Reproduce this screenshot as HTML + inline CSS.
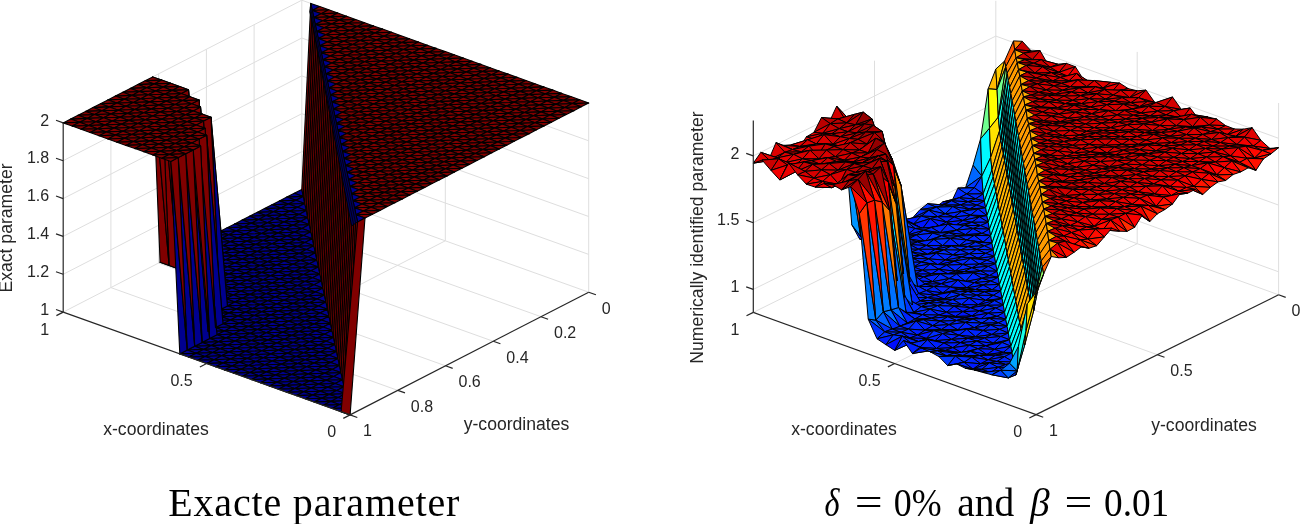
<!DOCTYPE html>
<html><head><meta charset="utf-8"><title>Exact and identified parameter</title>
<style>
html,body{margin:0;padding:0;background:#fff}
body{width:1300px;height:524px;overflow:hidden;position:relative}
svg{position:absolute;left:0;top:0;font-family:"Liberation Sans",sans-serif}
</style></head><body>
<svg width="1300" height="524" viewBox="0 0 1300 524">
<path d="M63.2 274.3L301.8 151.6" stroke="#dedede" stroke-width="1" fill="none"/>
<path d="M301.8 151.6L588.7 254.4" stroke="#dedede" stroke-width="1" fill="none"/>
<path d="M63.2 236.4L301.8 113.7" stroke="#dedede" stroke-width="1" fill="none"/>
<path d="M301.8 113.7L588.7 216.5" stroke="#dedede" stroke-width="1" fill="none"/>
<path d="M63.2 198.6L301.8 75.9" stroke="#dedede" stroke-width="1" fill="none"/>
<path d="M301.8 75.9L588.7 178.7" stroke="#dedede" stroke-width="1" fill="none"/>
<path d="M63.2 160.7L301.8 38" stroke="#dedede" stroke-width="1" fill="none"/>
<path d="M301.8 38L588.7 140.8" stroke="#dedede" stroke-width="1" fill="none"/>
<path d="M63.2 122.9L301.8 0.2" stroke="#dedede" stroke-width="1" fill="none"/>
<path d="M301.8 0.2L588.7 103" stroke="#dedede" stroke-width="1" fill="none"/>
<path d="M254.1 213.9L254.1 24.7" stroke="#dedede" stroke-width="1" fill="none"/>
<path d="M254.1 213.9L541 316.7" stroke="#dedede" stroke-width="1" fill="none"/>
<path d="M206.4 238.5L206.4 49.3" stroke="#dedede" stroke-width="1" fill="none"/>
<path d="M206.4 238.5L493.3 341.3" stroke="#dedede" stroke-width="1" fill="none"/>
<path d="M158.6 263L158.6 73.8" stroke="#dedede" stroke-width="1" fill="none"/>
<path d="M158.6 263L445.5 365.8" stroke="#dedede" stroke-width="1" fill="none"/>
<path d="M110.9 287.6L110.9 98.4" stroke="#dedede" stroke-width="1" fill="none"/>
<path d="M110.9 287.6L397.8 390.4" stroke="#dedede" stroke-width="1" fill="none"/>
<path d="M445.3 240.8L445.3 51.6" stroke="#dedede" stroke-width="1" fill="none"/>
<path d="M445.3 240.8L206.7 363.5" stroke="#dedede" stroke-width="1" fill="none"/>
<path d="M301.8 189.4L301.8 0.2" stroke="#dedede" stroke-width="1" fill="none"/>
<path d="M588.7 292.2L588.7 103" stroke="#dedede" stroke-width="1" fill="none"/>
<path d="M63.2 312.1L301.8 189.4" stroke="#dedede" stroke-width="1" fill="none"/>
<path d="M301.8 189.4L588.7 292.2" stroke="#dedede" stroke-width="1" fill="none"/>
<g stroke="#000" stroke-width="1.1" stroke-linejoin="round">
<path fill="#00008f" d="M301.8 189.4L303.3 196.4L294.3 193.2z"/>
<path fill="#00008f" d="M303.3 196.4L294.3 193.2L286.9 197.1z"/>
<path fill="#00008f" d="M303.3 196.4L295.9 200.3L286.9 197.1z"/>
<path fill="#00008f" d="M295.9 200.3L286.9 197.1L279.4 200.9z"/>
<path fill="#00008f" d="M303.3 196.4L304.8 203.5L295.9 200.3z"/>
<path fill="#00008f" d="M295.9 200.3L288.4 204.1L279.4 200.9z"/>
<path fill="#00008f" d="M304.8 203.5L295.9 200.3L288.4 204.1z"/>
<path fill="#00008f" d="M288.4 204.1L279.4 200.9L272 204.7z"/>
<path fill="#00008f" d="M304.8 203.5L297.4 207.3L288.4 204.1z"/>
<path fill="#00008f" d="M288.4 204.1L280.9 208L272 204.7z"/>
<path fill="#00008f" d="M297.4 207.3L288.4 204.1L280.9 208z"/>
<path fill="#00008f" d="M280.9 208L272 204.7L264.5 208.6z"/>
<path fill="#00008f" d="M304.8 203.5L306.3 210.5L297.4 207.3z"/>
<path fill="#00008f" d="M297.4 207.3L289.9 211.2L280.9 208z"/>
<path fill="#00008f" d="M280.9 208L273.5 211.8L264.5 208.6z"/>
<path fill="#00008f" d="M306.3 210.5L297.4 207.3L289.9 211.2z"/>
<path fill="#00008f" d="M289.9 211.2L280.9 208L273.5 211.8z"/>
<path fill="#00008f" d="M273.5 211.8L264.5 208.6L257.1 212.4z"/>
<path fill="#00008f" d="M306.3 210.5L298.9 214.4L289.9 211.2z"/>
<path fill="#00008f" d="M289.9 211.2L282.5 215L273.5 211.8z"/>
<path fill="#00008f" d="M273.5 211.8L266 215.6L257.1 212.4z"/>
<path fill="#00008f" d="M298.9 214.4L289.9 211.2L282.5 215z"/>
<path fill="#00008f" d="M282.5 215L273.5 211.8L266 215.6z"/>
<path fill="#00008f" d="M306.3 210.5L307.8 217.6L298.9 214.4z"/>
<path fill="#00008f" d="M266 215.6L257.1 212.4L249.6 216.2z"/>
<path fill="#800000" d="M310.8 3.4L312.3 10.5L303.3 196.4L301.8 189.4z"/>
<path fill="#00008f" d="M298.9 214.4L291.4 218.2L282.5 215z"/>
<path fill="#00008f" d="M282.5 215L275 218.8L266 215.6z"/>
<path fill="#00008f" d="M307.8 217.6L298.9 214.4L291.4 218.2z"/>
<path fill="#00008f" d="M266 215.6L258.6 219.5L249.6 216.2z"/>
<path fill="#00008f" d="M291.4 218.2L282.5 215L275 218.8z"/>
<path fill="#00008f" d="M275 218.8L266 215.6L258.6 219.5z"/>
<path fill="#00008f" d="M258.6 219.5L249.6 216.2L242.2 220.1z"/>
<path fill="#00008f" d="M307.8 217.6L300.4 221.4L291.4 218.2z"/>
<path fill="#00008f" d="M291.4 218.2L284 222L275 218.8z"/>
<path fill="#00008f" d="M275 218.8L267.5 222.7L258.6 219.5z"/>
<path fill="#00008f" d="M300.4 221.4L291.4 218.2L284 222z"/>
<path fill="#00008f" d="M258.6 219.5L251.1 223.3L242.2 220.1z"/>
<path fill="#00008f" d="M284 222L275 218.8L267.5 222.7z"/>
<path fill="#00008f" d="M307.8 217.6L309.3 224.6L300.4 221.4z"/>
<path fill="#00008f" d="M267.5 222.7L258.6 219.5L251.1 223.3z"/>
<path fill="#00008f" d="M251.1 223.3L242.2 220.1L234.7 223.9z"/>
<path fill="#800000" d="M312.3 10.5L313.8 17.5L304.8 203.5L303.3 196.4z"/>
<path fill="#00008f" d="M300.4 221.4L292.9 225.3L284 222z"/>
<path fill="#00008f" d="M284 222L276.5 225.9L267.5 222.7z"/>
<path fill="#00008f" d="M309.3 224.6L300.4 221.4L292.9 225.3z"/>
<path fill="#00008f" d="M267.5 222.7L260.1 226.5L251.1 223.3z"/>
<path fill="#00008f" d="M292.9 225.3L284 222L276.5 225.9z"/>
<path fill="#00008f" d="M251.1 223.3L243.7 227.1L234.7 223.9z"/>
<path fill="#00008f" d="M276.5 225.9L267.5 222.7L260.1 226.5z"/>
<path fill="#00008f" d="M260.1 226.5L251.1 223.3L243.7 227.1z"/>
<path fill="#00008f" d="M309.3 224.6L301.9 228.5L292.9 225.3z"/>
<path fill="#00008f" d="M243.7 227.1L234.7 223.9L227.2 227.7z"/>
<path fill="#00008f" d="M292.9 225.3L285.5 229.1L276.5 225.9z"/>
<path fill="#00008f" d="M276.5 225.9L269 229.7L260.1 226.5z"/>
<path fill="#00008f" d="M301.9 228.5L292.9 225.3L285.5 229.1z"/>
<path fill="#00008f" d="M260.1 226.5L252.6 230.3L243.7 227.1z"/>
<path fill="#00008f" d="M285.5 229.1L276.5 225.9L269 229.7z"/>
<path fill="#00008f" d="M309.3 224.6L310.9 231.7L301.9 228.5z"/>
<path fill="#00008f" d="M243.7 227.1L236.2 231L227.2 227.7z"/>
<path fill="#00008f" d="M269 229.7L260.1 226.5L252.6 230.3z"/>
<path fill="#00008f" d="M252.6 230.3L243.7 227.1L236.2 231z"/>
<path fill="#800000" d="M313.8 17.5L315.3 24.6L306.3 210.5L304.8 203.5z"/>
<path fill="#00008f" d="M301.9 228.5L294.4 232.3L285.5 229.1z"/>
<path fill="#00008f" d="M236.2 231L227.2 227.7L219.8 231.6z"/>
<path fill="#00008f" d="M285.5 229.1L278 232.9L269 229.7z"/>
<path fill="#00008f" d="M310.9 231.7L301.9 228.5L294.4 232.3z"/>
<path fill="#00008f" d="M269 229.7L261.6 233.5L252.6 230.3z"/>
<path fill="#00008f" d="M294.4 232.3L285.5 229.1L278 232.9z"/>
<path fill="#00008f" d="M252.6 230.3L245.2 234.2L236.2 231z"/>
<path fill="#00008f" d="M278 232.9L269 229.7L261.6 233.5z"/>
<path fill="#00008f" d="M236.2 231L228.7 234.8L219.8 231.6z"/>
<path fill="#00008f" d="M261.6 233.5L252.6 230.3L245.2 234.2z"/>
<path fill="#00008f" d="M310.9 231.7L303.4 235.5L294.4 232.3z"/>
<path fill="#00008f" d="M245.2 234.2L236.2 231L228.7 234.8z"/>
<path fill="#00008f" d="M294.4 232.3L287 236.1L278 232.9z"/>
<path fill="#00008f" d="M228.7 234.8L219.8 231.6L212.3 235.4z"/>
<path fill="#00008f" d="M278 232.9L270.6 236.8L261.6 233.5z"/>
<path fill="#00008f" d="M303.4 235.5L294.4 232.3L287 236.1z"/>
<path fill="#00008f" d="M261.6 233.5L254.1 237.4L245.2 234.2z"/>
<path fill="#00008f" d="M287 236.1L278 232.9L270.6 236.8z"/>
<path fill="#00008f" d="M310.9 231.7L312.4 238.7L303.4 235.5z"/>
<path fill="#00008f" d="M245.2 234.2L237.7 238L228.7 234.8z"/>
<path fill="#00008f" d="M270.6 236.8L261.6 233.5L254.1 237.4z"/>
<path fill="#00008f" d="M228.7 234.8L221.3 238.6L212.3 235.4z"/>
<path fill="#00008f" d="M254.1 237.4L245.2 234.2L237.7 238z"/>
<path fill="#800000" d="M315.3 24.6L316.8 31.6L307.8 217.6L306.3 210.5z"/>
<path fill="#00008f" d="M303.4 235.5L295.9 239.4L287 236.1z"/>
<path fill="#00008f" d="M237.7 238L228.7 234.8L221.3 238.6z"/>
<path fill="#00008f" d="M287 236.1L279.5 240L270.6 236.8z"/>
<path fill="#00008f" d="M221.3 238.6L212.3 235.4L204.9 239.2z"/>
<path fill="#00008f" d="M312.4 238.7L303.4 235.5L295.9 239.4z"/>
<path fill="#00008f" d="M270.6 236.8L263.1 240.6L254.1 237.4z"/>
<path fill="#00008f" d="M319.7 6.6L310.8 3.4L312.3 10.5z"/>
<path fill="#00008f" d="M295.9 239.4L287 236.1L279.5 240z"/>
<path fill="#00008f" d="M254.1 237.4L246.7 241.2L237.7 238z"/>
<path fill="#00008f" d="M279.5 240L270.6 236.8L263.1 240.6z"/>
<path fill="#00008f" d="M237.7 238L230.3 241.8L221.3 238.6z"/>
<path fill="#00008f" d="M263.1 240.6L254.1 237.4L246.7 241.2z"/>
<path fill="#00008f" d="M221.3 238.6L213.8 242.5L204.9 239.2z"/>
<path fill="#00008f" d="M312.4 238.7L304.9 242.6L295.9 239.4z"/>
<path fill="#00008f" d="M246.7 241.2L237.7 238L230.3 241.8z"/>
<path fill="#800000" d="M328.7 9.8L319.7 6.6L312.3 10.5z"/>
<path fill="#00008f" d="M295.9 239.4L288.5 243.2L279.5 240z"/>
<path fill="#00008f" d="M230.3 241.8L221.3 238.6L213.8 242.5z"/>
<path fill="#00008f" d="M279.5 240L272.1 243.8L263.1 240.6z"/>
<path fill="#00008f" d="M213.8 242.5L204.9 239.2L197.4 243.1z"/>
<path fill="#00008f" d="M304.9 242.6L295.9 239.4L288.5 243.2z"/>
<path fill="#00008f" d="M263.1 240.6L255.6 244.4L246.7 241.2z"/>
<path fill="#00008f" d="M288.5 243.2L279.5 240L272.1 243.8z"/>
<path fill="#00008f" d="M312.4 238.7L313.9 245.8L304.9 242.6z"/>
<path fill="#00008f" d="M246.7 241.2L239.2 245.1L230.3 241.8z"/>
<path fill="#800000" d="M328.7 9.8L321.2 13.7L312.3 10.5z"/>
<path fill="#00008f" d="M272.1 243.8L263.1 240.6L255.6 244.4z"/>
<path fill="#00008f" d="M230.3 241.8L222.8 245.7L213.8 242.5z"/>
<path fill="#00008f" d="M255.6 244.4L246.7 241.2L239.2 245.1z"/>
<path fill="#800000" d="M337.7 13.1L328.7 9.8L321.2 13.7z"/>
<path fill="#800000" d="M316.8 31.6L318.3 38.6L309.3 224.6L307.8 217.6z"/>
<path fill="#00008f" d="M213.8 242.5L206.4 246.3L197.4 243.1z"/>
<path fill="#00008f" d="M304.9 242.6L297.5 246.4L288.5 243.2z"/>
<path fill="#00008f" d="M239.2 245.1L230.3 241.8L222.8 245.7z"/>
<path fill="#00008f" d="M288.5 243.2L281 247L272.1 243.8z"/>
<path fill="#00008f" d="M222.8 245.7L213.8 242.5L206.4 246.3z"/>
<path fill="#00008f" d="M313.9 245.8L304.9 242.6L297.5 246.4z"/>
<path fill="#00008f" d="M272.1 243.8L264.6 247.6L255.6 244.4z"/>
<path fill="#00008f" d="M321.2 13.7L312.3 10.5L313.8 17.5z"/>
<path fill="#00008f" d="M206.4 246.3L197.4 243.1L190 246.9z"/>
<path fill="#00008f" d="M297.5 246.4L288.5 243.2L281 247z"/>
<path fill="#00008f" d="M255.6 244.4L248.2 248.3L239.2 245.1z"/>
<path fill="#800000" d="M337.7 13.1L330.2 16.9L321.2 13.7z"/>
<path fill="#00008f" d="M281 247L272.1 243.8L264.6 247.6z"/>
<path fill="#00008f" d="M239.2 245.1L231.8 248.9L222.8 245.7z"/>
<path fill="#00008f" d="M264.6 247.6L255.6 244.4L248.2 248.3z"/>
<path fill="#800000" d="M346.6 16.3L337.7 13.1L330.2 16.9z"/>
<path fill="#00008f" d="M222.8 245.7L215.3 249.5L206.4 246.3z"/>
<path fill="#00008f" d="M313.9 245.8L306.4 249.6L297.5 246.4z"/>
<path fill="#00008f" d="M248.2 248.3L239.2 245.1L231.8 248.9z"/>
<path fill="#800000" d="M330.2 16.9L321.2 13.7L313.8 17.5z"/>
<path fill="#00008f" d="M206.4 246.3L198.9 250.1L190 246.9z"/>
<path fill="#00008f" d="M297.5 246.4L290 250.2L281 247z"/>
<path fill="#00008f" d="M231.8 248.9L222.8 245.7L215.3 249.5z"/>
<path fill="#00008f" d="M281 247L273.6 250.9L264.6 247.6z"/>
<path fill="#00008f" d="M215.3 249.5L206.4 246.3L198.9 250.1z"/>
<path fill="#00008f" d="M306.4 249.6L297.5 246.4L290 250.2z"/>
<path fill="#00008f" d="M264.6 247.6L257.2 251.5L248.2 248.3z"/>
<path fill="#800000" d="M346.6 16.3L339.2 20.1L330.2 16.9z"/>
<path fill="#00008f" d="M198.9 250.1L190 246.9L182.5 250.7z"/>
<path fill="#00008f" d="M290 250.2L281 247L273.6 250.9z"/>
<path fill="#00008f" d="M313.9 245.8L315.4 252.8L306.4 249.6z"/>
<path fill="#00008f" d="M248.2 248.3L240.7 252.1L231.8 248.9z"/>
<path fill="#800000" d="M330.2 16.9L322.8 20.7L313.8 17.5z"/>
<path fill="#00008f" d="M273.6 250.9L264.6 247.6L257.2 251.5z"/>
<path fill="#800000" d="M355.6 19.5L346.6 16.3L339.2 20.1z"/>
<path fill="#00008f" d="M231.8 248.9L224.3 252.7L215.3 249.5z"/>
<path fill="#00008f" d="M257.2 251.5L248.2 248.3L240.7 252.1z"/>
<path fill="#800000" d="M339.2 20.1L330.2 16.9L322.8 20.7z"/>
<path fill="#800000" d="M318.3 38.6L319.8 45.7L310.9 231.7L309.3 224.6z"/>
<path fill="#00008f" d="M215.3 249.5L207.9 253.3L198.9 250.1z"/>
<path fill="#00008f" d="M306.4 249.6L299 253.4L290 250.2z"/>
<path fill="#00008f" d="M240.7 252.1L231.8 248.9L224.3 252.7z"/>
<path fill="#00008f" d="M198.9 250.1L191.5 254L182.5 250.7z"/>
<path fill="#00008f" d="M290 250.2L282.5 254.1L273.6 250.9z"/>
<path fill="#00008f" d="M224.3 252.7L215.3 249.5L207.9 253.3z"/>
<path fill="#00008f" d="M315.4 252.8L306.4 249.6L299 253.4z"/>
<path fill="#00008f" d="M273.6 250.9L266.1 254.7L257.2 251.5z"/>
<path fill="#00008f" d="M322.8 20.7L313.8 17.5L315.3 24.6z"/>
<path fill="#800000" d="M355.6 19.5L348.1 23.3L339.2 20.1z"/>
<path fill="#00008f" d="M207.9 253.3L198.9 250.1L191.5 254z"/>
<path fill="#00008f" d="M299 253.4L290 250.2L282.5 254.1z"/>
<path fill="#00008f" d="M257.2 251.5L249.7 255.3L240.7 252.1z"/>
<path fill="#800000" d="M339.2 20.1L331.7 23.9L322.8 20.7z"/>
<path fill="#00008f" d="M191.5 254L182.5 250.7L175 254.6z"/>
<path fill="#00008f" d="M282.5 254.1L273.6 250.9L266.1 254.7z"/>
<path fill="#800000" d="M364.6 22.7L355.6 19.5L348.1 23.3z"/>
<path fill="#00008f" d="M240.7 252.1L233.3 255.9L224.3 252.7z"/>
<path fill="#00008f" d="M266.1 254.7L257.2 251.5L249.7 255.3z"/>
<path fill="#800000" d="M348.1 23.3L339.2 20.1L331.7 23.9z"/>
<path fill="#00008f" d="M224.3 252.7L216.9 256.6L207.9 253.3z"/>
<path fill="#00008f" d="M315.4 252.8L307.9 256.7L299 253.4z"/>
<path fill="#00008f" d="M249.7 255.3L240.7 252.1L233.3 255.9z"/>
<path fill="#800000" d="M331.7 23.9L322.8 20.7L315.3 24.6z"/>
<path fill="#00008f" d="M207.9 253.3L200.4 257.2L191.5 254z"/>
<path fill="#00008f" d="M299 253.4L291.5 257.3L282.5 254.1z"/>
<path fill="#00008f" d="M233.3 255.9L224.3 252.7L216.9 256.6z"/>
<path fill="#00008f" d="M191.5 254L184 257.8L175 254.6z"/>
<path fill="#00008f" d="M282.5 254.1L275.1 257.9L266.1 254.7z"/>
<path fill="#800000" d="M364.6 22.7L357.1 26.5L348.1 23.3z"/>
<path fill="#00008f" d="M216.9 256.6L207.9 253.3L200.4 257.2z"/>
<path fill="#00008f" d="M307.9 256.7L299 253.4L291.5 257.3z"/>
<path fill="#00008f" d="M266.1 254.7L258.7 258.5L249.7 255.3z"/>
<path fill="#800000" d="M348.1 23.3L340.7 27.1L331.7 23.9z"/>
<path fill="#00008f" d="M200.4 257.2L191.5 254L184 257.8z"/>
<path fill="#00008f" d="M291.5 257.3L282.5 254.1L275.1 257.9z"/>
<path fill="#00008f" d="M315.4 252.8L316.9 259.9L307.9 256.7z"/>
<path fill="#800000" d="M373.5 25.9L364.6 22.7L357.1 26.5z"/>
<path fill="#00008f" d="M249.7 255.3L242.2 259.1L233.3 255.9z"/>
<path fill="#800000" d="M331.7 23.9L324.3 27.8L315.3 24.6z"/>
<path fill="#00008f" d="M184 257.8L175 254.6L167.6 258.4z"/>
<path fill="#00008f" d="M275.1 257.9L266.1 254.7L258.7 258.5z"/>
<path fill="#800000" d="M357.1 26.5L348.1 23.3L340.7 27.1z"/>
<path fill="#00008f" d="M233.3 255.9L225.8 259.8L216.9 256.6z"/>
<path fill="#00008f" d="M258.7 258.5L249.7 255.3L242.2 259.1z"/>
<path fill="#800000" d="M340.7 27.1L331.7 23.9L324.3 27.8z"/>
<path fill="#800000" d="M319.8 45.7L321.3 52.7L312.4 238.7L310.9 231.7z"/>
<path fill="#00008f" d="M216.9 256.6L209.4 260.4L200.4 257.2z"/>
<path fill="#00008f" d="M307.9 256.7L300.5 260.5L291.5 257.3z"/>
<path fill="#00008f" d="M242.2 259.1L233.3 255.9L225.8 259.8z"/>
<path fill="#00008f" d="M200.4 257.2L193 261L184 257.8z"/>
<path fill="#00008f" d="M291.5 257.3L284.1 261.1L275.1 257.9z"/>
<path fill="#800000" d="M373.5 25.9L366.1 29.7L357.1 26.5z"/>
<path fill="#00008f" d="M225.8 259.8L216.9 256.6L209.4 260.4z"/>
<path fill="#00008f" d="M316.9 259.9L307.9 256.7L300.5 260.5z"/>
<path fill="#00008f" d="M184 257.8L176.6 261.6L167.6 258.4z"/>
<path fill="#00008f" d="M275.1 257.9L267.6 261.7L258.7 258.5z"/>
<path fill="#00008f" d="M324.3 27.8L315.3 24.6L316.8 31.6z"/>
<path fill="#800000" d="M357.1 26.5L349.6 30.4L340.7 27.1z"/>
<path fill="#00008f" d="M209.4 260.4L200.4 257.2L193 261z"/>
<path fill="#00008f" d="M300.5 260.5L291.5 257.3L284.1 261.1z"/>
<path fill="#800000" d="M382.5 29.1L373.5 25.9L366.1 29.7z"/>
<path fill="#00008f" d="M258.7 258.5L251.2 262.4L242.2 259.1z"/>
<path fill="#800000" d="M340.7 27.1L333.2 31L324.3 27.8z"/>
<path fill="#00008f" d="M193 261L184 257.8L176.6 261.6z"/>
<path fill="#00008f" d="M284.1 261.1L275.1 257.9L267.6 261.7z"/>
<path fill="#800000" d="M366.1 29.7L357.1 26.5L349.6 30.4z"/>
<path fill="#00008f" d="M242.2 259.1L234.8 263L225.8 259.8z"/>
<path fill="#00008f" d="M176.6 261.6L167.6 258.4L160.1 262.3z"/>
<path fill="#00008f" d="M267.6 261.7L258.7 258.5L251.2 262.4z"/>
<path fill="#800000" d="M349.6 30.4L340.7 27.1L333.2 31z"/>
<path fill="#00008f" d="M225.8 259.8L218.4 263.6L209.4 260.4z"/>
<path fill="#00008f" d="M316.9 259.9L309.4 263.7L300.5 260.5z"/>
<path fill="#00008f" d="M251.2 262.4L242.2 259.1L234.8 263z"/>
<path fill="#800000" d="M333.2 31L324.3 27.8L316.8 31.6z"/>
<path fill="#00008f" d="M209.4 260.4L201.9 264.2L193 261z"/>
<path fill="#00008f" d="M300.5 260.5L293 264.3L284.1 261.1z"/>
<path fill="#800000" d="M382.5 29.1L375 32.9L366.1 29.7z"/>
<path fill="#00008f" d="M234.8 263L225.8 259.8L218.4 263.6z"/>
<path fill="#00008f" d="M193 261L185.5 264.8L176.6 261.6z"/>
<path fill="#00008f" d="M284.1 261.1L276.6 264.9L267.6 261.7z"/>
<path fill="#800000" d="M366.1 29.7L358.6 33.6L349.6 30.4z"/>
<path fill="#00008f" d="M218.4 263.6L209.4 260.4L201.9 264.2z"/>
<path fill="#00008f" d="M309.4 263.7L300.5 260.5L293 264.3z"/>
<path fill="#800000" d="M391.5 32.3L382.5 29.1L375 32.9z"/>
<path fill="#00008f" d="M176.6 261.6L169.1 265.5L160.1 262.3z"/>
<path fill="#00008f" d="M267.6 261.7L260.2 265.6L251.2 262.4z"/>
<path fill="#800000" d="M349.6 30.4L342.2 34.2L333.2 31z"/>
<path fill="#00008f" d="M201.9 264.2L193 261L185.5 264.8z"/>
<path fill="#00008f" d="M293 264.3L284.1 261.1L276.6 264.9z"/>
<path fill="#00008f" d="M316.9 259.9L318.4 266.9L309.4 263.7z"/>
<path fill="#800000" d="M375 32.9L366.1 29.7L358.6 33.6z"/>
<path fill="#00008f" d="M251.2 262.4L243.8 266.2L234.8 263z"/>
<path fill="#800000" d="M333.2 31L325.8 34.8L316.8 31.6z"/>
<path fill="#00008f" d="M185.5 264.8L176.6 261.6L169.1 265.5z"/>
<path fill="#00008f" d="M276.6 264.9L267.6 261.7L260.2 265.6z"/>
<path fill="#800000" d="M358.6 33.6L349.6 30.4L342.2 34.2z"/>
<path fill="#00008f" d="M234.8 263L227.3 266.8L218.4 263.6z"/>
<path fill="#00008f" d="M260.2 265.6L251.2 262.4L243.8 266.2z"/>
<path fill="#800000" d="M342.2 34.2L333.2 31L325.8 34.8z"/>
<path fill="#800000" d="M321.3 52.7L322.8 59.8L313.9 245.8L312.4 238.7z"/>
<path fill="#00008f" d="M218.4 263.6L210.9 267.4L201.9 264.2z"/>
<path fill="#00008f" d="M309.4 263.7L302 267.5L293 264.3z"/>
<path fill="#800000" d="M391.5 32.3L384 36.2L375 32.9z"/>
<path fill="#00008f" d="M243.8 266.2L234.8 263L227.3 266.8z"/>
<path fill="#00008f" d="M201.9 264.2L194.5 268.1L185.5 264.8z"/>
<path fill="#00008f" d="M293 264.3L285.6 268.2L276.6 264.9z"/>
<path fill="#800000" d="M375 32.9L367.6 36.8L358.6 33.6z"/>
<path fill="#00008f" d="M227.3 266.8L218.4 263.6L210.9 267.4z"/>
<path fill="#00008f" d="M318.4 266.9L309.4 263.7L302 267.5z"/>
<path fill="#800000" d="M400.4 35.5L391.5 32.3L384 36.2z"/>
<path fill="#00008f" d="M185.5 264.8L178.1 268.7L169.1 265.5z"/>
<path fill="#00008f" d="M276.6 264.9L269.1 268.8L260.2 265.6z"/>
<path fill="#00008f" d="M325.8 34.8L316.8 31.6L318.3 38.6z"/>
<path fill="#800000" d="M358.6 33.6L351.2 37.4L342.2 34.2z"/>
<path fill="#00008f" d="M210.9 267.4L201.9 264.2L194.5 268.1z"/>
<path fill="#00008f" d="M302 267.5L293 264.3L285.6 268.2z"/>
<path fill="#800000" d="M384 36.2L375 32.9L367.6 36.8z"/>
<path fill="#00008f" d="M260.2 265.6L252.7 269.4L243.8 266.2z"/>
<path fill="#800000" d="M342.2 34.2L334.7 38L325.8 34.8z"/>
<path fill="#00008f" d="M194.5 268.1L185.5 264.8L178.1 268.7z"/>
<path fill="#00008f" d="M285.6 268.2L276.6 264.9L269.1 268.8z"/>
<path fill="#800000" d="M367.6 36.8L358.6 33.6L351.2 37.4z"/>
<path fill="#00008f" d="M243.8 266.2L236.3 270L227.3 266.8z"/>
<path fill="#00008f" d="M269.1 268.8L260.2 265.6L252.7 269.4z"/>
<path fill="#800000" d="M351.2 37.4L342.2 34.2L334.7 38z"/>
<path fill="#00008f" d="M227.3 266.8L219.9 270.6L210.9 267.4z"/>
<path fill="#00008f" d="M318.4 266.9L310.9 270.8L302 267.5z"/>
<path fill="#800000" d="M400.4 35.5L393 39.4L384 36.2z"/>
<path fill="#00008f" d="M252.7 269.4L243.8 266.2L236.3 270z"/>
<path fill="#800000" d="M334.7 38L325.8 34.8L318.3 38.6z"/>
<path fill="#00008f" d="M210.9 267.4L203.5 271.3L194.5 268.1z"/>
<path fill="#00008f" d="M302 267.5L294.5 271.4L285.6 268.2z"/>
<path fill="#800000" d="M384 36.2L376.5 40L367.6 36.8z"/>
<path fill="#00008f" d="M236.3 270L227.3 266.8L219.9 270.6z"/>
<path fill="#800000" d="M409.4 38.8L400.4 35.5L393 39.4z"/>
<path fill="#00008f" d="M194.5 268.1L187 271.9L178.1 268.7z"/>
<path fill="#00008f" d="M285.6 268.2L278.1 272L269.1 268.8z"/>
<path fill="#800000" d="M367.6 36.8L360.1 40.6L351.2 37.4z"/>
<path fill="#00008f" d="M219.9 270.6L210.9 267.4L203.5 271.3z"/>
<path fill="#00008f" d="M310.9 270.8L302 267.5L294.5 271.4z"/>
<path fill="#800000" d="M393 39.4L384 36.2L376.5 40z"/>
<path fill="#00008f" d="M269.1 268.8L261.7 272.6L252.7 269.4z"/>
<path fill="#800000" d="M351.2 37.4L343.7 41.2L334.7 38z"/>
<path fill="#00008f" d="M203.5 271.3L194.5 268.1L187 271.9z"/>
<path fill="#00008f" d="M294.5 271.4L285.6 268.2L278.1 272z"/>
<path fill="#00008f" d="M318.4 266.9L319.9 274L310.9 270.8z"/>
<path fill="#800000" d="M376.5 40L367.6 36.8L360.1 40.6z"/>
<path fill="#00008f" d="M252.7 269.4L245.3 273.2L236.3 270z"/>
<path fill="#800000" d="M334.7 38L327.3 41.9L318.3 38.6z"/>
<path fill="#00008f" d="M278.1 272L269.1 268.8L261.7 272.6z"/>
<path fill="#800000" d="M360.1 40.6L351.2 37.4L343.7 41.2z"/>
<path fill="#00008f" d="M236.3 270L228.8 273.9L219.9 270.6z"/>
<path fill="#800000" d="M409.4 38.8L401.9 42.6L393 39.4z"/>
<path fill="#00008f" d="M261.7 272.6L252.7 269.4L245.3 273.2z"/>
<path fill="#800000" d="M343.7 41.2L334.7 38L327.3 41.9z"/>
<path fill="#800000" d="M322.8 59.8L324.4 66.8L315.4 252.8L313.9 245.8z"/>
<path fill="#00008f" d="M219.9 270.6L212.4 274.5L203.5 271.3z"/>
<path fill="#00008f" d="M310.9 270.8L303.5 274.6L294.5 271.4z"/>
<path fill="#800000" d="M393 39.4L385.5 43.2L376.5 40z"/>
<path fill="#00008f" d="M245.3 273.2L236.3 270L228.8 273.9z"/>
<path fill="#800000" d="M418.4 42L409.4 38.8L401.9 42.6z"/>
<path fill="#00008f" d="M203.5 271.3L196 275.1L187 271.9z"/>
<path fill="#00008f" d="M294.5 271.4L287.1 275.2L278.1 272z"/>
<path fill="#800000" d="M376.5 40L369.1 43.8L360.1 40.6z"/>
<path fill="#00008f" d="M228.8 273.9L219.9 270.6L212.4 274.5z"/>
<path fill="#00008f" d="M319.9 274L310.9 270.8L303.5 274.6z"/>
<path fill="#800000" d="M401.9 42.6L393 39.4L385.5 43.2z"/>
<path fill="#00008f" d="M278.1 272L270.6 275.8L261.7 272.6z"/>
<path fill="#00008f" d="M327.3 41.9L318.3 38.6L319.8 45.7z"/>
<path fill="#800000" d="M360.1 40.6L352.7 44.5L343.7 41.2z"/>
<path fill="#00008f" d="M212.4 274.5L203.5 271.3L196 275.1z"/>
<path fill="#00008f" d="M303.5 274.6L294.5 271.4L287.1 275.2z"/>
<path fill="#800000" d="M385.5 43.2L376.5 40L369.1 43.8z"/>
<path fill="#00008f" d="M261.7 272.6L254.2 276.4L245.3 273.2z"/>
<path fill="#800000" d="M343.7 41.2L336.2 45.1L327.3 41.9z"/>
<path fill="#00008f" d="M287.1 275.2L278.1 272L270.6 275.8z"/>
<path fill="#800000" d="M369.1 43.8L360.1 40.6L352.7 44.5z"/>
<path fill="#00008f" d="M245.3 273.2L237.8 277.1L228.8 273.9z"/>
<path fill="#800000" d="M418.4 42L410.9 45.8L401.9 42.6z"/>
<path fill="#00008f" d="M270.6 275.8L261.7 272.6L254.2 276.4z"/>
<path fill="#800000" d="M352.7 44.5L343.7 41.2L336.2 45.1z"/>
<path fill="#00008f" d="M228.8 273.9L221.4 277.7L212.4 274.5z"/>
<path fill="#00008f" d="M319.9 274L312.5 277.8L303.5 274.6z"/>
<path fill="#800000" d="M401.9 42.6L394.5 46.4L385.5 43.2z"/>
<path fill="#00008f" d="M254.2 276.4L245.3 273.2L237.8 277.1z"/>
<path fill="#800000" d="M336.2 45.1L327.3 41.9L319.8 45.7z"/>
<path fill="#800000" d="M427.3 45.2L418.4 42L410.9 45.8z"/>
<path fill="#00008f" d="M212.4 274.5L205 278.3L196 275.1z"/>
<path fill="#00008f" d="M303.5 274.6L296 278.4L287.1 275.2z"/>
<path fill="#800000" d="M385.5 43.2L378.1 47L369.1 43.8z"/>
<path fill="#00008f" d="M237.8 277.1L228.8 273.9L221.4 277.7z"/>
<path fill="#800000" d="M410.9 45.8L401.9 42.6L394.5 46.4z"/>
<path fill="#00008f" d="M287.1 275.2L279.6 279L270.6 275.8z"/>
<path fill="#800000" d="M369.1 43.8L361.6 47.7L352.7 44.5z"/>
<path fill="#00008f" d="M221.4 277.7L212.4 274.5L205 278.3z"/>
<path fill="#00008f" d="M312.5 277.8L303.5 274.6L296 278.4z"/>
<path fill="#800000" d="M394.5 46.4L385.5 43.2L378.1 47z"/>
<path fill="#00008f" d="M270.6 275.8L263.2 279.7L254.2 276.4z"/>
<path fill="#800000" d="M352.7 44.5L345.2 48.3L336.2 45.1z"/>
<path fill="#00008f" d="M296 278.4L287.1 275.2L279.6 279z"/>
<path fill="#00008f" d="M319.9 274L321.4 281L312.5 277.8z"/>
<path fill="#800000" d="M378.1 47L369.1 43.8L361.6 47.7z"/>
<path fill="#00008f" d="M254.2 276.4L246.8 280.3L237.8 277.1z"/>
<path fill="#800000" d="M336.2 45.1L328.8 48.9L319.8 45.7z"/>
<path fill="#800000" d="M427.3 45.2L419.9 49L410.9 45.8z"/>
<path fill="#00008f" d="M279.6 279L270.6 275.8L263.2 279.7z"/>
<path fill="#800000" d="M361.6 47.7L352.7 44.5L345.2 48.3z"/>
<path fill="#00008f" d="M237.8 277.1L230.3 280.9L221.4 277.7z"/>
<path fill="#800000" d="M169.1 265.5L160.1 262.3L152.7 76.9z"/>
<path fill="#800000" d="M410.9 45.8L403.4 49.6L394.5 46.4z"/>
<path fill="#00008f" d="M263.2 279.7L254.2 276.4L246.8 280.3z"/>
<path fill="#800000" d="M345.2 48.3L336.2 45.1L328.8 48.9z"/>
<path fill="#800000" d="M436.3 48.4L427.3 45.2L419.9 49z"/>
<path fill="#800000" d="M324.4 66.8L325.9 73.9L316.9 259.9L315.4 252.8z"/>
<path fill="#00008f" d="M221.4 277.7L213.9 281.5L205 278.3z"/>
<path fill="#00008f" d="M312.5 277.8L305 281.6L296 278.4z"/>
<path fill="#800000" d="M394.5 46.4L387 50.3L378.1 47z"/>
<path fill="#00008f" d="M246.8 280.3L237.8 277.1L230.3 280.9z"/>
<path fill="#800000" d="M419.9 49L410.9 45.8L403.4 49.6z"/>
<path fill="#00008f" d="M296 278.4L288.6 282.3L279.6 279z"/>
<path fill="#800000" d="M378.1 47L370.6 50.9L361.6 47.7z"/>
<path fill="#00008f" d="M230.3 280.9L221.4 277.7L213.9 281.5z"/>
<path fill="#00008f" d="M321.4 281L312.5 277.8L305 281.6z"/>
<path fill="#800000" d="M403.4 49.6L394.5 46.4L387 50.3z"/>
<path fill="#00008f" d="M279.6 279L272.2 282.9L263.2 279.7z"/>
<path fill="#00008f" d="M328.8 48.9L319.8 45.7L321.3 52.7z"/>
<path fill="#800000" d="M361.6 47.7L354.2 51.5L345.2 48.3z"/>
<path fill="#00008f" d="M213.9 281.5L205 278.3L197.5 282.1z"/>
<path fill="#00008f" d="M305 281.6L296 278.4L288.6 282.3z"/>
<path fill="#800000" d="M387 50.3L378.1 47L370.6 50.9z"/>
<path fill="#00008f" d="M263.2 279.7L255.7 283.5L246.8 280.3z"/>
<path fill="#800000" d="M345.2 48.3L337.8 52.1L328.8 48.9z"/>
<path fill="#800000" d="M436.3 48.4L428.8 52.2L419.9 49z"/>
<path fill="#00008f" d="M288.6 282.3L279.6 279L272.2 282.9z"/>
<path fill="#800000" d="M370.6 50.9L361.6 47.7L354.2 51.5z"/>
<path fill="#00008f" d="M246.8 280.3L239.3 284.1L230.3 280.9z"/>
<path fill="#800000" d="M178.1 268.7L169.1 265.5L161.6 80.1z"/>
<path fill="#800000" d="M419.9 49L412.4 52.8L403.4 49.6z"/>
<path fill="#00008f" d="M272.2 282.9L263.2 279.7L255.7 283.5z"/>
<path fill="#800000" d="M354.2 51.5L345.2 48.3L337.8 52.1z"/>
<path fill="#800000" d="M445.3 51.6L436.3 48.4L428.8 52.2z"/>
<path fill="#00008f" d="M230.3 280.9L222.9 284.7L213.9 281.5z"/>
<path fill="#00008f" d="M321.4 281L314 284.8L305 281.6z"/>
<path fill="#800000" d="M403.4 49.6L396 53.5L387 50.3z"/>
<path fill="#00008f" d="M255.7 283.5L246.8 280.3L239.3 284.1z"/>
<path fill="#800000" d="M337.8 52.1L328.8 48.9L321.3 52.7z"/>
<path fill="#800000" d="M428.8 52.2L419.9 49L412.4 52.8z"/>
<path fill="#00008f" d="M213.9 281.5L206.5 285.4L197.5 282.1z"/>
<path fill="#00008f" d="M305 281.6L297.5 285.5L288.6 282.3z"/>
<path fill="#800000" d="M387 50.3L379.6 54.1L370.6 50.9z"/>
<path fill="#00008f" d="M239.3 284.1L230.3 280.9L222.9 284.7z"/>
<path fill="#800000" d="M412.4 52.8L403.4 49.6L396 53.5z"/>
<path fill="#00008f" d="M288.6 282.3L281.1 286.1L272.2 282.9z"/>
<path fill="#800000" d="M370.6 50.9L363.1 54.7L354.2 51.5z"/>
<path fill="#00008f" d="M222.9 284.7L213.9 281.5L206.5 285.4z"/>
<path fill="#00008f" d="M314 284.8L305 281.6L297.5 285.5z"/>
<path fill="#800000" d="M396 53.5L387 50.3L379.6 54.1z"/>
<path fill="#00008f" d="M272.2 282.9L264.7 286.7L255.7 283.5z"/>
<path fill="#800000" d="M354.2 51.5L346.7 55.3L337.8 52.1z"/>
<path fill="#800000" d="M445.3 51.6L437.8 55.4L428.8 52.2z"/>
<path fill="#00008f" d="M297.5 285.5L288.6 282.3L281.1 286.1z"/>
<path fill="#00008f" d="M321.4 281L322.9 288.1L314 284.8z"/>
<path fill="#800000" d="M379.6 54.1L370.6 50.9L363.1 54.7z"/>
<path fill="#00008f" d="M255.7 283.5L248.3 287.3L239.3 284.1z"/>
<path fill="#800000" d="M337.8 52.1L330.3 56L321.3 52.7z"/>
<path fill="#800000" d="M187 271.9L178.1 268.7L170.6 83.3z"/>
<path fill="#800000" d="M428.8 52.2L421.4 56.1L412.4 52.8z"/>
<path fill="#00008f" d="M281.1 286.1L272.2 282.9L264.7 286.7z"/>
<path fill="#800000" d="M363.1 54.7L354.2 51.5L346.7 55.3z"/>
<path fill="#800000" d="M454.2 54.8L445.3 51.6L437.8 55.4z"/>
<path fill="#00008f" d="M239.3 284.1L231.9 288L222.9 284.7z"/>
<path fill="#800000" d="M412.4 52.8L405 56.7L396 53.5z"/>
<path fill="#00008f" d="M264.7 286.7L255.7 283.5L248.3 287.3z"/>
<path fill="#800000" d="M346.7 55.3L337.8 52.1L330.3 56z"/>
<path fill="#800000" d="M437.8 55.4L428.8 52.2L421.4 56.1z"/>
<path fill="#800000" d="M325.9 73.9L327.4 80.9L318.4 266.9L316.9 259.9z"/>
<path fill="#00008f" d="M222.9 284.7L215.4 288.6L206.5 285.4z"/>
<path fill="#00008f" d="M314 284.8L306.5 288.7L297.5 285.5z"/>
<path fill="#800000" d="M396 53.5L388.5 57.3L379.6 54.1z"/>
<path fill="#00008f" d="M248.3 287.3L239.3 284.1L231.9 288z"/>
<path fill="#800000" d="M421.4 56.1L412.4 52.8L405 56.7z"/>
<path fill="#00008f" d="M297.5 285.5L290.1 289.3L281.1 286.1z"/>
<path fill="#800000" d="M379.6 54.1L372.1 57.9L363.1 54.7z"/>
<path fill="#00008f" d="M231.9 288L222.9 284.7L215.4 288.6z"/>
<path fill="#00008f" d="M322.9 288.1L314 284.8L306.5 288.7z"/>
<path fill="#800000" d="M405 56.7L396 53.5L388.5 57.3z"/>
<path fill="#00008f" d="M281.1 286.1L273.7 289.9L264.7 286.7z"/>
<path fill="#00008f" d="M330.3 56L321.3 52.7L322.8 59.8z"/>
<path fill="#800000" d="M363.1 54.7L355.7 58.5L346.7 55.3z"/>
<path fill="#800000" d="M454.2 54.8L446.8 58.6L437.8 55.4z"/>
<path fill="#00008f" d="M306.5 288.7L297.5 285.5L290.1 289.3z"/>
<path fill="#800000" d="M388.5 57.3L379.6 54.1L372.1 57.9z"/>
<path fill="#00008f" d="M264.7 286.7L257.2 290.5L248.3 287.3z"/>
<path fill="#800000" d="M346.7 55.3L339.3 59.2L330.3 56z"/>
<path fill="#800000" d="M196 275.1L187 271.9L179.6 86.5z"/>
<path fill="#800000" d="M437.8 55.4L430.3 59.3L421.4 56.1z"/>
<path fill="#00008f" d="M290.1 289.3L281.1 286.1L273.7 289.9z"/>
<path fill="#800000" d="M372.1 57.9L363.1 54.7L355.7 58.5z"/>
<path fill="#800000" d="M463.2 58L454.2 54.8L446.8 58.6z"/>
<path fill="#00008f" d="M248.3 287.3L240.8 291.2L231.9 288z"/>
<path fill="#800000" d="M421.4 56.1L413.9 59.9L405 56.7z"/>
<path fill="#00008f" d="M273.7 289.9L264.7 286.7L257.2 290.5z"/>
<path fill="#800000" d="M355.7 58.5L346.7 55.3L339.3 59.2z"/>
<path fill="#800000" d="M446.8 58.6L437.8 55.4L430.3 59.3z"/>
<path fill="#00008f" d="M231.9 288L224.4 291.8L215.4 288.6z"/>
<path fill="#00008f" d="M322.9 288.1L315.5 291.9L306.5 288.7z"/>
<path fill="#800000" d="M405 56.7L397.5 60.5L388.5 57.3z"/>
<path fill="#00008f" d="M257.2 290.5L248.3 287.3L240.8 291.2z"/>
<path fill="#800000" d="M339.3 59.2L330.3 56L322.8 59.8z"/>
<path fill="#800000" d="M430.3 59.3L421.4 56.1L413.9 59.9z"/>
<path fill="#00008f" d="M306.5 288.7L299.1 292.5L290.1 289.3z"/>
<path fill="#800000" d="M388.5 57.3L381.1 61.1L372.1 57.9z"/>
<path fill="#00008f" d="M240.8 291.2L231.9 288L224.4 291.8z"/>
<path fill="#800000" d="M413.9 59.9L405 56.7L397.5 60.5z"/>
<path fill="#00008f" d="M290.1 289.3L282.6 293.1L273.7 289.9z"/>
<path fill="#800000" d="M372.1 57.9L364.7 61.8L355.7 58.5z"/>
<path fill="#00008f" d="M224.4 291.8L215.4 288.6L208 292.4z"/>
<path fill="#800000" d="M463.2 58L455.7 61.9L446.8 58.6z"/>
<path fill="#00008f" d="M315.5 291.9L306.5 288.7L299.1 292.5z"/>
<path fill="#800000" d="M397.5 60.5L388.5 57.3L381.1 61.1z"/>
<path fill="#00008f" d="M273.7 289.9L266.2 293.8L257.2 290.5z"/>
<path fill="#800000" d="M355.7 58.5L348.2 62.4L339.3 59.2z"/>
<path fill="#800000" d="M205 278.3L196 275.1L188.5 89.7z"/>
<path fill="#800000" d="M446.8 58.6L439.3 62.5L430.3 59.3z"/>
<path fill="#00008f" d="M299.1 292.5L290.1 289.3L282.6 293.1z"/>
<path fill="#00008f" d="M322.9 288.1L324.4 295.1L315.5 291.9z"/>
<path fill="#800000" d="M381.1 61.1L372.1 57.9L364.7 61.8z"/>
<path fill="#800000" d="M472.1 61.2L463.2 58L455.7 61.9z"/>
<path fill="#00008f" d="M257.2 290.5L249.8 294.4L240.8 291.2z"/>
<path fill="#800000" d="M339.3 59.2L331.8 63L322.8 59.8z"/>
<path fill="#800000" d="M430.3 59.3L422.9 63.1L413.9 59.9z"/>
<path fill="#00008f" d="M282.6 293.1L273.7 289.9L266.2 293.8z"/>
<path fill="#800000" d="M364.7 61.8L355.7 58.5L348.2 62.4z"/>
<path fill="#800000" d="M455.7 61.9L446.8 58.6L439.3 62.5z"/>
<path fill="#00008f" d="M240.8 291.2L233.4 295L224.4 291.8z"/>
<path fill="#800000" d="M413.9 59.9L406.5 63.7L397.5 60.5z"/>
<path fill="#00008f" d="M266.2 293.8L257.2 290.5L249.8 294.4z"/>
<path fill="#800000" d="M348.2 62.4L339.3 59.2L331.8 63z"/>
<path fill="#800000" d="M439.3 62.5L430.3 59.3L422.9 63.1z"/>
<path fill="#800000" d="M327.4 80.9L328.9 88L319.9 274L318.4 266.9z"/>
<path fill="#00008f" d="M224.4 291.8L216.9 295.6L208 292.4z"/>
<path fill="#00008f" d="M315.5 291.9L308 295.7L299.1 292.5z"/>
<path fill="#800000" d="M397.5 60.5L390 64.3L381.1 61.1z"/>
<path fill="#00008f" d="M249.8 294.4L240.8 291.2L233.4 295z"/>
<path fill="#800000" d="M422.9 63.1L413.9 59.9L406.5 63.7z"/>
<path fill="#00008f" d="M205 278.3L197.5 282.1L188.5 89.7z"/>
<path fill="#00008f" d="M299.1 292.5L291.6 296.3L282.6 293.1z"/>
<path fill="#800000" d="M381.1 61.1L373.6 65L364.7 61.8z"/>
<path fill="#00008f" d="M233.4 295L224.4 291.8L216.9 295.6z"/>
<path fill="#800000" d="M472.1 61.2L464.7 65.1L455.7 61.9z"/>
<path fill="#00008f" d="M324.4 295.1L315.5 291.9L308 295.7z"/>
<path fill="#800000" d="M406.5 63.7L397.5 60.5L390 64.3z"/>
<path fill="#00008f" d="M282.6 293.1L275.2 297L266.2 293.8z"/>
<path fill="#00008f" d="M331.8 63L322.8 59.8L324.4 66.8z"/>
<path fill="#800000" d="M364.7 61.8L357.2 65.6L348.2 62.4z"/>
<path fill="#800000" d="M455.7 61.9L448.3 65.7L439.3 62.5z"/>
<path fill="#00008f" d="M308 295.7L299.1 292.5L291.6 296.3z"/>
<path fill="#800000" d="M390 64.3L381.1 61.1L373.6 65z"/>
<path fill="#800000" d="M481.1 64.4L472.1 61.2L464.7 65.1z"/>
<path fill="#800000" d="M169.1 265.5L161.6 80.1L152.7 76.9z"/>
<path fill="#00008f" d="M266.2 293.8L258.8 297.6L249.8 294.4z"/>
<path fill="#800000" d="M348.2 62.4L340.8 66.2L331.8 63z"/>
<path fill="#800000" d="M439.3 62.5L431.8 66.3L422.9 63.1z"/>
<path fill="#00008f" d="M291.6 296.3L282.6 293.1L275.2 297z"/>
<path fill="#800000" d="M373.6 65L364.7 61.8L357.2 65.6z"/>
<path fill="#800000" d="M464.7 65.1L455.7 61.9L448.3 65.7z"/>
<path fill="#00008f" d="M249.8 294.4L242.3 298.2L233.4 295z"/>
<path fill="#800000" d="M422.9 63.1L415.4 66.9L406.5 63.7z"/>
<path fill="#00008f" d="M275.2 297L266.2 293.8L258.8 297.6z"/>
<path fill="#800000" d="M357.2 65.6L348.2 62.4L340.8 66.2z"/>
<path fill="#800000" d="M448.3 65.7L439.3 62.5L431.8 66.3z"/>
<path fill="#00008f" d="M233.4 295L225.9 298.8L216.9 295.6z"/>
<path fill="#00008f" d="M324.4 295.1L317 298.9L308 295.7z"/>
<path fill="#800000" d="M406.5 63.7L399 67.6L390 64.3z"/>
<path fill="#00008f" d="M258.8 297.6L249.8 294.4L242.3 298.2z"/>
<path fill="#800000" d="M340.8 66.2L331.8 63L324.4 66.8z"/>
<path fill="#800000" d="M431.8 66.3L422.9 63.1L415.4 66.9z"/>
<path fill="#00008f" d="M308 295.7L300.6 299.6L291.6 296.3z"/>
<path fill="#800000" d="M390 64.3L382.6 68.2L373.6 65z"/>
<path fill="#00008f" d="M242.3 298.2L233.4 295L225.9 298.8z"/>
<path fill="#800000" d="M481.1 64.4L473.7 68.3L464.7 65.1z"/>
<path fill="#800000" d="M415.4 66.9L406.5 63.7L399 67.6z"/>
<path fill="#00008f" d="M291.6 296.3L284.1 300.2L275.2 297z"/>
<path fill="#800000" d="M373.6 65L366.2 68.8L357.2 65.6z"/>
<path fill="#00008f" d="M225.9 298.8L216.9 295.6L209.5 299.5z"/>
<path fill="#800000" d="M464.7 65.1L457.2 68.9L448.3 65.7z"/>
<path fill="#00008f" d="M317 298.9L308 295.7L300.6 299.6z"/>
<path fill="#800000" d="M399 67.6L390 64.3L382.6 68.2z"/>
<path fill="#800000" d="M490.1 67.7L481.1 64.4L473.7 68.3z"/>
<path fill="#800000" d="M178.1 268.7L170.6 83.3L161.6 80.1z"/>
<path fill="#00008f" d="M275.2 297L267.7 300.8L258.8 297.6z"/>
<path fill="#800000" d="M357.2 65.6L349.7 69.4L340.8 66.2z"/>
<path fill="#800000" d="M206.5 285.4L197.5 282.1L190 96.8z"/>
<path fill="#800000" d="M448.3 65.7L440.8 69.5L431.8 66.3z"/>
<path fill="#00008f" d="M300.6 299.6L291.6 296.3L284.1 300.2z"/>
<path fill="#00008f" d="M324.4 295.1L326 302.1L317 298.9z"/>
<path fill="#800000" d="M382.6 68.2L373.6 65L366.2 68.8z"/>
<path fill="#800000" d="M473.7 68.3L464.7 65.1L457.2 68.9z"/>
<path fill="#00008f" d="M258.8 297.6L251.3 301.4L242.3 298.2z"/>
<path fill="#800000" d="M340.8 66.2L333.3 70L324.4 66.8z"/>
<path fill="#800000" d="M431.8 66.3L424.4 70.1L415.4 66.9z"/>
<path fill="#00008f" d="M284.1 300.2L275.2 297L267.7 300.8z"/>
<path fill="#800000" d="M366.2 68.8L357.2 65.6L349.7 69.4z"/>
<path fill="#800000" d="M457.2 68.9L448.3 65.7L440.8 69.5z"/>
<path fill="#00008f" d="M242.3 298.2L234.9 302L225.9 298.8z"/>
<path fill="#800000" d="M415.4 66.9L408 70.8L399 67.6z"/>
<path fill="#00008f" d="M267.7 300.8L258.8 297.6L251.3 301.4z"/>
<path fill="#800000" d="M349.7 69.4L340.8 66.2L333.3 70z"/>
<path fill="#800000" d="M440.8 69.5L431.8 66.3L424.4 70.1z"/>
<path fill="#800000" d="M328.9 88L330.4 95L321.4 281L319.9 274z"/>
<path fill="#00008f" d="M225.9 298.8L218.5 302.7L209.5 299.5z"/>
<path fill="#00008f" d="M317 298.9L309.5 302.8L300.6 299.6z"/>
<path fill="#800000" d="M399 67.6L391.5 71.4L382.6 68.2z"/>
<path fill="#00008f" d="M251.3 301.4L242.3 298.2L234.9 302z"/>
<path fill="#800000" d="M490.1 67.7L482.6 71.5L473.7 68.3z"/>
<path fill="#800000" d="M424.4 70.1L415.4 66.9L408 70.8z"/>
<path fill="#00008f" d="M300.6 299.6L293.1 303.4L284.1 300.2z"/>
<path fill="#800000" d="M382.6 68.2L375.1 72L366.2 68.8z"/>
<path fill="#00008f" d="M234.9 302L225.9 298.8L218.5 302.7z"/>
<path fill="#800000" d="M473.7 68.3L466.2 72.1L457.2 68.9z"/>
<path fill="#00008f" d="M326 302.1L317 298.9L309.5 302.8z"/>
<path fill="#800000" d="M408 70.8L399 67.6L391.5 71.4z"/>
<path fill="#800000" d="M499 70.9L490.1 67.7L482.6 71.5z"/>
<path fill="#800000" d="M187 271.9L179.6 86.5L170.6 83.3z"/>
<path fill="#00008f" d="M284.1 300.2L276.7 304L267.7 300.8z"/>
<path fill="#00008f" d="M333.3 70L324.4 66.8L325.9 73.9z"/>
<path fill="#800000" d="M366.2 68.8L358.7 72.6L349.7 69.4z"/>
<path fill="#800000" d="M215.4 288.6L206.5 285.4L199 100z"/>
<path fill="#800000" d="M457.2 68.9L449.8 72.7L440.8 69.5z"/>
<path fill="#00008f" d="M309.5 302.8L300.6 299.6L293.1 303.4z"/>
<path fill="#800000" d="M391.5 71.4L382.6 68.2L375.1 72z"/>
<path fill="#800000" d="M482.6 71.5L473.7 68.3L466.2 72.1z"/>
<path fill="#00008f" d="M267.7 300.8L260.3 304.6L251.3 301.4z"/>
<path fill="#800000" d="M349.7 69.4L342.3 73.3L333.3 70z"/>
<path fill="#800000" d="M440.8 69.5L433.4 73.4L424.4 70.1z"/>
<path fill="#00008f" d="M293.1 303.4L284.1 300.2L276.7 304z"/>
<path fill="#800000" d="M375.1 72L366.2 68.8L358.7 72.6z"/>
<path fill="#800000" d="M466.2 72.1L457.2 68.9L449.8 72.7z"/>
<path fill="#00008f" d="M251.3 301.4L243.8 305.3L234.9 302z"/>
<path fill="#800000" d="M424.4 70.1L416.9 74L408 70.8z"/>
<path fill="#00008f" d="M276.7 304L267.7 300.8L260.3 304.6z"/>
<path fill="#800000" d="M358.7 72.6L349.7 69.4L342.3 73.3z"/>
<path fill="#800000" d="M449.8 72.7L440.8 69.5L433.4 73.4z"/>
<path fill="#00008f" d="M234.9 302L227.4 305.9L218.5 302.7z"/>
<path fill="#00008f" d="M326 302.1L318.5 306L309.5 302.8z"/>
<path fill="#800000" d="M408 70.8L400.5 74.6L391.5 71.4z"/>
<path fill="#00008f" d="M260.3 304.6L251.3 301.4L243.8 305.3z"/>
<path fill="#800000" d="M499 70.9L491.6 74.7L482.6 71.5z"/>
<path fill="#800000" d="M342.3 73.3L333.3 70L325.9 73.9z"/>
<path fill="#800000" d="M433.4 73.4L424.4 70.1L416.9 74z"/>
<path fill="#00008f" d="M215.4 288.6L208 292.4L199 100z"/>
<path fill="#00008f" d="M309.5 302.8L302.1 306.6L293.1 303.4z"/>
<path fill="#800000" d="M391.5 71.4L384.1 75.2L375.1 72z"/>
<path fill="#00008f" d="M243.8 305.3L234.9 302L227.4 305.9z"/>
<path fill="#800000" d="M482.6 71.5L475.2 75.3L466.2 72.1z"/>
<path fill="#800000" d="M416.9 74L408 70.8L400.5 74.6z"/>
<path fill="#800000" d="M508 74.1L499 70.9L491.6 74.7z"/>
<path fill="#800000" d="M196 275.1L188.5 89.7L179.6 86.5z"/>
<path fill="#00008f" d="M293.1 303.4L285.7 307.2L276.7 304z"/>
<path fill="#800000" d="M375.1 72L367.7 75.9L358.7 72.6z"/>
<path fill="#800000" d="M466.2 72.1L458.7 76L449.8 72.7z"/>
<path fill="#00008f" d="M318.5 306L309.5 302.8L302.1 306.6z"/>
<path fill="#800000" d="M400.5 74.6L391.5 71.4L384.1 75.2z"/>
<path fill="#800000" d="M491.6 74.7L482.6 71.5L475.2 75.3z"/>
<path fill="#00008f" d="M276.7 304L269.2 307.9L260.3 304.6z"/>
<path fill="#800000" d="M358.7 72.6L351.2 76.5L342.3 73.3z"/>
<path fill="#800000" d="M449.8 72.7L442.3 76.6L433.4 73.4z"/>
<path fill="#00008f" d="M302.1 306.6L293.1 303.4L285.7 307.2z"/>
<path fill="#00008f" d="M326 302.1L327.5 309.2L318.5 306z"/>
<path fill="#800000" d="M384.1 75.2L375.1 72L367.7 75.9z"/>
<path fill="#800000" d="M475.2 75.3L466.2 72.1L458.7 76z"/>
<path fill="#00008f" d="M260.3 304.6L252.8 308.5L243.8 305.3z"/>
<path fill="#800000" d="M342.3 73.3L334.8 77.1L325.9 73.9z"/>
<path fill="#800000" d="M433.4 73.4L425.9 77.2L416.9 74z"/>
<path fill="#00008f" d="M285.7 307.2L276.7 304L269.2 307.9z"/>
<path fill="#800000" d="M367.7 75.9L358.7 72.6L351.2 76.5z"/>
<path fill="#800000" d="M458.7 76L449.8 72.7L442.3 76.6z"/>
<path fill="#00008f" d="M243.8 305.3L236.4 309.1L227.4 305.9z"/>
<path fill="#800000" d="M416.9 74L409.5 77.8L400.5 74.6z"/>
<path fill="#00008f" d="M269.2 307.9L260.3 304.6L252.8 308.5z"/>
<path fill="#800000" d="M508 74.1L500.6 77.9L491.6 74.7z"/>
<path fill="#800000" d="M351.2 76.5L342.3 73.3L334.8 77.1z"/>
<path fill="#800000" d="M442.3 76.6L433.4 73.4L425.9 77.2z"/>
<path fill="#800000" d="M330.4 95L331.9 102.1L322.9 288.1L321.4 281z"/>
<path fill="#00008f" d="M318.5 306L311 309.8L302.1 306.6z"/>
<path fill="#800000" d="M400.5 74.6L393.1 78.4L384.1 75.2z"/>
<path fill="#00008f" d="M252.8 308.5L243.8 305.3L236.4 309.1z"/>
<path fill="#800000" d="M491.6 74.7L484.1 78.5L475.2 75.3z"/>
<path fill="#800000" d="M425.9 77.2L416.9 74L409.5 77.8z"/>
<path fill="#800000" d="M517 77.3L508 74.1L500.6 77.9z"/>
<path fill="#00008f" d="M302.1 306.6L294.6 310.4L285.7 307.2z"/>
<path fill="#800000" d="M384.1 75.2L376.6 79.1L367.7 75.9z"/>
<path fill="#00008f" d="M236.4 309.1L227.4 305.9L220 309.7z"/>
<path fill="#800000" d="M475.2 75.3L467.7 79.2L458.7 76z"/>
<path fill="#00008f" d="M327.5 309.2L318.5 306L311 309.8z"/>
<path fill="#800000" d="M409.5 77.8L400.5 74.6L393.1 78.4z"/>
<path fill="#800000" d="M500.6 77.9L491.6 74.7L484.1 78.5z"/>
<path fill="#00008f" d="M285.7 307.2L278.2 311.1L269.2 307.9z"/>
<path fill="#00008f" d="M334.8 77.1L325.9 73.9L327.4 80.9z"/>
<path fill="#800000" d="M367.7 75.9L360.2 79.7L351.2 76.5z"/>
<path fill="#800000" d="M216.9 295.6L208 292.4L200.5 107z"/>
<path fill="#800000" d="M458.7 76L451.3 79.8L442.3 76.6z"/>
<path fill="#00008f" d="M311 309.8L302.1 306.6L294.6 310.4z"/>
<path fill="#800000" d="M393.1 78.4L384.1 75.2L376.6 79.1z"/>
<path fill="#800000" d="M484.1 78.5L475.2 75.3L467.7 79.2z"/>
<path fill="#00008f" d="M269.2 307.9L261.8 311.7L252.8 308.5z"/>
<path fill="#800000" d="M351.2 76.5L343.8 80.3L334.8 77.1z"/>
<path fill="#800000" d="M197.5 282.1L188.5 89.7L181.1 93.6z"/>
<path fill="#800000" d="M442.3 76.6L434.9 80.4L425.9 77.2z"/>
<path fill="#00008f" d="M294.6 310.4L285.7 307.2L278.2 311.1z"/>
<path fill="#800000" d="M376.6 79.1L367.7 75.9L360.2 79.7z"/>
<path fill="#800000" d="M467.7 79.2L458.7 76L451.3 79.8z"/>
<path fill="#00008f" d="M252.8 308.5L245.4 312.3L236.4 309.1z"/>
<path fill="#800000" d="M425.9 77.2L418.4 81L409.5 77.8z"/>
<path fill="#00008f" d="M278.2 311.1L269.2 307.9L261.8 311.7z"/>
<path fill="#800000" d="M517 77.3L509.5 81.1L500.6 77.9z"/>
<path fill="#800000" d="M360.2 79.7L351.2 76.5L343.8 80.3z"/>
<path fill="#800000" d="M451.3 79.8L442.3 76.6L434.9 80.4z"/>
<path fill="#00008f" d="M236.4 309.1L228.9 312.9L220 309.7z"/>
<path fill="#800000" d="M161.6 80.1L152.7 76.9L145.2 80.7z"/>
<path fill="#00008f" d="M327.5 309.2L320 313L311 309.8z"/>
<path fill="#800000" d="M409.5 77.8L402 81.7L393.1 78.4z"/>
<path fill="#00008f" d="M261.8 311.7L252.8 308.5L245.4 312.3z"/>
<path fill="#800000" d="M500.6 77.9L493.1 81.8L484.1 78.5z"/>
<path fill="#800000" d="M343.8 80.3L334.8 77.1L327.4 80.9z"/>
<path fill="#800000" d="M434.9 80.4L425.9 77.2L418.4 81z"/>
<path fill="#800000" d="M525.9 80.5L517 77.3L509.5 81.1z"/>
<path fill="#00008f" d="M216.9 295.6L209.5 299.5L200.5 107z"/>
<path fill="#00008f" d="M311 309.8L303.6 313.7L294.6 310.4z"/>
<path fill="#800000" d="M393.1 78.4L385.6 82.3L376.6 79.1z"/>
<path fill="#00008f" d="M245.4 312.3L236.4 309.1L228.9 312.9z"/>
<path fill="#800000" d="M484.1 78.5L476.7 82.4L467.7 79.2z"/>
<path fill="#800000" d="M418.4 81L409.5 77.8L402 81.7z"/>
<path fill="#800000" d="M509.5 81.1L500.6 77.9L493.1 81.8z"/>
<path fill="#800000" d="M197.5 282.1L190 96.8L181.1 93.6z"/>
<path fill="#00008f" d="M294.6 310.4L287.2 314.3L278.2 311.1z"/>
<path fill="#800000" d="M376.6 79.1L369.2 82.9L360.2 79.7z"/>
<path fill="#00008f" d="M228.9 312.9L220 309.7L212.5 313.5z"/>
<path fill="#800000" d="M467.7 79.2L460.3 83L451.3 79.8z"/>
<path fill="#00008f" d="M320 313L311 309.8L303.6 313.7z"/>
<path fill="#800000" d="M402 81.7L393.1 78.4L385.6 82.3z"/>
<path fill="#800000" d="M493.1 81.8L484.1 78.5L476.7 82.4z"/>
<path fill="#00008f" d="M278.2 311.1L270.7 314.9L261.8 311.7z"/>
<path fill="#800000" d="M360.2 79.7L352.8 83.5L343.8 80.3z"/>
<path fill="#800000" d="M451.3 79.8L443.8 83.6L434.9 80.4z"/>
<path fill="#00008f" d="M303.6 313.7L294.6 310.4L287.2 314.3z"/>
<path fill="#00008f" d="M327.5 309.2L329 316.2L320 313z"/>
<path fill="#800000" d="M385.6 82.3L376.6 79.1L369.2 82.9z"/>
<path fill="#800000" d="M476.7 82.4L467.7 79.2L460.3 83z"/>
<path fill="#800000" d="M161.6 80.1L154.2 83.9L145.2 80.7z"/>
<path fill="#00008f" d="M261.8 311.7L254.3 315.5L245.4 312.3z"/>
<path fill="#800000" d="M343.8 80.3L336.3 84.1L327.4 80.9z"/>
<path fill="#800000" d="M434.9 80.4L427.4 84.2L418.4 81z"/>
<path fill="#00008f" d="M287.2 314.3L278.2 311.1L270.7 314.9z"/>
<path fill="#800000" d="M525.9 80.5L518.5 84.3L509.5 81.1z"/>
<path fill="#800000" d="M369.2 82.9L360.2 79.7L352.8 83.5z"/>
<path fill="#800000" d="M460.3 83L451.3 79.8L443.8 83.6z"/>
<path fill="#00008f" d="M245.4 312.3L237.9 316.1L228.9 312.9z"/>
<path fill="#800000" d="M170.6 83.3L161.6 80.1L154.2 83.9z"/>
<path fill="#800000" d="M418.4 81L411 84.9L402 81.7z"/>
<path fill="#00008f" d="M270.7 314.9L261.8 311.7L254.3 315.5z"/>
<path fill="#800000" d="M509.5 81.1L502.1 85L493.1 81.8z"/>
<path fill="#800000" d="M352.8 83.5L343.8 80.3L336.3 84.1z"/>
<path fill="#800000" d="M443.8 83.6L434.9 80.4L427.4 84.2z"/>
<path fill="#800000" d="M331.9 102.1L333.4 109.1L324.4 295.1L322.9 288.1z"/>
<path fill="#800000" d="M534.9 83.7L525.9 80.5L518.5 84.3z"/>
<path fill="#00008f" d="M228.9 312.9L221.5 316.8L212.5 313.5z"/>
<path fill="#800000" d="M154.2 83.9L145.2 80.7L137.8 84.6z"/>
<path fill="#00008f" d="M320 313L312.5 316.9L303.6 313.7z"/>
<path fill="#800000" d="M402 81.7L394.6 85.5L385.6 82.3z"/>
<path fill="#00008f" d="M254.3 315.5L245.4 312.3L237.9 316.1z"/>
<path fill="#800000" d="M493.1 81.8L485.6 85.6L476.7 82.4z"/>
<path fill="#800000" d="M427.4 84.2L418.4 81L411 84.9z"/>
<path fill="#800000" d="M518.5 84.3L509.5 81.1L502.1 85z"/>
<path fill="#800000" d="M206.5 285.4L199 100L190 96.8z"/>
<path fill="#00008f" d="M303.6 313.7L296.1 317.5L287.2 314.3z"/>
<path fill="#800000" d="M385.6 82.3L378.1 86.1L369.2 82.9z"/>
<path fill="#00008f" d="M237.9 316.1L228.9 312.9L221.5 316.8z"/>
<path fill="#800000" d="M476.7 82.4L469.2 86.2L460.3 83z"/>
<path fill="#00008f" d="M329 316.2L320 313L312.5 316.9z"/>
<path fill="#800000" d="M411 84.9L402 81.7L394.6 85.5z"/>
<path fill="#800000" d="M502.1 85L493.1 81.8L485.6 85.6z"/>
<path fill="#00008f" d="M287.2 314.3L279.7 318.1L270.7 314.9z"/>
<path fill="#00008f" d="M336.3 84.1L327.4 80.9L328.9 88z"/>
<path fill="#800000" d="M369.2 82.9L361.7 86.7L352.8 83.5z"/>
<path fill="#800000" d="M218.5 302.7L209.5 299.5L202 114.1z"/>
<path fill="#800000" d="M460.3 83L452.8 86.8L443.8 83.6z"/>
<path fill="#00008f" d="M312.5 316.9L303.6 313.7L296.1 317.5z"/>
<path fill="#800000" d="M394.6 85.5L385.6 82.3L378.1 86.1z"/>
<path fill="#800000" d="M485.6 85.6L476.7 82.4L469.2 86.2z"/>
<path fill="#800000" d="M170.6 83.3L163.2 87.1L154.2 83.9z"/>
<path fill="#00008f" d="M270.7 314.9L263.3 318.7L254.3 315.5z"/>
<path fill="#800000" d="M352.8 83.5L345.3 87.4L336.3 84.1z"/>
<path fill="#800000" d="M443.8 83.6L436.4 87.5L427.4 84.2z"/>
<path fill="#00008f" d="M296.1 317.5L287.2 314.3L279.7 318.1z"/>
<path fill="#800000" d="M534.9 83.7L527.5 87.6L518.5 84.3z"/>
<path fill="#800000" d="M378.1 86.1L369.2 82.9L361.7 86.7z"/>
<path fill="#800000" d="M469.2 86.2L460.3 83L452.8 86.8z"/>
<path fill="#800000" d="M154.2 83.9L146.7 87.8L137.8 84.6z"/>
<path fill="#00008f" d="M254.3 315.5L246.9 319.4L237.9 316.1z"/>
<path fill="#800000" d="M179.6 86.5L170.6 83.3L163.2 87.1z"/>
<path fill="#800000" d="M427.4 84.2L420 88.1L411 84.9z"/>
<path fill="#00008f" d="M279.7 318.1L270.7 314.9L263.3 318.7z"/>
<path fill="#800000" d="M518.5 84.3L511 88.2L502.1 85z"/>
<path fill="#800000" d="M361.7 86.7L352.8 83.5L345.3 87.4z"/>
<path fill="#800000" d="M452.8 86.8L443.8 83.6L436.4 87.5z"/>
<path fill="#800000" d="M543.9 86.9L534.9 83.7L527.5 87.6z"/>
<path fill="#00008f" d="M237.9 316.1L230.4 320L221.5 316.8z"/>
<path fill="#800000" d="M163.2 87.1L154.2 83.9L146.7 87.8z"/>
<path fill="#00008f" d="M329 316.2L321.5 320.1L312.5 316.9z"/>
<path fill="#800000" d="M411 84.9L403.5 88.7L394.6 85.5z"/>
<path fill="#00008f" d="M263.3 318.7L254.3 315.5L246.9 319.4z"/>
<path fill="#800000" d="M502.1 85L494.6 88.8L485.6 85.6z"/>
<path fill="#800000" d="M345.3 87.4L336.3 84.1L328.9 88z"/>
<path fill="#800000" d="M436.4 87.5L427.4 84.2L420 88.1z"/>
<path fill="#800000" d="M527.5 87.6L518.5 84.3L511 88.2z"/>
<path fill="#800000" d="M146.7 87.8L137.8 84.6L130.3 88.4z"/>
<path fill="#00008f" d="M312.5 316.9L305.1 320.7L296.1 317.5z"/>
<path fill="#800000" d="M394.6 85.5L387.1 89.3L378.1 86.1z"/>
<path fill="#00008f" d="M246.9 319.4L237.9 316.1L230.4 320z"/>
<path fill="#800000" d="M485.6 85.6L478.2 89.4L469.2 86.2z"/>
<path fill="#800000" d="M420 88.1L411 84.9L403.5 88.7z"/>
<path fill="#800000" d="M511 88.2L502.1 85L494.6 88.8z"/>
<path fill="#00008f" d="M296.1 317.5L288.7 321.3L279.7 318.1z"/>
<path fill="#800000" d="M378.1 86.1L370.7 89.9L361.7 86.7z"/>
<path fill="#800000" d="M227.4 305.9L218.5 302.7L211 117.3z"/>
<path fill="#00008f" d="M230.4 320L221.5 316.8L214 320.6z"/>
<path fill="#800000" d="M469.2 86.2L461.8 90L452.8 86.8z"/>
<path fill="#00008f" d="M321.5 320.1L312.5 316.9L305.1 320.7z"/>
<path fill="#800000" d="M403.5 88.7L394.6 85.5L387.1 89.3z"/>
<path fill="#800000" d="M494.6 88.8L485.6 85.6L478.2 89.4z"/>
<path fill="#800000" d="M179.6 86.5L172.1 90.4L163.2 87.1z"/>
<path fill="#00008f" d="M279.7 318.1L272.2 321.9L263.3 318.7z"/>
<path fill="#800000" d="M361.7 86.7L354.3 90.6L345.3 87.4z"/>
<path fill="#800000" d="M208 292.4L199 100L191.6 103.8z"/>
<path fill="#800000" d="M452.8 86.8L445.3 90.7L436.4 87.5z"/>
<path fill="#00008f" d="M305.1 320.7L296.1 317.5L288.7 321.3z"/>
<path fill="#00008f" d="M329 316.2L330.5 323.3L321.5 320.1z"/>
<path fill="#800000" d="M543.9 86.9L536.4 90.8L527.5 87.6z"/>
<path fill="#800000" d="M387.1 89.3L378.1 86.1L370.7 89.9z"/>
<path fill="#800000" d="M478.2 89.4L469.2 86.2L461.8 90z"/>
<path fill="#800000" d="M163.2 87.1L155.7 91L146.7 87.8z"/>
<path fill="#00008f" d="M263.3 318.7L255.8 322.6L246.9 319.4z"/>
<path fill="#800000" d="M345.3 87.4L337.8 91.2L328.9 88z"/>
<path fill="#800000" d="M188.5 89.7L179.6 86.5L172.1 90.4z"/>
<path fill="#800000" d="M436.4 87.5L428.9 91.3L420 88.1z"/>
<path fill="#00008f" d="M288.7 321.3L279.7 318.1L272.2 321.9z"/>
<path fill="#800000" d="M527.5 87.6L520 91.4L511 88.2z"/>
<path fill="#800000" d="M370.7 89.9L361.7 86.7L354.3 90.6z"/>
<path fill="#800000" d="M461.8 90L452.8 86.8L445.3 90.7z"/>
<path fill="#800000" d="M146.7 87.8L139.3 91.6L130.3 88.4z"/>
<path fill="#800000" d="M552.8 90.1L543.9 86.9L536.4 90.8z"/>
<path fill="#00008f" d="M246.9 319.4L239.4 323.2L230.4 320z"/>
<path fill="#800000" d="M172.1 90.4L163.2 87.1L155.7 91z"/>
<path fill="#800000" d="M420 88.1L412.5 91.9L403.5 88.7z"/>
<path fill="#00008f" d="M272.2 321.9L263.3 318.7L255.8 322.6z"/>
<path fill="#800000" d="M511 88.2L503.6 92L494.6 88.8z"/>
<path fill="#800000" d="M354.3 90.6L345.3 87.4L337.8 91.2z"/>
<path fill="#800000" d="M445.3 90.7L436.4 87.5L428.9 91.3z"/>
<path fill="#800000" d="M333.4 109.1L334.9 116.2L326 302.1L324.4 295.1z"/>
<path fill="#800000" d="M536.4 90.8L527.5 87.6L520 91.4z"/>
<path fill="#00008f" d="M227.4 305.9L220 309.7L211 117.3z"/>
<path fill="#00008f" d="M230.4 320L223 323.8L214 320.6z"/>
<path fill="#800000" d="M155.7 91L146.7 87.8L139.3 91.6z"/>
<path fill="#00008f" d="M321.5 320.1L314.1 323.9L305.1 320.7z"/>
<path fill="#800000" d="M403.5 88.7L396.1 92.5L387.1 89.3z"/>
<path fill="#00008f" d="M255.8 322.6L246.9 319.4L239.4 323.2z"/>
<path fill="#800000" d="M494.6 88.8L487.2 92.6L478.2 89.4z"/>
<path fill="#800000" d="M428.9 91.3L420 88.1L412.5 91.9z"/>
<path fill="#800000" d="M520 91.4L511 88.2L503.6 92z"/>
<path fill="#800000" d="M208 292.4L200.5 107L191.6 103.8z"/>
<path fill="#800000" d="M139.3 91.6L130.3 88.4L122.9 92.2z"/>
<path fill="#00008f" d="M305.1 320.7L297.6 324.5L288.7 321.3z"/>
<path fill="#800000" d="M387.1 89.3L379.7 93.2L370.7 89.9z"/>
<path fill="#00008f" d="M239.4 323.2L230.4 320L223 323.8z"/>
<path fill="#800000" d="M478.2 89.4L470.7 93.3L461.8 90z"/>
<path fill="#00008f" d="M330.5 323.3L321.5 320.1L314.1 323.9z"/>
<path fill="#800000" d="M412.5 91.9L403.5 88.7L396.1 92.5z"/>
<path fill="#800000" d="M503.6 92L494.6 88.8L487.2 92.6z"/>
<path fill="#800000" d="M188.5 89.7L181.1 93.6L172.1 90.4z"/>
<path fill="#00008f" d="M288.7 321.3L281.2 325.2L272.2 321.9z"/>
<path fill="#00008f" d="M337.8 91.2L328.9 88L330.4 95z"/>
<path fill="#800000" d="M370.7 89.9L363.2 93.8L354.3 90.6z"/>
<path fill="#800000" d="M461.8 90L454.3 93.9L445.3 90.7z"/>
<path fill="#00008f" d="M314.1 323.9L305.1 320.7L297.6 324.5z"/>
<path fill="#800000" d="M552.8 90.1L545.4 94L536.4 90.8z"/>
<path fill="#800000" d="M396.1 92.5L387.1 89.3L379.7 93.2z"/>
<path fill="#800000" d="M487.2 92.6L478.2 89.4L470.7 93.3z"/>
<path fill="#800000" d="M172.1 90.4L164.7 94.2L155.7 91z"/>
<path fill="#00008f" d="M272.2 321.9L264.8 325.8L255.8 322.6z"/>
<path fill="#800000" d="M354.3 90.6L346.8 94.4L337.8 91.2z"/>
<path fill="#800000" d="M445.3 90.7L437.9 94.5L428.9 91.3z"/>
<path fill="#00008f" d="M297.6 324.5L288.7 321.3L281.2 325.2z"/>
<path fill="#800000" d="M536.4 90.8L529 94.6L520 91.4z"/>
<path fill="#800000" d="M379.7 93.2L370.7 89.9L363.2 93.8z"/>
<path fill="#800000" d="M470.7 93.3L461.8 90L454.3 93.9z"/>
<path fill="#800000" d="M155.7 91L148.2 94.8L139.3 91.6z"/>
<path fill="#800000" d="M561.8 93.4L552.8 90.1L545.4 94z"/>
<path fill="#00008f" d="M255.8 322.6L248.4 326.4L239.4 323.2z"/>
<path fill="#800000" d="M181.1 93.6L172.1 90.4L164.7 94.2z"/>
<path fill="#800000" d="M428.9 91.3L421.5 95.1L412.5 91.9z"/>
<path fill="#00008f" d="M281.2 325.2L272.2 321.9L264.8 325.8z"/>
<path fill="#800000" d="M520 91.4L512.5 95.2L503.6 92z"/>
<path fill="#800000" d="M363.2 93.8L354.3 90.6L346.8 94.4z"/>
<path fill="#800000" d="M454.3 93.9L445.3 90.7L437.9 94.5z"/>
<path fill="#800000" d="M139.3 91.6L131.8 95.4L122.9 92.2z"/>
<path fill="#800000" d="M545.4 94L536.4 90.8L529 94.6z"/>
<path fill="#00008f" d="M239.4 323.2L231.9 327L223 323.8z"/>
<path fill="#800000" d="M164.7 94.2L155.7 91L148.2 94.8z"/>
<path fill="#00008f" d="M330.5 323.3L323 327.1L314.1 323.9z"/>
<path fill="#800000" d="M412.5 91.9L405 95.7L396.1 92.5z"/>
<path fill="#00008f" d="M264.8 325.8L255.8 322.6L248.4 326.4z"/>
<path fill="#800000" d="M503.6 92L496.1 95.8L487.2 92.6z"/>
<path fill="#800000" d="M346.8 94.4L337.8 91.2L330.4 95z"/>
<path fill="#800000" d="M437.9 94.5L428.9 91.3L421.5 95.1z"/>
<path fill="#800000" d="M529 94.6L520 91.4L512.5 95.2z"/>
<path fill="#00008f" d="M220 309.7L212.5 313.5L203.5 121.1z"/>
<path fill="#800000" d="M148.2 94.8L139.3 91.6L131.8 95.4z"/>
<path fill="#00008f" d="M314.1 323.9L306.6 327.7L297.6 324.5z"/>
<path fill="#800000" d="M396.1 92.5L388.6 96.4L379.7 93.2z"/>
<path fill="#00008f" d="M248.4 326.4L239.4 323.2L231.9 327z"/>
<path fill="#800000" d="M487.2 92.6L479.7 96.5L470.7 93.3z"/>
<path fill="#800000" d="M421.5 95.1L412.5 91.9L405 95.7z"/>
<path fill="#800000" d="M512.5 95.2L503.6 92L496.1 95.8z"/>
<path fill="#800000" d="M131.8 95.4L122.9 92.2L115.4 96.1z"/>
<path fill="#00008f" d="M297.6 324.5L290.2 328.4L281.2 325.2z"/>
<path fill="#800000" d="M379.7 93.2L372.2 97L363.2 93.8z"/>
<path fill="#00008f" d="M231.9 327L223 323.8L215.5 327.6z"/>
<path fill="#800000" d="M470.7 93.3L463.3 97.1L454.3 93.9z"/>
<path fill="#00008f" d="M323 327.1L314.1 323.9L306.6 327.7z"/>
<path fill="#800000" d="M561.8 93.4L554.3 97.2L545.4 94z"/>
<path fill="#800000" d="M405 95.7L396.1 92.5L388.6 96.4z"/>
<path fill="#800000" d="M496.1 95.8L487.2 92.6L479.7 96.5z"/>
<path fill="#800000" d="M181.1 93.6L173.6 97.4L164.7 94.2z"/>
<path fill="#00008f" d="M281.2 325.2L273.8 329L264.8 325.8z"/>
<path fill="#800000" d="M363.2 93.8L355.8 97.6L346.8 94.4z"/>
<path fill="#800000" d="M209.5 299.5L200.5 107L193.1 110.9z"/>
<path fill="#800000" d="M454.3 93.9L446.9 97.7L437.9 94.5z"/>
<path fill="#00008f" d="M306.6 327.7L297.6 324.5L290.2 328.4z"/>
<path fill="#00008f" d="M330.5 323.3L332 330.3L323 327.1z"/>
<path fill="#800000" d="M545.4 94L537.9 97.8L529 94.6z"/>
<path fill="#800000" d="M388.6 96.4L379.7 93.2L372.2 97z"/>
<path fill="#800000" d="M479.7 96.5L470.7 93.3L463.3 97.1z"/>
<path fill="#800000" d="M164.7 94.2L157.2 98L148.2 94.8z"/>
<path fill="#800000" d="M570.8 96.6L561.8 93.4L554.3 97.2z"/>
<path fill="#00008f" d="M264.8 325.8L257.3 329.6L248.4 326.4z"/>
<path fill="#800000" d="M346.8 94.4L339.4 98.2L330.4 95z"/>
<path fill="#800000" d="M190 96.8L181.1 93.6L173.6 97.4z"/>
<path fill="#800000" d="M437.9 94.5L430.4 98.3L421.5 95.1z"/>
<path fill="#00008f" d="M290.2 328.4L281.2 325.2L273.8 329z"/>
<path fill="#800000" d="M529 94.6L521.5 98.4L512.5 95.2z"/>
<path fill="#800000" d="M372.2 97L363.2 93.8L355.8 97.6z"/>
<path fill="#800000" d="M463.3 97.1L454.3 93.9L446.9 97.7z"/>
<path fill="#800000" d="M148.2 94.8L140.8 98.7L131.8 95.4z"/>
<path fill="#800000" d="M554.3 97.2L545.4 94L537.9 97.8z"/>
<path fill="#00008f" d="M248.4 326.4L240.9 330.2L231.9 327z"/>
<path fill="#800000" d="M173.6 97.4L164.7 94.2L157.2 98z"/>
<path fill="#800000" d="M421.5 95.1L414 99L405 95.7z"/>
<path fill="#00008f" d="M273.8 329L264.8 325.8L257.3 329.6z"/>
<path fill="#800000" d="M512.5 95.2L505.1 99.1L496.1 95.8z"/>
<path fill="#800000" d="M355.8 97.6L346.8 94.4L339.4 98.2z"/>
<path fill="#800000" d="M446.9 97.7L437.9 94.5L430.4 98.3z"/>
<path fill="#800000" d="M131.8 95.4L124.4 99.3L115.4 96.1z"/>
<path fill="#800000" d="M334.9 116.2L336.4 123.2L327.5 309.2L326 302.1z"/>
<path fill="#800000" d="M537.9 97.8L529 94.6L521.5 98.4z"/>
<path fill="#00008f" d="M231.9 327L224.5 330.9L215.5 327.6z"/>
<path fill="#800000" d="M157.2 98L148.2 94.8L140.8 98.7z"/>
<path fill="#00008f" d="M323 327.1L315.6 331L306.6 327.7z"/>
<path fill="#800000" d="M405 95.7L397.6 99.6L388.6 96.4z"/>
<path fill="#00008f" d="M257.3 329.6L248.4 326.4L240.9 330.2z"/>
<path fill="#800000" d="M496.1 95.8L488.7 99.7L479.7 96.5z"/>
<path fill="#800000" d="M430.4 98.3L421.5 95.1L414 99z"/>
<path fill="#800000" d="M521.5 98.4L512.5 95.2L505.1 99.1z"/>
<path fill="#800000" d="M209.5 299.5L202 114.1L193.1 110.9z"/>
<path fill="#800000" d="M140.8 98.7L131.8 95.4L124.4 99.3z"/>
<path fill="#00008f" d="M306.6 327.7L299.1 331.6L290.2 328.4z"/>
<path fill="#800000" d="M388.6 96.4L381.2 100.2L372.2 97z"/>
<path fill="#00008f" d="M240.9 330.2L231.9 327L224.5 330.9z"/>
<path fill="#800000" d="M479.7 96.5L472.2 100.3L463.3 97.1z"/>
<path fill="#00008f" d="M332 330.3L323 327.1L315.6 331z"/>
<path fill="#800000" d="M570.8 96.6L563.3 100.4L554.3 97.2z"/>
<path fill="#800000" d="M414 99L405 95.7L397.6 99.6z"/>
<path fill="#800000" d="M505.1 99.1L496.1 95.8L488.7 99.7z"/>
<path fill="#800000" d="M190 96.8L182.6 100.6L173.6 97.4z"/>
<path fill="#800000" d="M124.4 99.3L115.4 96.1L107.9 99.9z"/>
<path fill="#00008f" d="M290.2 328.4L282.7 332.2L273.8 329z"/>
<path fill="#00008f" d="M339.4 98.2L330.4 95L331.9 102.1z"/>
<path fill="#800000" d="M372.2 97L364.7 100.8L355.8 97.6z"/>
<path fill="#800000" d="M221.5 316.8L212.5 313.5L205.1 128.2z"/>
<path fill="#00008f" d="M224.5 330.9L215.5 327.6L208.1 331.5z"/>
<path fill="#800000" d="M463.3 97.1L455.8 100.9L446.9 97.7z"/>
<path fill="#00008f" d="M315.6 331L306.6 327.7L299.1 331.6z"/>
<path fill="#800000" d="M554.3 97.2L546.9 101L537.9 97.8z"/>
<path fill="#800000" d="M397.6 99.6L388.6 96.4L381.2 100.2z"/>
<path fill="#800000" d="M488.7 99.7L479.7 96.5L472.2 100.3z"/>
<path fill="#800000" d="M173.6 97.4L166.2 101.2L157.2 98z"/>
<path fill="#800000" d="M579.7 99.8L570.8 96.6L563.3 100.4z"/>
<path fill="#00008f" d="M273.8 329L266.3 332.8L257.3 329.6z"/>
<path fill="#800000" d="M355.8 97.6L348.3 101.4L339.4 98.2z"/>
<path fill="#800000" d="M199 100L190 96.8L182.6 100.6z"/>
<path fill="#800000" d="M446.9 97.7L439.4 101.6L430.4 98.3z"/>
<path fill="#00008f" d="M299.1 331.6L290.2 328.4L282.7 332.2z"/>
<path fill="#800000" d="M537.9 97.8L530.5 101.7L521.5 98.4z"/>
<path fill="#800000" d="M381.2 100.2L372.2 97L364.7 100.8z"/>
<path fill="#800000" d="M472.2 100.3L463.3 97.1L455.8 100.9z"/>
<path fill="#800000" d="M157.2 98L149.7 101.9L140.8 98.7z"/>
<path fill="#800000" d="M563.3 100.4L554.3 97.2L546.9 101z"/>
<path fill="#00008f" d="M257.3 329.6L249.9 333.4L240.9 330.2z"/>
<path fill="#800000" d="M182.6 100.6L173.6 97.4L166.2 101.2z"/>
<path fill="#800000" d="M430.4 98.3L423 102.2L414 99z"/>
<path fill="#00008f" d="M282.7 332.2L273.8 329L266.3 332.8z"/>
<path fill="#800000" d="M521.5 98.4L514 102.3L505.1 99.1z"/>
<path fill="#800000" d="M364.7 100.8L355.8 97.6L348.3 101.4z"/>
<path fill="#800000" d="M455.8 100.9L446.9 97.7L439.4 101.6z"/>
<path fill="#800000" d="M140.8 98.7L133.3 102.5L124.4 99.3z"/>
<path fill="#800000" d="M546.9 101L537.9 97.8L530.5 101.7z"/>
<path fill="#00008f" d="M240.9 330.2L233.5 334.1L224.5 330.9z"/>
<path fill="#800000" d="M166.2 101.2L157.2 98L149.7 101.9z"/>
<path fill="#00008f" d="M332 330.3L324.5 334.2L315.6 331z"/>
<path fill="#800000" d="M414 99L406.6 102.8L397.6 99.6z"/>
<path fill="#00008f" d="M266.3 332.8L257.3 329.6L249.9 333.4z"/>
<path fill="#800000" d="M505.1 99.1L497.6 102.9L488.7 99.7z"/>
<path fill="#800000" d="M348.3 101.4L339.4 98.2L331.9 102.1z"/>
<path fill="#800000" d="M439.4 101.6L430.4 98.3L423 102.2z"/>
<path fill="#800000" d="M124.4 99.3L116.9 103.1L107.9 99.9z"/>
<path fill="#800000" d="M530.5 101.7L521.5 98.4L514 102.3z"/>
<path fill="#800000" d="M218.5 302.7L211 117.3L202 114.1z"/>
<path fill="#00008f" d="M221.5 316.8L214 320.6L205.1 128.2z"/>
<path fill="#00008f" d="M224.5 330.9L217 334.7L208.1 331.5z"/>
<path fill="#800000" d="M149.7 101.9L140.8 98.7L133.3 102.5z"/>
<path fill="#00008f" d="M315.6 331L308.1 334.8L299.1 331.6z"/>
<path fill="#800000" d="M397.6 99.6L390.1 103.4L381.2 100.2z"/>
<path fill="#00008f" d="M249.9 333.4L240.9 330.2L233.5 334.1z"/>
<path fill="#800000" d="M488.7 99.7L481.2 103.5L472.2 100.3z"/>
<path fill="#800000" d="M579.7 99.8L572.3 103.6L563.3 100.4z"/>
<path fill="#800000" d="M423 102.2L414 99L406.6 102.8z"/>
<path fill="#800000" d="M514 102.3L505.1 99.1L497.6 102.9z"/>
<path fill="#800000" d="M199 100L191.6 103.8L182.6 100.6z"/>
<path fill="#800000" d="M133.3 102.5L124.4 99.3L116.9 103.1z"/>
<path fill="#00008f" d="M299.1 331.6L291.7 335.4L282.7 332.2z"/>
<path fill="#800000" d="M381.2 100.2L373.7 104L364.7 100.8z"/>
<path fill="#00008f" d="M233.5 334.1L224.5 330.9L217 334.7z"/>
<path fill="#800000" d="M472.2 100.3L464.8 104.1L455.8 100.9z"/>
<path fill="#00008f" d="M324.5 334.2L315.6 331L308.1 334.8z"/>
<path fill="#800000" d="M563.3 100.4L555.9 104.2L546.9 101z"/>
<path fill="#800000" d="M406.6 102.8L397.6 99.6L390.1 103.4z"/>
<path fill="#800000" d="M497.6 102.9L488.7 99.7L481.2 103.5z"/>
<path fill="#800000" d="M182.6 100.6L175.1 104.5L166.2 101.2z"/>
<path fill="#800000" d="M588.7 103L579.7 99.8L572.3 103.6z"/>
<path fill="#800000" d="M116.9 103.1L107.9 99.9L100.5 103.7z"/>
<path fill="#00008f" d="M282.7 332.2L275.3 336L266.3 332.8z"/>
<path fill="#800000" d="M364.7 100.8L357.3 104.7L348.3 101.4z"/>
<path fill="#800000" d="M455.8 100.9L448.4 104.8L439.4 101.6z"/>
<path fill="#00008f" d="M308.1 334.8L299.1 331.6L291.7 335.4z"/>
<path fill="#00008f" d="M332 330.3L333.5 337.4L324.5 334.2z"/>
<path fill="#800000" d="M546.9 101L539.4 104.9L530.5 101.7z"/>
<path fill="#800000" d="M390.1 103.4L381.2 100.2L373.7 104z"/>
<path fill="#800000" d="M481.2 103.5L472.2 100.3L464.8 104.1z"/>
<path fill="#800000" d="M166.2 101.2L158.7 105.1L149.7 101.9z"/>
<path fill="#800000" d="M572.3 103.6L563.3 100.4L555.9 104.2z"/>
<path fill="#00008f" d="M266.3 332.8L258.8 336.7L249.9 333.4z"/>
<path fill="#800000" d="M348.3 101.4L340.9 105.3L331.9 102.1z"/>
<path fill="#800000" d="M191.6 103.8L182.6 100.6L175.1 104.5z"/>
<path fill="#800000" d="M439.4 101.6L431.9 105.4L423 102.2z"/>
<path fill="#00008f" d="M291.7 335.4L282.7 332.2L275.3 336z"/>
<path fill="#800000" d="M530.5 101.7L523 105.5L514 102.3z"/>
<path fill="#800000" d="M373.7 104L364.7 100.8L357.3 104.7z"/>
<path fill="#800000" d="M464.8 104.1L455.8 100.9L448.4 104.8z"/>
<path fill="#800000" d="M149.7 101.9L142.3 105.7L133.3 102.5z"/>
<path fill="#800000" d="M555.9 104.2L546.9 101L539.4 104.9z"/>
<path fill="#00008f" d="M249.9 333.4L242.4 337.3L233.5 334.1z"/>
<path fill="#800000" d="M175.1 104.5L166.2 101.2L158.7 105.1z"/>
<path fill="#800000" d="M423 102.2L415.5 106L406.6 102.8z"/>
<path fill="#00008f" d="M275.3 336L266.3 332.8L258.8 336.7z"/>
<path fill="#800000" d="M514 102.3L506.6 106.1L497.6 102.9z"/>
<path fill="#800000" d="M357.3 104.7L348.3 101.4L340.9 105.3z"/>
<path fill="#800000" d="M448.4 104.8L439.4 101.6L431.9 105.4z"/>
<path fill="#800000" d="M133.3 102.5L125.9 106.3L116.9 103.1z"/>
<path fill="#800000" d="M336.4 123.2L337.9 130.3L329 316.2L327.5 309.2z"/>
<path fill="#800000" d="M539.4 104.9L530.5 101.7L523 105.5z"/>
<path fill="#00008f" d="M233.5 334.1L226 337.9L217 334.7z"/>
<path fill="#800000" d="M158.7 105.1L149.7 101.9L142.3 105.7z"/>
<path fill="#00008f" d="M324.5 334.2L317.1 338L308.1 334.8z"/>
<path fill="#800000" d="M406.6 102.8L399.1 106.6L390.1 103.4z"/>
<path fill="#00008f" d="M258.8 336.7L249.9 333.4L242.4 337.3z"/>
<path fill="#800000" d="M497.6 102.9L490.2 106.7L481.2 103.5z"/>
<path fill="#800000" d="M588.7 103L581.2 106.8L572.3 103.6z"/>
<path fill="#800000" d="M431.9 105.4L423 102.2L415.5 106z"/>
<path fill="#800000" d="M116.9 103.1L109.4 106.9L100.5 103.7z"/>
<path fill="#800000" d="M523 105.5L514 102.3L506.6 106.1z"/>
<path fill="#800000" d="M142.3 105.7L133.3 102.5L125.9 106.3z"/>
<path fill="#00008f" d="M308.1 334.8L300.7 338.6L291.7 335.4z"/>
<path fill="#800000" d="M390.1 103.4L382.7 107.2L373.7 104z"/>
<path fill="#00008f" d="M242.4 337.3L233.5 334.1L226 337.9z"/>
<path fill="#800000" d="M481.2 103.5L473.7 107.4L464.8 104.1z"/>
<path fill="#00008f" d="M333.5 337.4L324.5 334.2L317.1 338z"/>
<path fill="#800000" d="M572.3 103.6L564.8 107.5L555.9 104.2z"/>
<path fill="#800000" d="M415.5 106L406.6 102.8L399.1 106.6z"/>
<path fill="#800000" d="M506.6 106.1L497.6 102.9L490.2 106.7z"/>
<path fill="#800000" d="M191.6 103.8L184.1 107.7L175.1 104.5z"/>
<path fill="#800000" d="M125.9 106.3L116.9 103.1L109.4 106.9z"/>
<path fill="#00008f" d="M291.7 335.4L284.2 339.2L275.3 336z"/>
<path fill="#00008f" d="M340.9 105.3L331.9 102.1L333.4 109.1z"/>
<path fill="#800000" d="M373.7 104L366.3 107.9L357.3 104.7z"/>
<path fill="#800000" d="M220 309.7L211 117.3L203.5 121.1z"/>
<path fill="#800000" d="M223 323.8L214 320.6L206.6 135.2z"/>
<path fill="#00008f" d="M226 337.9L217 334.7L209.6 338.5z"/>
<path fill="#800000" d="M464.8 104.1L457.3 108L448.4 104.8z"/>
<path fill="#00008f" d="M317.1 338L308.1 334.8L300.7 338.6z"/>
<path fill="#800000" d="M555.9 104.2L548.4 108.1L539.4 104.9z"/>
<path fill="#800000" d="M399.1 106.6L390.1 103.4L382.7 107.2z"/>
<path fill="#800000" d="M490.2 106.7L481.2 103.5L473.7 107.4z"/>
<path fill="#800000" d="M175.1 104.5L167.7 108.3L158.7 105.1z"/>
<path fill="#800000" d="M581.2 106.8L572.3 103.6L564.8 107.5z"/>
<path fill="#800000" d="M109.4 106.9L100.5 103.7L93 107.6z"/>
<path fill="#00008f" d="M275.3 336L267.8 339.9L258.8 336.7z"/>
<path fill="#800000" d="M357.3 104.7L349.8 108.5L340.9 105.3z"/>
<path fill="#800000" d="M200.5 107L191.6 103.8L184.1 107.7z"/>
<path fill="#800000" d="M448.4 104.8L440.9 108.6L431.9 105.4z"/>
<path fill="#00008f" d="M300.7 338.6L291.7 335.4L284.2 339.2z"/>
<path fill="#800000" d="M539.4 104.9L532 108.7L523 105.5z"/>
<path fill="#800000" d="M382.7 107.2L373.7 104L366.3 107.9z"/>
<path fill="#800000" d="M473.7 107.4L464.8 104.1L457.3 108z"/>
<path fill="#800000" d="M158.7 105.1L151.3 108.9L142.3 105.7z"/>
<path fill="#800000" d="M564.8 107.5L555.9 104.2L548.4 108.1z"/>
<path fill="#00008f" d="M258.8 336.7L251.4 340.5L242.4 337.3z"/>
<path fill="#800000" d="M184.1 107.7L175.1 104.5L167.7 108.3z"/>
<path fill="#800000" d="M431.9 105.4L424.5 109.2L415.5 106z"/>
<path fill="#00008f" d="M284.2 339.2L275.3 336L267.8 339.9z"/>
<path fill="#800000" d="M523 105.5L515.6 109.3L506.6 106.1z"/>
<path fill="#800000" d="M366.3 107.9L357.3 104.7L349.8 108.5z"/>
<path fill="#800000" d="M457.3 108L448.4 104.8L440.9 108.6z"/>
<path fill="#800000" d="M142.3 105.7L134.8 109.5L125.9 106.3z"/>
<path fill="#800000" d="M548.4 108.1L539.4 104.9L532 108.7z"/>
<path fill="#00008f" d="M242.4 337.3L235 341.1L226 337.9z"/>
<path fill="#800000" d="M167.7 108.3L158.7 105.1L151.3 108.9z"/>
<path fill="#00008f" d="M333.5 337.4L326 341.2L317.1 338z"/>
<path fill="#800000" d="M415.5 106L408.1 109.8L399.1 106.6z"/>
<path fill="#00008f" d="M267.8 339.9L258.8 336.7L251.4 340.5z"/>
<path fill="#800000" d="M506.6 106.1L499.1 109.9L490.2 106.7z"/>
<path fill="#800000" d="M349.8 108.5L340.9 105.3L333.4 109.1z"/>
<path fill="#800000" d="M440.9 108.6L431.9 105.4L424.5 109.2z"/>
<path fill="#800000" d="M125.9 106.3L118.4 110.2L109.4 106.9z"/>
<path fill="#800000" d="M532 108.7L523 105.5L515.6 109.3z"/>
<path fill="#00008f" d="M223 323.8L215.5 327.6L206.6 135.2z"/>
<path fill="#00008f" d="M226 337.9L218.5 341.7L209.6 338.5z"/>
<path fill="#800000" d="M151.3 108.9L142.3 105.7L134.8 109.5z"/>
<path fill="#00008f" d="M317.1 338L309.6 341.8L300.7 338.6z"/>
<path fill="#800000" d="M399.1 106.6L391.6 110.5L382.7 107.2z"/>
<path fill="#00008f" d="M251.4 340.5L242.4 337.3L235 341.1z"/>
<path fill="#800000" d="M490.2 106.7L482.7 110.6L473.7 107.4z"/>
<path fill="#800000" d="M581.2 106.8L573.8 110.7L564.8 107.5z"/>
<path fill="#800000" d="M424.5 109.2L415.5 106L408.1 109.8z"/>
<path fill="#800000" d="M109.4 106.9L102 110.8L93 107.6z"/>
<path fill="#800000" d="M515.6 109.3L506.6 106.1L499.1 109.9z"/>
<path fill="#800000" d="M200.5 107L193.1 110.9L184.1 107.7z"/>
<path fill="#800000" d="M134.8 109.5L125.9 106.3L118.4 110.2z"/>
<path fill="#00008f" d="M300.7 338.6L293.2 342.5L284.2 339.2z"/>
<path fill="#800000" d="M382.7 107.2L375.2 111.1L366.3 107.9z"/>
<path fill="#00008f" d="M235 341.1L226 337.9L218.5 341.7z"/>
<path fill="#800000" d="M473.7 107.4L466.3 111.2L457.3 108z"/>
<path fill="#00008f" d="M326 341.2L317.1 338L309.6 341.8z"/>
<path fill="#800000" d="M564.8 107.5L557.4 111.3L548.4 108.1z"/>
<path fill="#800000" d="M408.1 109.8L399.1 106.6L391.6 110.5z"/>
<path fill="#800000" d="M499.1 109.9L490.2 106.7L482.7 110.6z"/>
<path fill="#800000" d="M184.1 107.7L176.6 111.5L167.7 108.3z"/>
<path fill="#800000" d="M118.4 110.2L109.4 106.9L102 110.8z"/>
<path fill="#00008f" d="M284.2 339.2L276.8 343.1L267.8 339.9z"/>
<path fill="#800000" d="M366.3 107.9L358.8 111.7L349.8 108.5z"/>
<path fill="#800000" d="M212.5 313.5L203.5 121.1L196.1 125z"/>
<path fill="#00008f" d="M218.5 341.7L209.6 338.5L202.1 342.4z"/>
<path fill="#800000" d="M457.3 108L449.9 111.8L440.9 108.6z"/>
<path fill="#00008f" d="M309.6 341.8L300.7 338.6L293.2 342.5z"/>
<path fill="#00008f" d="M333.5 337.4L335 344.4L326 341.2z"/>
<path fill="#800000" d="M548.4 108.1L540.9 111.9L532 108.7z"/>
<path fill="#800000" d="M391.6 110.5L382.7 107.2L375.2 111.1z"/>
<path fill="#800000" d="M482.7 110.6L473.7 107.4L466.3 111.2z"/>
<path fill="#800000" d="M167.7 108.3L160.2 112.1L151.3 108.9z"/>
<path fill="#800000" d="M573.8 110.7L564.8 107.5L557.4 111.3z"/>
<path fill="#800000" d="M102 110.8L93 107.6L85.6 111.4z"/>
<path fill="#00008f" d="M267.8 339.9L260.4 343.7L251.4 340.5z"/>
<path fill="#800000" d="M349.8 108.5L342.4 112.3L333.4 109.1z"/>
<path fill="#800000" d="M193.1 110.9L184.1 107.7L176.6 111.5z"/>
<path fill="#800000" d="M440.9 108.6L433.4 112.4L424.5 109.2z"/>
<path fill="#00008f" d="M293.2 342.5L284.2 339.2L276.8 343.1z"/>
<path fill="#800000" d="M532 108.7L524.5 112.5L515.6 109.3z"/>
<path fill="#800000" d="M375.2 111.1L366.3 107.9L358.8 111.7z"/>
<path fill="#800000" d="M466.3 111.2L457.3 108L449.9 111.8z"/>
<path fill="#800000" d="M151.3 108.9L143.8 112.7L134.8 109.5z"/>
<path fill="#800000" d="M557.4 111.3L548.4 108.1L540.9 111.9z"/>
<path fill="#00008f" d="M251.4 340.5L243.9 344.3L235 341.1z"/>
<path fill="#800000" d="M176.6 111.5L167.7 108.3L160.2 112.1z"/>
<path fill="#800000" d="M424.5 109.2L417 113.1L408.1 109.8z"/>
<path fill="#00008f" d="M276.8 343.1L267.8 339.9L260.4 343.7z"/>
<path fill="#800000" d="M515.6 109.3L508.1 113.2L499.1 109.9z"/>
<path fill="#800000" d="M358.8 111.7L349.8 108.5L342.4 112.3z"/>
<path fill="#800000" d="M449.9 111.8L440.9 108.6L433.4 112.4z"/>
<path fill="#800000" d="M134.8 109.5L127.4 113.4L118.4 110.2z"/>
<path fill="#800000" d="M337.9 130.3L339.4 137.3L330.5 323.3L329 316.2z"/>
<path fill="#800000" d="M540.9 111.9L532 108.7L524.5 112.5z"/>
<path fill="#00008f" d="M235 341.1L227.5 344.9L218.5 341.7z"/>
<path fill="#800000" d="M160.2 112.1L151.3 108.9L143.8 112.7z"/>
<path fill="#00008f" d="M326 341.2L318.6 345.1L309.6 341.8z"/>
<path fill="#800000" d="M408.1 109.8L400.6 113.7L391.6 110.5z"/>
<path fill="#00008f" d="M260.4 343.7L251.4 340.5L243.9 344.3z"/>
<path fill="#800000" d="M499.1 109.9L491.7 113.8L482.7 110.6z"/>
<path fill="#800000" d="M433.4 112.4L424.5 109.2L417 113.1z"/>
<path fill="#800000" d="M118.4 110.2L111 114L102 110.8z"/>
<path fill="#800000" d="M524.5 112.5L515.6 109.3L508.1 113.2z"/>
<path fill="#800000" d="M212.5 313.5L205.1 128.2L196.1 125z"/>
<path fill="#00008f" d="M215.5 327.6L208.1 331.5L199.1 139.1z"/>
<path fill="#00008f" d="M218.5 341.7L211.1 345.6L202.1 342.4z"/>
<path fill="#800000" d="M143.8 112.7L134.8 109.5L127.4 113.4z"/>
<path fill="#00008f" d="M309.6 341.8L302.2 345.7L293.2 342.5z"/>
<path fill="#800000" d="M391.6 110.5L384.2 114.3L375.2 111.1z"/>
<path fill="#00008f" d="M243.9 344.3L235 341.1L227.5 344.9z"/>
<path fill="#800000" d="M482.7 110.6L475.3 114.4L466.3 111.2z"/>
<path fill="#00008f" d="M335 344.4L326 341.2L318.6 345.1z"/>
<path fill="#800000" d="M573.8 110.7L566.3 114.5L557.4 111.3z"/>
<path fill="#800000" d="M417 113.1L408.1 109.8L400.6 113.7z"/>
<path fill="#800000" d="M102 110.8L94.5 114.6L85.6 111.4z"/>
<path fill="#800000" d="M508.1 113.2L499.1 109.9L491.7 113.8z"/>
<path fill="#800000" d="M193.1 110.9L185.6 114.7L176.6 111.5z"/>
<path fill="#800000" d="M127.4 113.4L118.4 110.2L111 114z"/>
<path fill="#00008f" d="M293.2 342.5L285.7 346.3L276.8 343.1z"/>
<path fill="#00008f" d="M342.4 112.3L333.4 109.1L334.9 116.2z"/>
<path fill="#800000" d="M375.2 111.1L367.8 114.9L358.8 111.7z"/>
<path fill="#00008f" d="M227.5 344.9L218.5 341.7L211.1 345.6z"/>
<path fill="#800000" d="M466.3 111.2L458.8 115L449.9 111.8z"/>
<path fill="#00008f" d="M318.6 345.1L309.6 341.8L302.2 345.7z"/>
<path fill="#800000" d="M557.4 111.3L549.9 115.1L540.9 111.9z"/>
<path fill="#800000" d="M400.6 113.7L391.6 110.5L384.2 114.3z"/>
<path fill="#800000" d="M491.7 113.8L482.7 110.6L475.3 114.4z"/>
<path fill="#800000" d="M176.6 111.5L169.2 115.3L160.2 112.1z"/>
<path fill="#800000" d="M111 114L102 110.8L94.5 114.6z"/>
<path fill="#00008f" d="M276.8 343.1L269.3 346.9L260.4 343.7z"/>
<path fill="#800000" d="M358.8 111.7L351.3 115.5L342.4 112.3z"/>
<path fill="#800000" d="M202 114.1L193.1 110.9L185.6 114.7z"/>
<path fill="#00008f" d="M211.1 345.6L202.1 342.4L194.7 346.2z"/>
<path fill="#800000" d="M449.9 111.8L442.4 115.6L433.4 112.4z"/>
<path fill="#00008f" d="M302.2 345.7L293.2 342.5L285.7 346.3z"/>
<path fill="#800000" d="M540.9 111.9L533.5 115.7L524.5 112.5z"/>
<path fill="#800000" d="M384.2 114.3L375.2 111.1L367.8 114.9z"/>
<path fill="#800000" d="M475.3 114.4L466.3 111.2L458.8 115z"/>
<path fill="#800000" d="M160.2 112.1L152.8 116L143.8 112.7z"/>
<path fill="#800000" d="M566.3 114.5L557.4 111.3L549.9 115.1z"/>
<path fill="#800000" d="M94.5 114.6L85.6 111.4L78.1 115.2z"/>
<path fill="#00008f" d="M260.4 343.7L252.9 347.5L243.9 344.3z"/>
<path fill="#800000" d="M185.6 114.7L176.6 111.5L169.2 115.3z"/>
<path fill="#800000" d="M433.4 112.4L426 116.3L417 113.1z"/>
<path fill="#00008f" d="M285.7 346.3L276.8 343.1L269.3 346.9z"/>
<path fill="#800000" d="M524.5 112.5L517.1 116.4L508.1 113.2z"/>
<path fill="#800000" d="M367.8 114.9L358.8 111.7L351.3 115.5z"/>
<path fill="#800000" d="M458.8 115L449.9 111.8L442.4 115.6z"/>
<path fill="#800000" d="M143.8 112.7L136.3 116.6L127.4 113.4z"/>
<path fill="#800000" d="M549.9 115.1L540.9 111.9L533.5 115.7z"/>
<path fill="#00008f" d="M243.9 344.3L236.5 348.2L227.5 344.9z"/>
<path fill="#800000" d="M169.2 115.3L160.2 112.1L152.8 116z"/>
<path fill="#00008f" d="M335 344.4L327.6 348.3L318.6 345.1z"/>
<path fill="#800000" d="M417 113.1L409.6 116.9L400.6 113.7z"/>
<path fill="#00008f" d="M269.3 346.9L260.4 343.7L252.9 347.5z"/>
<path fill="#800000" d="M508.1 113.2L500.6 117L491.7 113.8z"/>
<path fill="#800000" d="M351.3 115.5L342.4 112.3L334.9 116.2z"/>
<path fill="#800000" d="M442.4 115.6L433.4 112.4L426 116.3z"/>
<path fill="#800000" d="M127.4 113.4L119.9 117.2L111 114z"/>
<path fill="#800000" d="M533.5 115.7L524.5 112.5L517.1 116.4z"/>
<path fill="#00008f" d="M227.5 344.9L220.1 348.8L211.1 345.6z"/>
<path fill="#800000" d="M152.8 116L143.8 112.7L136.3 116.6z"/>
<path fill="#00008f" d="M318.6 345.1L311.1 348.9L302.2 345.7z"/>
<path fill="#800000" d="M400.6 113.7L393.1 117.5L384.2 114.3z"/>
<path fill="#00008f" d="M252.9 347.5L243.9 344.3L236.5 348.2z"/>
<path fill="#800000" d="M491.7 113.8L484.2 117.6L475.3 114.4z"/>
<path fill="#800000" d="M426 116.3L417 113.1L409.6 116.9z"/>
<path fill="#800000" d="M111 114L103.5 117.8L94.5 114.6z"/>
<path fill="#800000" d="M517.1 116.4L508.1 113.2L500.6 117z"/>
<path fill="#800000" d="M202 114.1L194.6 117.9L185.6 114.7z"/>
<path fill="#00008f" d="M211.1 345.6L203.6 349.4L194.7 346.2z"/>
<path fill="#800000" d="M136.3 116.6L127.4 113.4L119.9 117.2z"/>
<path fill="#00008f" d="M302.2 345.7L294.7 349.5L285.7 346.3z"/>
<path fill="#800000" d="M384.2 114.3L376.7 118.1L367.8 114.9z"/>
<path fill="#00008f" d="M236.5 348.2L227.5 344.9L220.1 348.8z"/>
<path fill="#800000" d="M475.3 114.4L467.8 118.2L458.8 115z"/>
<path fill="#00008f" d="M327.6 348.3L318.6 345.1L311.1 348.9z"/>
<path fill="#800000" d="M566.3 114.5L558.9 118.3L549.9 115.1z"/>
<path fill="#800000" d="M409.6 116.9L400.6 113.7L393.1 117.5z"/>
<path fill="#800000" d="M94.5 114.6L87.1 118.4L78.1 115.2z"/>
<path fill="#800000" d="M500.6 117L491.7 113.8L484.2 117.6z"/>
<path fill="#800000" d="M185.6 114.7L178.2 118.5L169.2 115.3z"/>
<path fill="#800000" d="M119.9 117.2L111 114L103.5 117.8z"/>
<path fill="#00008f" d="M285.7 346.3L278.3 350.1L269.3 346.9z"/>
<path fill="#800000" d="M367.8 114.9L360.3 118.8L351.3 115.5z"/>
<path fill="#800000" d="M211 117.3L202 114.1L194.6 117.9z"/>
<path fill="#800000" d="M214 320.6L205.1 128.2L197.6 132z"/>
<path fill="#800000" d="M217 334.7L208.1 331.5L200.6 146.1z"/>
<path fill="#00008f" d="M220.1 348.8L211.1 345.6L203.6 349.4z"/>
<path fill="#800000" d="M458.8 115L451.4 118.9L442.4 115.6z"/>
<path fill="#00008f" d="M311.1 348.9L302.2 345.7L294.7 349.5z"/>
<path fill="#00008f" d="M335 344.4L336.5 351.5L327.6 348.3z"/>
<path fill="#800000" d="M549.9 115.1L542.5 119L533.5 115.7z"/>
<path fill="#800000" d="M393.1 117.5L384.2 114.3L376.7 118.1z"/>
<path fill="#800000" d="M484.2 117.6L475.3 114.4L467.8 118.2z"/>
<path fill="#800000" d="M169.2 115.3L161.7 119.2L152.8 116z"/>
<path fill="#800000" d="M103.5 117.8L94.5 114.6L87.1 118.4z"/>
<path fill="#00008f" d="M269.3 346.9L261.9 350.8L252.9 347.5z"/>
<path fill="#800000" d="M351.3 115.5L343.9 119.4L334.9 116.2z"/>
<path fill="#800000" d="M194.6 117.9L185.6 114.7L178.2 118.5z"/>
<path fill="#00008f" d="M203.6 349.4L194.7 346.2L187.2 350z"/>
<path fill="#800000" d="M442.4 115.6L435 119.5L426 116.3z"/>
<path fill="#00008f" d="M294.7 349.5L285.7 346.3L278.3 350.1z"/>
<path fill="#800000" d="M533.5 115.7L526 119.6L517.1 116.4z"/>
<path fill="#800000" d="M376.7 118.1L367.8 114.9L360.3 118.8z"/>
<path fill="#800000" d="M467.8 118.2L458.8 115L451.4 118.9z"/>
<path fill="#800000" d="M152.8 116L145.3 119.8L136.3 116.6z"/>
<path fill="#800000" d="M558.9 118.3L549.9 115.1L542.5 119z"/>
<path fill="#800000" d="M87.1 118.4L78.1 115.2L70.7 119.1z"/>
<path fill="#00008f" d="M252.9 347.5L245.4 351.4L236.5 348.2z"/>
<path fill="#800000" d="M178.2 118.5L169.2 115.3L161.7 119.2z"/>
<path fill="#800000" d="M426 116.3L418.5 120.1L409.6 116.9z"/>
<path fill="#00008f" d="M278.3 350.1L269.3 346.9L261.9 350.8z"/>
<path fill="#800000" d="M517.1 116.4L509.6 120.2L500.6 117z"/>
<path fill="#800000" d="M360.3 118.8L351.3 115.5L343.9 119.4z"/>
<path fill="#800000" d="M451.4 118.9L442.4 115.6L435 119.5z"/>
<path fill="#800000" d="M136.3 116.6L128.9 120.4L119.9 117.2z"/>
<path fill="#800000" d="M339.4 137.3L341 144.4L332 330.3L330.5 323.3z"/>
<path fill="#800000" d="M542.5 119L533.5 115.7L526 119.6z"/>
<path fill="#00008f" d="M236.5 348.2L229 352L220.1 348.8z"/>
<path fill="#800000" d="M161.7 119.2L152.8 116L145.3 119.8z"/>
<path fill="#00008f" d="M327.6 348.3L320.1 352.1L311.1 348.9z"/>
<path fill="#800000" d="M409.6 116.9L402.1 120.7L393.1 117.5z"/>
<path fill="#00008f" d="M261.9 350.8L252.9 347.5L245.4 351.4z"/>
<path fill="#800000" d="M500.6 117L493.2 120.8L484.2 117.6z"/>
<path fill="#800000" d="M435 119.5L426 116.3L418.5 120.1z"/>
<path fill="#800000" d="M119.9 117.2L112.5 121L103.5 117.8z"/>
<path fill="#800000" d="M526 119.6L517.1 116.4L509.6 120.2z"/>
<path fill="#800000" d="M211 117.3L203.5 121.1L194.6 117.9z"/>
<path fill="#800000" d="M214 320.6L206.6 135.2L197.6 132z"/>
<path fill="#00008f" d="M217 334.7L209.6 338.5L200.6 146.1z"/>
<path fill="#00008f" d="M220.1 348.8L212.6 352.6L203.6 349.4z"/>
<path fill="#800000" d="M145.3 119.8L136.3 116.6L128.9 120.4z"/>
<path fill="#00008f" d="M311.1 348.9L303.7 352.7L294.7 349.5z"/>
<path fill="#800000" d="M393.1 117.5L385.7 121.3L376.7 118.1z"/>
<path fill="#00008f" d="M245.4 351.4L236.5 348.2L229 352z"/>
<path fill="#800000" d="M484.2 117.6L476.8 121.4L467.8 118.2z"/>
<path fill="#00008f" d="M336.5 351.5L327.6 348.3L320.1 352.1z"/>
<path fill="#800000" d="M418.5 120.1L409.6 116.9L402.1 120.7z"/>
<path fill="#800000" d="M103.5 117.8L96 121.7L87.1 118.4z"/>
<path fill="#800000" d="M509.6 120.2L500.6 117L493.2 120.8z"/>
<path fill="#800000" d="M194.6 117.9L187.1 121.8L178.2 118.5z"/>
<path fill="#00008f" d="M203.6 349.4L196.2 353.2L187.2 350z"/>
<path fill="#800000" d="M128.9 120.4L119.9 117.2L112.5 121z"/>
<path fill="#00008f" d="M294.7 349.5L287.3 353.3L278.3 350.1z"/>
<path fill="#00008f" d="M343.9 119.4L334.9 116.2L336.4 123.2z"/>
<path fill="#800000" d="M376.7 118.1L369.3 122L360.3 118.8z"/>
<path fill="#00008f" d="M229 352L220.1 348.8L212.6 352.6z"/>
<path fill="#800000" d="M467.8 118.2L460.3 122.1L451.4 118.9z"/>
<path fill="#00008f" d="M320.1 352.1L311.1 348.9L303.7 352.7z"/>
<path fill="#800000" d="M558.9 118.3L551.4 122.2L542.5 119z"/>
<path fill="#800000" d="M402.1 120.7L393.1 117.5L385.7 121.3z"/>
<path fill="#800000" d="M87.1 118.4L79.6 122.3L70.7 119.1z"/>
<path fill="#800000" d="M493.2 120.8L484.2 117.6L476.8 121.4z"/>
<path fill="#800000" d="M178.2 118.5L170.7 122.4L161.7 119.2z"/>
<path fill="#800000" d="M112.5 121L103.5 117.8L96 121.7z"/>
<path fill="#00008f" d="M278.3 350.1L270.8 354L261.9 350.8z"/>
<path fill="#800000" d="M360.3 118.8L352.8 122.6L343.9 119.4z"/>
<path fill="#800000" d="M203.5 121.1L194.6 117.9L187.1 121.8z"/>
<path fill="#00008f" d="M212.6 352.6L203.6 349.4L196.2 353.2z"/>
<path fill="#800000" d="M451.4 118.9L443.9 122.7L435 119.5z"/>
<path fill="#00008f" d="M303.7 352.7L294.7 349.5L287.3 353.3z"/>
<path fill="#800000" d="M542.5 119L535 122.8L526 119.6z"/>
<path fill="#800000" d="M385.7 121.3L376.7 118.1L369.3 122z"/>
<path fill="#800000" d="M476.8 121.4L467.8 118.2L460.3 122.1z"/>
<path fill="#800000" d="M161.7 119.2L154.3 123L145.3 119.8z"/>
<path fill="#800000" d="M96 121.7L87.1 118.4L79.6 122.3z"/>
<path fill="#00008f" d="M261.9 350.8L254.4 354.6L245.4 351.4z"/>
<path fill="#800000" d="M187.1 121.8L178.2 118.5L170.7 122.4z"/>
<path fill="#00008f" d="M196.2 353.2L187.2 350L179.8 353.9z"/>
<path fill="#800000" d="M435 119.5L427.5 123.3L418.5 120.1z"/>
<path fill="#00008f" d="M287.3 353.3L278.3 350.1L270.8 354z"/>
<path fill="#800000" d="M526 119.6L518.6 123.4L509.6 120.2z"/>
<path fill="#800000" d="M369.3 122L360.3 118.8L352.8 122.6z"/>
<path fill="#800000" d="M460.3 122.1L451.4 118.9L443.9 122.7z"/>
<path fill="#800000" d="M145.3 119.8L137.9 123.6L128.9 120.4z"/>
<path fill="#800000" d="M551.4 122.2L542.5 119L535 122.8z"/>
<path fill="#800000" d="M79.6 122.3L70.7 119.1L63.2 122.9z"/>
<path fill="#00008f" d="M245.4 351.4L238 355.2L229 352z"/>
<path fill="#800000" d="M170.7 122.4L161.7 119.2L154.3 123z"/>
<path fill="#00008f" d="M336.5 351.5L329.1 355.3L320.1 352.1z"/>
<path fill="#800000" d="M418.5 120.1L411.1 123.9L402.1 120.7z"/>
<path fill="#00008f" d="M270.8 354L261.9 350.8L254.4 354.6z"/>
<path fill="#800000" d="M509.6 120.2L502.2 124L493.2 120.8z"/>
<path fill="#800000" d="M352.8 122.6L343.9 119.4L336.4 123.2z"/>
<path fill="#800000" d="M443.9 122.7L435 119.5L427.5 123.3z"/>
<path fill="#800000" d="M128.9 120.4L121.4 124.2L112.5 121z"/>
<path fill="#800000" d="M535 122.8L526 119.6L518.6 123.4z"/>
<path fill="#00008f" d="M229 352L221.6 355.8L212.6 352.6z"/>
<path fill="#800000" d="M154.3 123L145.3 119.8L137.9 123.6z"/>
<path fill="#00008f" d="M320.1 352.1L312.6 355.9L303.7 352.7z"/>
<path fill="#800000" d="M402.1 120.7L394.7 124.6L385.7 121.3z"/>
<path fill="#00008f" d="M254.4 354.6L245.4 351.4L238 355.2z"/>
<path fill="#800000" d="M493.2 120.8L485.7 124.7L476.8 121.4z"/>
<path fill="#800000" d="M427.5 123.3L418.5 120.1L411.1 123.9z"/>
<path fill="#800000" d="M112.5 121L105 124.9L96 121.7z"/>
<path fill="#800000" d="M518.6 123.4L509.6 120.2L502.2 124z"/>
<path fill="#800000" d="M203.5 121.1L196.1 125L187.1 121.8z"/>
<path fill="#00008f" d="M209.6 338.5L202.1 342.4L193.2 149.9z"/>
<path fill="#00008f" d="M212.6 352.6L205.1 356.5L196.2 353.2z"/>
<path fill="#800000" d="M137.9 123.6L128.9 120.4L121.4 124.2z"/>
<path fill="#00008f" d="M303.7 352.7L296.2 356.6L287.3 353.3z"/>
<path fill="#800000" d="M385.7 121.3L378.2 125.2L369.3 122z"/>
<path fill="#00008f" d="M238 355.2L229 352L221.6 355.8z"/>
<path fill="#800000" d="M476.8 121.4L469.3 125.3L460.3 122.1z"/>
<path fill="#00008f" d="M329.1 355.3L320.1 352.1L312.6 355.9z"/>
<path fill="#800000" d="M411.1 123.9L402.1 120.7L394.7 124.6z"/>
<path fill="#800000" d="M96 121.7L88.6 125.5L79.6 122.3z"/>
<path fill="#800000" d="M502.2 124L493.2 120.8L485.7 124.7z"/>
<path fill="#800000" d="M187.1 121.8L179.7 125.6L170.7 122.4z"/>
<path fill="#00008f" d="M196.2 353.2L188.7 357.1L179.8 353.9z"/>
<path fill="#800000" d="M121.4 124.2L112.5 121L105 124.9z"/>
<path fill="#00008f" d="M287.3 353.3L279.8 357.2L270.8 354z"/>
<path fill="#800000" d="M369.3 122L361.8 125.8L352.8 122.6z"/>
<path fill="#800000" d="M215.5 327.6L206.6 135.2L199.1 139.1z"/>
<path fill="#00008f" d="M221.6 355.8L212.6 352.6L205.1 356.5z"/>
<path fill="#800000" d="M460.3 122.1L452.9 125.9L443.9 122.7z"/>
<path fill="#00008f" d="M312.6 355.9L303.7 352.7L296.2 356.6z"/>
<path fill="#00008f" d="M336.5 351.5L338 358.5L329.1 355.3z"/>
<path fill="#800000" d="M551.4 122.2L544 126L535 122.8z"/>
<path fill="#800000" d="M394.7 124.6L385.7 121.3L378.2 125.2z"/>
<path fill="#800000" d="M79.6 122.3L72.2 126.1L63.2 122.9z"/>
<path fill="#800000" d="M485.7 124.7L476.8 121.4L469.3 125.3z"/>
<path fill="#800000" d="M170.7 122.4L163.2 126.2L154.3 123z"/>
<path fill="#800000" d="M105 124.9L96 121.7L88.6 125.5z"/>
<path fill="#00008f" d="M270.8 354L263.4 357.8L254.4 354.6z"/>
<path fill="#800000" d="M352.8 122.6L345.4 126.4L336.4 123.2z"/>
<path fill="#800000" d="M196.1 125L187.1 121.8L179.7 125.6z"/>
<path fill="#00008f" d="M205.1 356.5L196.2 353.2L188.7 357.1z"/>
<path fill="#800000" d="M443.9 122.7L436.5 126.5L427.5 123.3z"/>
<path fill="#00008f" d="M296.2 356.6L287.3 353.3L279.8 357.2z"/>
<path fill="#800000" d="M535 122.8L527.5 126.6L518.6 123.4z"/>
<path fill="#800000" d="M378.2 125.2L369.3 122L361.8 125.8z"/>
<path fill="#800000" d="M469.3 125.3L460.3 122.1L452.9 125.9z"/>
<path fill="#800000" d="M154.3 123L146.8 126.8L137.9 123.6z"/>
<path fill="#800000" d="M88.6 125.5L79.6 122.3L72.2 126.1z"/>
<path fill="#00008f" d="M254.4 354.6L247 358.4L238 355.2z"/>
<path fill="#800000" d="M179.7 125.6L170.7 122.4L163.2 126.2z"/>
<path fill="#800000" d="M427.5 123.3L420 127.1L411.1 123.9z"/>
<path fill="#00008f" d="M279.8 357.2L270.8 354L263.4 357.8z"/>
<path fill="#800000" d="M518.6 123.4L511.1 127.2L502.2 124z"/>
<path fill="#800000" d="M361.8 125.8L352.8 122.6L345.4 126.4z"/>
<path fill="#800000" d="M452.9 125.9L443.9 122.7L436.5 126.5z"/>
<path fill="#800000" d="M137.9 123.6L130.4 127.5L121.4 124.2z"/>
<path fill="#800000" d="M341 144.4L342.5 151.4L333.5 337.4L332 330.3z"/>
<path fill="#800000" d="M544 126L535 122.8L527.5 126.6z"/>
<path fill="#00008f" d="M238 355.2L230.5 359L221.6 355.8z"/>
<path fill="#800000" d="M163.2 126.2L154.3 123L146.8 126.8z"/>
<path fill="#00008f" d="M329.1 355.3L321.6 359.1L312.6 355.9z"/>
<path fill="#800000" d="M411.1 123.9L403.6 127.8L394.7 124.6z"/>
<path fill="#00008f" d="M263.4 357.8L254.4 354.6L247 358.4z"/>
<path fill="#800000" d="M502.2 124L494.7 127.9L485.7 124.7z"/>
<path fill="#800000" d="M436.5 126.5L427.5 123.3L420 127.1z"/>
<path fill="#800000" d="M121.4 124.2L114 128.1L105 124.9z"/>
<path fill="#800000" d="M527.5 126.6L518.6 123.4L511.1 127.2z"/>
<path fill="#00008f" d="M221.6 355.8L214.1 359.7L205.1 356.5z"/>
<path fill="#800000" d="M146.8 126.8L137.9 123.6L130.4 127.5z"/>
<path fill="#00008f" d="M312.6 355.9L305.2 359.8L296.2 356.6z"/>
<path fill="#800000" d="M394.7 124.6L387.2 128.4L378.2 125.2z"/>
<path fill="#00008f" d="M247 358.4L238 355.2L230.5 359z"/>
<path fill="#800000" d="M485.7 124.7L478.3 128.5L469.3 125.3z"/>
<path fill="#00008f" d="M338 358.5L329.1 355.3L321.6 359.1z"/>
<path fill="#800000" d="M420 127.1L411.1 123.9L403.6 127.8z"/>
<path fill="#800000" d="M105 124.9L97.6 128.7L88.6 125.5z"/>
<path fill="#800000" d="M511.1 127.2L502.2 124L494.7 127.9z"/>
<path fill="#800000" d="M196.1 125L188.6 128.8L179.7 125.6z"/>
<path fill="#00008f" d="M202.1 342.4L194.7 346.2L185.7 153.8z"/>
<path fill="#00008f" d="M205.1 356.5L197.7 360.3L188.7 357.1z"/>
<path fill="#800000" d="M130.4 127.5L121.4 124.2L114 128.1z"/>
<path fill="#00008f" d="M296.2 356.6L288.8 360.4L279.8 357.2z"/>
<path fill="#00008f" d="M345.4 126.4L336.4 123.2L337.9 130.3z"/>
<path fill="#800000" d="M378.2 125.2L370.8 129L361.8 125.8z"/>
<path fill="#00008f" d="M230.5 359L221.6 355.8L214.1 359.7z"/>
<path fill="#800000" d="M469.3 125.3L461.9 129.1L452.9 125.9z"/>
<path fill="#00008f" d="M321.6 359.1L312.6 355.9L305.2 359.8z"/>
<path fill="#800000" d="M403.6 127.8L394.7 124.6L387.2 128.4z"/>
<path fill="#800000" d="M88.6 125.5L81.1 129.3L72.2 126.1z"/>
<path fill="#800000" d="M494.7 127.9L485.7 124.7L478.3 128.5z"/>
<path fill="#800000" d="M179.7 125.6L172.2 129.4L163.2 126.2z"/>
<path fill="#800000" d="M114 128.1L105 124.9L97.6 128.7z"/>
<path fill="#00008f" d="M279.8 357.2L272.3 361L263.4 357.8z"/>
<path fill="#800000" d="M361.8 125.8L354.4 129.6L345.4 126.4z"/>
<path fill="#800000" d="M205.1 128.2L196.1 125L188.6 128.8z"/>
<path fill="#800000" d="M208.1 331.5L199.1 139.1L191.6 142.9z"/>
<path fill="#00008f" d="M214.1 359.7L205.1 356.5L197.7 360.3z"/>
<path fill="#800000" d="M452.9 125.9L445.4 129.7L436.5 126.5z"/>
<path fill="#00008f" d="M305.2 359.8L296.2 356.6L288.8 360.4z"/>
<path fill="#800000" d="M544 126L536.5 129.8L527.5 126.6z"/>
<path fill="#800000" d="M387.2 128.4L378.2 125.2L370.8 129z"/>
<path fill="#800000" d="M478.3 128.5L469.3 125.3L461.9 129.1z"/>
<path fill="#800000" d="M163.2 126.2L155.8 130.1L146.8 126.8z"/>
<path fill="#800000" d="M97.6 128.7L88.6 125.5L81.1 129.3z"/>
<path fill="#00008f" d="M263.4 357.8L255.9 361.6L247 358.4z"/>
<path fill="#800000" d="M188.6 128.8L179.7 125.6L172.2 129.4z"/>
<path fill="#800000" d="M436.5 126.5L429 130.4L420 127.1z"/>
<path fill="#00008f" d="M288.8 360.4L279.8 357.2L272.3 361z"/>
<path fill="#800000" d="M527.5 126.6L520.1 130.5L511.1 127.2z"/>
<path fill="#800000" d="M370.8 129L361.8 125.8L354.4 129.6z"/>
<path fill="#800000" d="M461.9 129.1L452.9 125.9L445.4 129.7z"/>
<path fill="#800000" d="M146.8 126.8L139.4 130.7L130.4 127.5z"/>
<path fill="#00008f" d="M247 358.4L239.5 362.3L230.5 359z"/>
<path fill="#800000" d="M172.2 129.4L163.2 126.2L155.8 130.1z"/>
<path fill="#00008f" d="M338 358.5L330.6 362.4L321.6 359.1z"/>
<path fill="#800000" d="M420 127.1L412.6 131L403.6 127.8z"/>
<path fill="#00008f" d="M272.3 361L263.4 357.8L255.9 361.6z"/>
<path fill="#800000" d="M511.1 127.2L503.7 131.1L494.7 127.9z"/>
<path fill="#800000" d="M354.4 129.6L345.4 126.4L337.9 130.3z"/>
<path fill="#800000" d="M445.4 129.7L436.5 126.5L429 130.4z"/>
<path fill="#800000" d="M130.4 127.5L122.9 131.3L114 128.1z"/>
<path fill="#800000" d="M536.5 129.8L527.5 126.6L520.1 130.5z"/>
<path fill="#00008f" d="M230.5 359L223.1 362.9L214.1 359.7z"/>
<path fill="#800000" d="M155.8 130.1L146.8 126.8L139.4 130.7z"/>
<path fill="#00008f" d="M321.6 359.1L314.1 363L305.2 359.8z"/>
<path fill="#800000" d="M403.6 127.8L396.2 131.6L387.2 128.4z"/>
<path fill="#00008f" d="M255.9 361.6L247 358.4L239.5 362.3z"/>
<path fill="#800000" d="M494.7 127.9L487.2 131.7L478.3 128.5z"/>
<path fill="#800000" d="M429 130.4L420 127.1L412.6 131z"/>
<path fill="#800000" d="M114 128.1L106.5 131.9L97.6 128.7z"/>
<path fill="#800000" d="M520.1 130.5L511.1 127.2L503.7 131.1z"/>
<path fill="#800000" d="M205.1 128.2L197.6 132L188.6 128.8z"/>
<path fill="#800000" d="M208.1 331.5L200.6 146.1L191.6 142.9z"/>
<path fill="#00008f" d="M214.1 359.7L206.7 363.5L197.7 360.3z"/>
<path fill="#800000" d="M139.4 130.7L130.4 127.5L122.9 131.3z"/>
<path fill="#00008f" d="M305.2 359.8L297.7 363.6L288.8 360.4z"/>
<path fill="#800000" d="M387.2 128.4L379.7 132.2L370.8 129z"/>
<path fill="#00008f" d="M239.5 362.3L230.5 359L223.1 362.9z"/>
<path fill="#800000" d="M478.3 128.5L470.8 132.3L461.9 129.1z"/>
<path fill="#00008f" d="M330.6 362.4L321.6 359.1L314.1 363z"/>
<path fill="#800000" d="M412.6 131L403.6 127.8L396.2 131.6z"/>
<path fill="#800000" d="M97.6 128.7L90.1 132.5L81.1 129.3z"/>
<path fill="#800000" d="M503.7 131.1L494.7 127.9L487.2 131.7z"/>
<path fill="#800000" d="M188.6 128.8L181.2 132.6L172.2 129.4z"/>
<path fill="#00008f" d="M194.7 346.2L187.2 350L178.2 157.6z"/>
<path fill="#800000" d="M122.9 131.3L114 128.1L106.5 131.9z"/>
<path fill="#00008f" d="M288.8 360.4L281.3 364.2L272.3 361z"/>
<path fill="#800000" d="M370.8 129L363.3 132.8L354.4 129.6z"/>
<path fill="#00008f" d="M223.1 362.9L214.1 359.7L206.7 363.5z"/>
<path fill="#800000" d="M461.9 129.1L454.4 132.9L445.4 129.7z"/>
<path fill="#00008f" d="M314.1 363L305.2 359.8L297.7 363.6z"/>
<path fill="#00008f" d="M338 358.5L339.5 365.6L330.6 362.4z"/>
<path fill="#800000" d="M396.2 131.6L387.2 128.4L379.7 132.2z"/>
<path fill="#800000" d="M487.2 131.7L478.3 128.5L470.8 132.3z"/>
<path fill="#800000" d="M172.2 129.4L164.8 133.3L155.8 130.1z"/>
<path fill="#800000" d="M106.5 131.9L97.6 128.7L90.1 132.5z"/>
<path fill="#00008f" d="M272.3 361L264.9 364.8L255.9 361.6z"/>
<path fill="#800000" d="M354.4 129.6L346.9 133.5L337.9 130.3z"/>
<path fill="#800000" d="M197.6 132L188.6 128.8L181.2 132.6z"/>
<path fill="#800000" d="M445.4 129.7L438 133.6L429 130.4z"/>
<path fill="#00008f" d="M297.7 363.6L288.8 360.4L281.3 364.2z"/>
<path fill="#800000" d="M536.5 129.8L529.1 133.7L520.1 130.5z"/>
<path fill="#800000" d="M379.7 132.2L370.8 129L363.3 132.8z"/>
<path fill="#800000" d="M470.8 132.3L461.9 129.1L454.4 132.9z"/>
<path fill="#800000" d="M155.8 130.1L148.3 133.9L139.4 130.7z"/>
<path fill="#00008f" d="M255.9 361.6L248.5 365.5L239.5 362.3z"/>
<path fill="#800000" d="M181.2 132.6L172.2 129.4L164.8 133.3z"/>
<path fill="#800000" d="M429 130.4L421.6 134.2L412.6 131z"/>
<path fill="#00008f" d="M281.3 364.2L272.3 361L264.9 364.8z"/>
<path fill="#800000" d="M520.1 130.5L512.6 134.3L503.7 131.1z"/>
<path fill="#800000" d="M363.3 132.8L354.4 129.6L346.9 133.5z"/>
<path fill="#800000" d="M454.4 132.9L445.4 129.7L438 133.6z"/>
<path fill="#800000" d="M139.4 130.7L131.9 134.5L122.9 131.3z"/>
<path fill="#800000" d="M342.5 151.4L344 158.4L335 344.4L333.5 337.4z"/>
<path fill="#00008f" d="M239.5 362.3L232 366.1L223.1 362.9z"/>
<path fill="#800000" d="M164.8 133.3L155.8 130.1L148.3 133.9z"/>
<path fill="#00008f" d="M330.6 362.4L323.1 366.2L314.1 363z"/>
<path fill="#800000" d="M412.6 131L405.1 134.8L396.2 131.6z"/>
<path fill="#00008f" d="M264.9 364.8L255.9 361.6L248.5 365.5z"/>
<path fill="#800000" d="M503.7 131.1L496.2 134.9L487.2 131.7z"/>
<path fill="#800000" d="M438 133.6L429 130.4L421.6 134.2z"/>
<path fill="#800000" d="M122.9 131.3L115.5 135.1L106.5 131.9z"/>
<path fill="#800000" d="M529.1 133.7L520.1 130.5L512.6 134.3z"/>
<path fill="#00008f" d="M223.1 362.9L215.6 366.7L206.7 363.5z"/>
<path fill="#800000" d="M148.3 133.9L139.4 130.7L131.9 134.5z"/>
<path fill="#00008f" d="M314.1 363L306.7 366.8L297.7 363.6z"/>
<path fill="#800000" d="M396.2 131.6L388.7 135.4L379.7 132.2z"/>
<path fill="#00008f" d="M248.5 365.5L239.5 362.3L232 366.1z"/>
<path fill="#800000" d="M487.2 131.7L479.8 135.5L470.8 132.3z"/>
<path fill="#00008f" d="M339.5 365.6L330.6 362.4L323.1 366.2z"/>
<path fill="#800000" d="M421.6 134.2L412.6 131L405.1 134.8z"/>
<path fill="#800000" d="M106.5 131.9L99.1 135.8L90.1 132.5z"/>
<path fill="#800000" d="M512.6 134.3L503.7 131.1L496.2 134.9z"/>
<path fill="#800000" d="M197.6 132L190.1 135.9L181.2 132.6z"/>
<path fill="#800000" d="M131.9 134.5L122.9 131.3L115.5 135.1z"/>
<path fill="#00008f" d="M297.7 363.6L290.3 367.4L281.3 364.2z"/>
<path fill="#00008f" d="M346.9 133.5L337.9 130.3L339.4 137.3z"/>
<path fill="#800000" d="M379.7 132.2L372.3 136.1L363.3 132.8z"/>
<path fill="#00008f" d="M232 366.1L223.1 362.9L215.6 366.7z"/>
<path fill="#800000" d="M470.8 132.3L463.4 136.2L454.4 132.9z"/>
<path fill="#00008f" d="M323.1 366.2L314.1 363L306.7 366.8z"/>
<path fill="#800000" d="M405.1 134.8L396.2 131.6L388.7 135.4z"/>
<path fill="#800000" d="M496.2 134.9L487.2 131.7L479.8 135.5z"/>
<path fill="#800000" d="M181.2 132.6L173.7 136.5L164.8 133.3z"/>
<path fill="#00008f" d="M187.2 350L179.8 353.9L170.8 161.4z"/>
<path fill="#800000" d="M115.5 135.1L106.5 131.9L99.1 135.8z"/>
<path fill="#00008f" d="M281.3 364.2L273.8 368.1L264.9 364.8z"/>
<path fill="#800000" d="M363.3 132.8L355.9 136.7L346.9 133.5z"/>
<path fill="#800000" d="M206.6 135.2L197.6 132L190.1 135.9z"/>
<path fill="#800000" d="M209.6 338.5L200.6 146.1L193.2 149.9z"/>
<path fill="#800000" d="M454.4 132.9L446.9 136.8L438 133.6z"/>
<path fill="#00008f" d="M306.7 366.8L297.7 363.6L290.3 367.4z"/>
<path fill="#800000" d="M388.7 135.4L379.7 132.2L372.3 136.1z"/>
<path fill="#800000" d="M479.8 135.5L470.8 132.3L463.4 136.2z"/>
<path fill="#800000" d="M164.8 133.3L157.3 137.1L148.3 133.9z"/>
<path fill="#00008f" d="M264.9 364.8L257.4 368.7L248.5 365.5z"/>
<path fill="#800000" d="M190.1 135.9L181.2 132.6L173.7 136.5z"/>
<path fill="#800000" d="M438 133.6L430.5 137.4L421.6 134.2z"/>
<path fill="#00008f" d="M290.3 367.4L281.3 364.2L273.8 368.1z"/>
<path fill="#800000" d="M529.1 133.7L521.6 137.5L512.6 134.3z"/>
<path fill="#800000" d="M372.3 136.1L363.3 132.8L355.9 136.7z"/>
<path fill="#800000" d="M463.4 136.2L454.4 132.9L446.9 136.8z"/>
<path fill="#800000" d="M148.3 133.9L140.9 137.7L131.9 134.5z"/>
<path fill="#00008f" d="M248.5 365.5L241 369.3L232 366.1z"/>
<path fill="#800000" d="M173.7 136.5L164.8 133.3L157.3 137.1z"/>
<path fill="#00008f" d="M339.5 365.6L332.1 369.4L323.1 366.2z"/>
<path fill="#800000" d="M421.6 134.2L414.1 138L405.1 134.8z"/>
<path fill="#00008f" d="M273.8 368.1L264.9 364.8L257.4 368.7z"/>
<path fill="#800000" d="M512.6 134.3L505.2 138.1L496.2 134.9z"/>
<path fill="#800000" d="M355.9 136.7L346.9 133.5L339.4 137.3z"/>
<path fill="#800000" d="M446.9 136.8L438 133.6L430.5 137.4z"/>
<path fill="#800000" d="M131.9 134.5L124.5 138.3L115.5 135.1z"/>
<path fill="#00008f" d="M232 366.1L224.6 369.9L215.6 366.7z"/>
<path fill="#800000" d="M157.3 137.1L148.3 133.9L140.9 137.7z"/>
<path fill="#00008f" d="M323.1 366.2L315.7 370L306.7 366.8z"/>
<path fill="#800000" d="M405.1 134.8L397.7 138.7L388.7 135.4z"/>
<path fill="#00008f" d="M257.4 368.7L248.5 365.5L241 369.3z"/>
<path fill="#800000" d="M496.2 134.9L488.8 138.8L479.8 135.5z"/>
<path fill="#800000" d="M430.5 137.4L421.6 134.2L414.1 138z"/>
<path fill="#800000" d="M115.5 135.1L108 139L99.1 135.8z"/>
<path fill="#800000" d="M521.6 137.5L512.6 134.3L505.2 138.1z"/>
<path fill="#800000" d="M206.6 135.2L199.1 139.1L190.1 135.9z"/>
<path fill="#800000" d="M140.9 137.7L131.9 134.5L124.5 138.3z"/>
<path fill="#00008f" d="M306.7 366.8L299.2 370.6L290.3 367.4z"/>
<path fill="#800000" d="M388.7 135.4L381.3 139.3L372.3 136.1z"/>
<path fill="#00008f" d="M241 369.3L232 366.1L224.6 369.9z"/>
<path fill="#800000" d="M479.8 135.5L472.3 139.4L463.4 136.2z"/>
<path fill="#00008f" d="M332.1 369.4L323.1 366.2L315.7 370z"/>
<path fill="#800000" d="M414.1 138L405.1 134.8L397.7 138.7z"/>
<path fill="#800000" d="M505.2 138.1L496.2 134.9L488.8 138.8z"/>
<path fill="#800000" d="M190.1 135.9L182.7 139.7L173.7 136.5z"/>
<path fill="#800000" d="M124.5 138.3L115.5 135.1L108 139z"/>
<path fill="#00008f" d="M290.3 367.4L282.8 371.3L273.8 368.1z"/>
<path fill="#800000" d="M372.3 136.1L364.8 139.9L355.9 136.7z"/>
<path fill="#800000" d="M463.4 136.2L455.9 140L446.9 136.8z"/>
<path fill="#00008f" d="M315.7 370L306.7 366.8L299.2 370.6z"/>
<path fill="#00008f" d="M339.5 365.6L341 372.6L332.1 369.4z"/>
<path fill="#800000" d="M397.7 138.7L388.7 135.4L381.3 139.3z"/>
<path fill="#800000" d="M488.8 138.8L479.8 135.5L472.3 139.4z"/>
<path fill="#800000" d="M173.7 136.5L166.3 140.3L157.3 137.1z"/>
<path fill="#00008f" d="M273.8 368.1L266.4 371.9L257.4 368.7z"/>
<path fill="#800000" d="M355.9 136.7L348.4 140.5L339.4 137.3z"/>
<path fill="#800000" d="M199.1 139.1L190.1 135.9L182.7 139.7z"/>
<path fill="#800000" d="M202.1 342.4L193.2 149.9L185.7 153.8z"/>
<path fill="#800000" d="M446.9 136.8L439.5 140.6L430.5 137.4z"/>
<path fill="#00008f" d="M299.2 370.6L290.3 367.4L282.8 371.3z"/>
<path fill="#800000" d="M381.3 139.3L372.3 136.1L364.8 139.9z"/>
<path fill="#800000" d="M472.3 139.4L463.4 136.2L455.9 140z"/>
<path fill="#800000" d="M157.3 137.1L149.8 140.9L140.9 137.7z"/>
<path fill="#00008f" d="M257.4 368.7L250 372.5L241 369.3z"/>
<path fill="#800000" d="M182.7 139.7L173.7 136.5L166.3 140.3z"/>
<path fill="#800000" d="M430.5 137.4L423.1 141.2L414.1 138z"/>
<path fill="#00008f" d="M282.8 371.3L273.8 368.1L266.4 371.9z"/>
<path fill="#800000" d="M521.6 137.5L514.1 141.3L505.2 138.1z"/>
<path fill="#800000" d="M364.8 139.9L355.9 136.7L348.4 140.5z"/>
<path fill="#800000" d="M455.9 140L446.9 136.8L439.5 140.6z"/>
<path fill="#800000" d="M140.9 137.7L133.4 141.6L124.5 138.3z"/>
<path fill="#800000" d="M344 158.4L345.5 165.5L336.5 351.5L335 344.4z"/>
<path fill="#00008f" d="M241 369.3L233.5 373.1L224.6 369.9z"/>
<path fill="#800000" d="M166.3 140.3L157.3 137.1L149.8 140.9z"/>
<path fill="#00008f" d="M332.1 369.4L324.6 373.2L315.7 370z"/>
<path fill="#800000" d="M414.1 138L406.6 141.9L397.7 138.7z"/>
<path fill="#00008f" d="M266.4 371.9L257.4 368.7L250 372.5z"/>
<path fill="#800000" d="M505.2 138.1L497.7 142L488.8 138.8z"/>
<path fill="#800000" d="M439.5 140.6L430.5 137.4L423.1 141.2z"/>
<path fill="#800000" d="M124.5 138.3L117 142.2L108 139z"/>
<path fill="#800000" d="M149.8 140.9L140.9 137.7L133.4 141.6z"/>
<path fill="#00008f" d="M315.7 370L308.2 373.9L299.2 370.6z"/>
<path fill="#800000" d="M397.7 138.7L390.2 142.5L381.3 139.3z"/>
<path fill="#00008f" d="M250 372.5L241 369.3L233.5 373.1z"/>
<path fill="#800000" d="M488.8 138.8L481.3 142.6L472.3 139.4z"/>
<path fill="#00008f" d="M341 372.6L332.1 369.4L324.6 373.2z"/>
<path fill="#800000" d="M423.1 141.2L414.1 138L406.6 141.9z"/>
<path fill="#800000" d="M514.1 141.3L505.2 138.1L497.7 142z"/>
<path fill="#800000" d="M199.1 139.1L191.6 142.9L182.7 139.7z"/>
<path fill="#800000" d="M133.4 141.6L124.5 138.3L117 142.2z"/>
<path fill="#00008f" d="M299.2 370.6L291.8 374.5L282.8 371.3z"/>
<path fill="#00008f" d="M348.4 140.5L339.4 137.3L341 144.4z"/>
<path fill="#800000" d="M381.3 139.3L373.8 143.1L364.8 139.9z"/>
<path fill="#800000" d="M472.3 139.4L464.9 143.2L455.9 140z"/>
<path fill="#00008f" d="M324.6 373.2L315.7 370L308.2 373.9z"/>
<path fill="#800000" d="M406.6 141.9L397.7 138.7L390.2 142.5z"/>
<path fill="#800000" d="M497.7 142L488.8 138.8L481.3 142.6z"/>
<path fill="#800000" d="M182.7 139.7L175.2 143.5L166.3 140.3z"/>
<path fill="#00008f" d="M282.8 371.3L275.4 375.1L266.4 371.9z"/>
<path fill="#800000" d="M364.8 139.9L357.4 143.7L348.4 140.5z"/>
<path fill="#800000" d="M455.9 140L448.5 143.8L439.5 140.6z"/>
<path fill="#00008f" d="M308.2 373.9L299.2 370.6L291.8 374.5z"/>
<path fill="#800000" d="M390.2 142.5L381.3 139.3L373.8 143.1z"/>
<path fill="#800000" d="M481.3 142.6L472.3 139.4L464.9 143.2z"/>
<path fill="#800000" d="M166.3 140.3L158.8 144.1L149.8 140.9z"/>
<path fill="#00008f" d="M266.4 371.9L258.9 375.7L250 372.5z"/>
<path fill="#800000" d="M191.6 142.9L182.7 139.7L175.2 143.5z"/>
<path fill="#800000" d="M194.7 346.2L185.7 153.8L178.2 157.6z"/>
<path fill="#800000" d="M439.5 140.6L432 144.5L423.1 141.2z"/>
<path fill="#00008f" d="M291.8 374.5L282.8 371.3L275.4 375.1z"/>
<path fill="#800000" d="M373.8 143.1L364.8 139.9L357.4 143.7z"/>
<path fill="#800000" d="M464.9 143.2L455.9 140L448.5 143.8z"/>
<path fill="#800000" d="M149.8 140.9L142.4 144.8L133.4 141.6z"/>
<path fill="#00008f" d="M250 372.5L242.5 376.3L233.5 373.1z"/>
<path fill="#800000" d="M175.2 143.5L166.3 140.3L158.8 144.1z"/>
<path fill="#00008f" d="M341 372.6L333.6 376.5L324.6 373.2z"/>
<path fill="#800000" d="M423.1 141.2L415.6 145.1L406.6 141.9z"/>
<path fill="#00008f" d="M275.4 375.1L266.4 371.9L258.9 375.7z"/>
<path fill="#800000" d="M514.1 141.3L506.7 145.2L497.7 142z"/>
<path fill="#800000" d="M357.4 143.7L348.4 140.5L341 144.4z"/>
<path fill="#800000" d="M448.5 143.8L439.5 140.6L432 144.5z"/>
<path fill="#800000" d="M133.4 141.6L126 145.4L117 142.2z"/>
<path fill="#800000" d="M158.8 144.1L149.8 140.9L142.4 144.8z"/>
<path fill="#00008f" d="M324.6 373.2L317.2 377.1L308.2 373.9z"/>
<path fill="#800000" d="M406.6 141.9L399.2 145.7L390.2 142.5z"/>
<path fill="#00008f" d="M258.9 375.7L250 372.5L242.5 376.3z"/>
<path fill="#800000" d="M497.7 142L490.3 145.8L481.3 142.6z"/>
<path fill="#800000" d="M432 144.5L423.1 141.2L415.6 145.1z"/>
<path fill="#800000" d="M142.4 144.8L133.4 141.6L126 145.4z"/>
<path fill="#00008f" d="M308.2 373.9L300.7 377.7L291.8 374.5z"/>
<path fill="#800000" d="M390.2 142.5L382.8 146.3L373.8 143.1z"/>
<path fill="#800000" d="M481.3 142.6L473.8 146.4L464.9 143.2z"/>
<path fill="#00008f" d="M333.6 376.5L324.6 373.2L317.2 377.1z"/>
<path fill="#800000" d="M415.6 145.1L406.6 141.9L399.2 145.7z"/>
<path fill="#800000" d="M506.7 145.2L497.7 142L490.3 145.8z"/>
<path fill="#800000" d="M191.6 142.9L184.2 146.7L175.2 143.5z"/>
<path fill="#00008f" d="M291.8 374.5L284.3 378.3L275.4 375.1z"/>
<path fill="#800000" d="M373.8 143.1L366.3 146.9L357.4 143.7z"/>
<path fill="#800000" d="M464.9 143.2L457.4 147L448.5 143.8z"/>
<path fill="#00008f" d="M317.2 377.1L308.2 373.9L300.7 377.7z"/>
<path fill="#00008f" d="M341 372.6L342.6 379.7L333.6 376.5z"/>
<path fill="#800000" d="M399.2 145.7L390.2 142.5L382.8 146.3z"/>
<path fill="#800000" d="M490.3 145.8L481.3 142.6L473.8 146.4z"/>
<path fill="#800000" d="M175.2 143.5L167.8 147.4L158.8 144.1z"/>
<path fill="#00008f" d="M275.4 375.1L267.9 378.9L258.9 375.7z"/>
<path fill="#800000" d="M357.4 143.7L349.9 147.6L341 144.4z"/>
<path fill="#800000" d="M200.6 146.1L191.6 142.9L184.2 146.7z"/>
<path fill="#800000" d="M448.5 143.8L441 147.7L432 144.5z"/>
<path fill="#00008f" d="M300.7 377.7L291.8 374.5L284.3 378.3z"/>
<path fill="#800000" d="M382.8 146.3L373.8 143.1L366.3 146.9z"/>
<path fill="#800000" d="M473.8 146.4L464.9 143.2L457.4 147z"/>
<path fill="#800000" d="M158.8 144.1L151.3 148L142.4 144.8z"/>
<path fill="#00008f" d="M258.9 375.7L251.5 379.6L242.5 376.3z"/>
<path fill="#800000" d="M184.2 146.7L175.2 143.5L167.8 147.4z"/>
<path fill="#800000" d="M187.2 350L178.2 157.6L170.8 161.4z"/>
<path fill="#800000" d="M432 144.5L424.6 148.3L415.6 145.1z"/>
<path fill="#00008f" d="M284.3 378.3L275.4 375.1L267.9 378.9z"/>
<path fill="#800000" d="M366.3 146.9L357.4 143.7L349.9 147.6z"/>
<path fill="#800000" d="M457.4 147L448.5 143.8L441 147.7z"/>
<path fill="#800000" d="M142.4 144.8L134.9 148.6L126 145.4z"/>
<path fill="#800000" d="M345.5 165.5L347 172.5L338 358.5L336.5 351.5z"/>
<path fill="#800000" d="M167.8 147.4L158.8 144.1L151.3 148z"/>
<path fill="#00008f" d="M333.6 376.5L326.1 380.3L317.2 377.1z"/>
<path fill="#800000" d="M415.6 145.1L408.1 148.9L399.2 145.7z"/>
<path fill="#00008f" d="M267.9 378.9L258.9 375.7L251.5 379.6z"/>
<path fill="#800000" d="M506.7 145.2L499.2 149L490.3 145.8z"/>
<path fill="#800000" d="M441 147.7L432 144.5L424.6 148.3z"/>
<path fill="#800000" d="M151.3 148L142.4 144.8L134.9 148.6z"/>
<path fill="#00008f" d="M317.2 377.1L309.7 380.9L300.7 377.7z"/>
<path fill="#800000" d="M399.2 145.7L391.7 149.5L382.8 146.3z"/>
<path fill="#800000" d="M490.3 145.8L482.8 149.6L473.8 146.4z"/>
<path fill="#00008f" d="M342.6 379.7L333.6 376.5L326.1 380.3z"/>
<path fill="#800000" d="M424.6 148.3L415.6 145.1L408.1 148.9z"/>
<path fill="#800000" d="M200.6 146.1L193.2 149.9L184.2 146.7z"/>
<path fill="#00008f" d="M300.7 377.7L293.3 381.5L284.3 378.3z"/>
<path fill="#00008f" d="M349.9 147.6L341 144.4L342.5 151.4z"/>
<path fill="#800000" d="M382.8 146.3L375.3 150.2L366.3 146.9z"/>
<path fill="#800000" d="M473.8 146.4L466.4 150.3L457.4 147z"/>
<path fill="#00008f" d="M326.1 380.3L317.2 377.1L309.7 380.9z"/>
<path fill="#800000" d="M408.1 148.9L399.2 145.7L391.7 149.5z"/>
<path fill="#800000" d="M499.2 149L490.3 145.8L482.8 149.6z"/>
<path fill="#800000" d="M184.2 146.7L176.7 150.6L167.8 147.4z"/>
<path fill="#00008f" d="M284.3 378.3L276.9 382.2L267.9 378.9z"/>
<path fill="#800000" d="M366.3 146.9L358.9 150.8L349.9 147.6z"/>
<path fill="#800000" d="M457.4 147L450 150.9L441 147.7z"/>
<path fill="#00008f" d="M309.7 380.9L300.7 377.7L293.3 381.5z"/>
<path fill="#800000" d="M391.7 149.5L382.8 146.3L375.3 150.2z"/>
<path fill="#800000" d="M482.8 149.6L473.8 146.4L466.4 150.3z"/>
<path fill="#800000" d="M167.8 147.4L160.3 151.2L151.3 148z"/>
<path fill="#00008f" d="M267.9 378.9L260.4 382.8L251.5 379.6z"/>
<path fill="#800000" d="M193.2 149.9L184.2 146.7L176.7 150.6z"/>
<path fill="#800000" d="M441 147.7L433.5 151.5L424.6 148.3z"/>
<path fill="#00008f" d="M293.3 381.5L284.3 378.3L276.9 382.2z"/>
<path fill="#800000" d="M375.3 150.2L366.3 146.9L358.9 150.8z"/>
<path fill="#800000" d="M466.4 150.3L457.4 147L450 150.9z"/>
<path fill="#800000" d="M151.3 148L143.9 151.8L134.9 148.6z"/>
<path fill="#800000" d="M176.7 150.6L167.8 147.4L160.3 151.2z"/>
<path fill="#00008f" d="M342.6 379.7L335.1 383.5L326.1 380.3z"/>
<path fill="#800000" d="M424.6 148.3L417.1 152.1L408.1 148.9z"/>
<path fill="#00008f" d="M276.9 382.2L267.9 378.9L260.4 382.8z"/>
<path fill="#800000" d="M358.9 150.8L349.9 147.6L342.5 151.4z"/>
<path fill="#800000" d="M450 150.9L441 147.7L433.5 151.5z"/>
<path fill="#800000" d="M160.3 151.2L151.3 148L143.9 151.8z"/>
<path fill="#00008f" d="M326.1 380.3L318.7 384.1L309.7 380.9z"/>
<path fill="#800000" d="M408.1 148.9L400.7 152.7L391.7 149.5z"/>
<path fill="#800000" d="M499.2 149L491.8 152.8L482.8 149.6z"/>
<path fill="#800000" d="M433.5 151.5L424.6 148.3L417.1 152.1z"/>
<path fill="#00008f" d="M309.7 380.9L302.3 384.7L293.3 381.5z"/>
<path fill="#800000" d="M391.7 149.5L384.3 153.4L375.3 150.2z"/>
<path fill="#800000" d="M482.8 149.6L475.3 153.5L466.4 150.3z"/>
<path fill="#00008f" d="M335.1 383.5L326.1 380.3L318.7 384.1z"/>
<path fill="#800000" d="M417.1 152.1L408.1 148.9L400.7 152.7z"/>
<path fill="#800000" d="M193.2 149.9L185.7 153.8L176.7 150.6z"/>
<path fill="#00008f" d="M293.3 381.5L285.8 385.4L276.9 382.2z"/>
<path fill="#800000" d="M375.3 150.2L367.9 154L358.9 150.8z"/>
<path fill="#800000" d="M466.4 150.3L458.9 154.1L450 150.9z"/>
<path fill="#00008f" d="M318.7 384.1L309.7 380.9L302.3 384.7z"/>
<path fill="#00008f" d="M342.6 379.7L344.1 386.7L335.1 383.5z"/>
<path fill="#800000" d="M400.7 152.7L391.7 149.5L384.3 153.4z"/>
<path fill="#800000" d="M491.8 152.8L482.8 149.6L475.3 153.5z"/>
<path fill="#800000" d="M176.7 150.6L169.3 154.4L160.3 151.2z"/>
<path fill="#00008f" d="M276.9 382.2L269.4 386L260.4 382.8z"/>
<path fill="#800000" d="M358.9 150.8L351.4 154.6L342.5 151.4z"/>
<path fill="#800000" d="M450 150.9L442.5 154.7L433.5 151.5z"/>
<path fill="#00008f" d="M302.3 384.7L293.3 381.5L285.8 385.4z"/>
<path fill="#800000" d="M384.3 153.4L375.3 150.2L367.9 154z"/>
<path fill="#800000" d="M475.3 153.5L466.4 150.3L458.9 154.1z"/>
<path fill="#800000" d="M160.3 151.2L152.9 155L143.9 151.8z"/>
<path fill="#800000" d="M185.7 153.8L176.7 150.6L169.3 154.4z"/>
<path fill="#800000" d="M433.5 151.5L426.1 155.3L417.1 152.1z"/>
<path fill="#00008f" d="M285.8 385.4L276.9 382.2L269.4 386z"/>
<path fill="#800000" d="M367.9 154L358.9 150.8L351.4 154.6z"/>
<path fill="#800000" d="M458.9 154.1L450 150.9L442.5 154.7z"/>
<path fill="#800000" d="M347 172.5L348.5 179.6L339.5 365.6L338 358.5z"/>
<path fill="#800000" d="M169.3 154.4L160.3 151.2L152.9 155z"/>
<path fill="#00008f" d="M335.1 383.5L327.6 387.3L318.7 384.1z"/>
<path fill="#800000" d="M417.1 152.1L409.7 156L400.7 152.7z"/>
<path fill="#800000" d="M442.5 154.7L433.5 151.5L426.1 155.3z"/>
<path fill="#00008f" d="M318.7 384.1L311.2 388L302.3 384.7z"/>
<path fill="#800000" d="M400.7 152.7L393.2 156.6L384.3 153.4z"/>
<path fill="#800000" d="M491.8 152.8L484.3 156.7L475.3 153.5z"/>
<path fill="#00008f" d="M344.1 386.7L335.1 383.5L327.6 387.3z"/>
<path fill="#800000" d="M426.1 155.3L417.1 152.1L409.7 156z"/>
<path fill="#00008f" d="M302.3 384.7L294.8 388.6L285.8 385.4z"/>
<path fill="#00008f" d="M351.4 154.6L342.5 151.4L344 158.4z"/>
<path fill="#800000" d="M384.3 153.4L376.8 157.2L367.9 154z"/>
<path fill="#800000" d="M475.3 153.5L467.9 157.3L458.9 154.1z"/>
<path fill="#00008f" d="M327.6 387.3L318.7 384.1L311.2 388z"/>
<path fill="#800000" d="M409.7 156L400.7 152.7L393.2 156.6z"/>
<path fill="#800000" d="M185.7 153.8L178.2 157.6L169.3 154.4z"/>
<path fill="#00008f" d="M285.8 385.4L278.4 389.2L269.4 386z"/>
<path fill="#800000" d="M367.9 154L360.4 157.8L351.4 154.6z"/>
<path fill="#800000" d="M458.9 154.1L451.5 157.9L442.5 154.7z"/>
<path fill="#00008f" d="M311.2 388L302.3 384.7L294.8 388.6z"/>
<path fill="#800000" d="M393.2 156.6L384.3 153.4L376.8 157.2z"/>
<path fill="#800000" d="M484.3 156.7L475.3 153.5L467.9 157.3z"/>
<path fill="#800000" d="M169.3 154.4L161.8 158.2L152.9 155z"/>
<path fill="#800000" d="M442.5 154.7L435 158.5L426.1 155.3z"/>
<path fill="#00008f" d="M294.8 388.6L285.8 385.4L278.4 389.2z"/>
<path fill="#800000" d="M376.8 157.2L367.9 154L360.4 157.8z"/>
<path fill="#800000" d="M467.9 157.3L458.9 154.1L451.5 157.9z"/>
<path fill="#800000" d="M178.2 157.6L169.3 154.4L161.8 158.2z"/>
<path fill="#00008f" d="M344.1 386.7L336.6 390.5L327.6 387.3z"/>
<path fill="#800000" d="M426.1 155.3L418.6 159.2L409.7 156z"/>
<path fill="#800000" d="M360.4 157.8L351.4 154.6L344 158.4z"/>
<path fill="#800000" d="M451.5 157.9L442.5 154.7L435 158.5z"/>
<path fill="#00008f" d="M327.6 387.3L320.2 391.2L311.2 388z"/>
<path fill="#800000" d="M409.7 156L402.2 159.8L393.2 156.6z"/>
<path fill="#800000" d="M435 158.5L426.1 155.3L418.6 159.2z"/>
<path fill="#00008f" d="M311.2 388L303.8 391.8L294.8 388.6z"/>
<path fill="#800000" d="M393.2 156.6L385.8 160.4L376.8 157.2z"/>
<path fill="#800000" d="M484.3 156.7L476.9 160.5L467.9 157.3z"/>
<path fill="#00008f" d="M336.6 390.5L327.6 387.3L320.2 391.2z"/>
<path fill="#800000" d="M418.6 159.2L409.7 156L402.2 159.8z"/>
<path fill="#00008f" d="M294.8 388.6L287.3 392.4L278.4 389.2z"/>
<path fill="#800000" d="M376.8 157.2L369.4 161L360.4 157.8z"/>
<path fill="#800000" d="M467.9 157.3L460.4 161.1L451.5 157.9z"/>
<path fill="#00008f" d="M320.2 391.2L311.2 388L303.8 391.8z"/>
<path fill="#00008f" d="M344.1 386.7L345.6 393.8L336.6 390.5z"/>
<path fill="#800000" d="M402.2 159.8L393.2 156.6L385.8 160.4z"/>
<path fill="#800000" d="M178.2 157.6L170.8 161.4L161.8 158.2z"/>
<path fill="#800000" d="M360.4 157.8L352.9 161.7L344 158.4z"/>
<path fill="#800000" d="M451.5 157.9L444 161.8L435 158.5z"/>
<path fill="#00008f" d="M303.8 391.8L294.8 388.6L287.3 392.4z"/>
<path fill="#800000" d="M385.8 160.4L376.8 157.2L369.4 161z"/>
<path fill="#800000" d="M476.9 160.5L467.9 157.3L460.4 161.1z"/>
<path fill="#800000" d="M435 158.5L427.6 162.4L418.6 159.2z"/>
<path fill="#800000" d="M369.4 161L360.4 157.8L352.9 161.7z"/>
<path fill="#800000" d="M460.4 161.1L451.5 157.9L444 161.8z"/>
<path fill="#800000" d="M348.5 179.6L350 186.6L341 372.6L339.5 365.6z"/>
<path fill="#00008f" d="M336.6 390.5L329.2 394.4L320.2 391.2z"/>
<path fill="#800000" d="M418.6 159.2L411.2 163L402.2 159.8z"/>
<path fill="#800000" d="M444 161.8L435 158.5L427.6 162.4z"/>
<path fill="#00008f" d="M320.2 391.2L312.7 395L303.8 391.8z"/>
<path fill="#800000" d="M402.2 159.8L394.7 163.6L385.8 160.4z"/>
<path fill="#00008f" d="M345.6 393.8L336.6 390.5L329.2 394.4z"/>
<path fill="#800000" d="M427.6 162.4L418.6 159.2L411.2 163z"/>
<path fill="#00008f" d="M303.8 391.8L296.3 395.6L287.3 392.4z"/>
<path fill="#00008f" d="M352.9 161.7L344 158.4L345.5 165.5z"/>
<path fill="#800000" d="M385.8 160.4L378.3 164.2L369.4 161z"/>
<path fill="#800000" d="M476.9 160.5L469.4 164.4L460.4 161.1z"/>
<path fill="#00008f" d="M329.2 394.4L320.2 391.2L312.7 395z"/>
<path fill="#800000" d="M411.2 163L402.2 159.8L394.7 163.6z"/>
<path fill="#800000" d="M369.4 161L361.9 164.9L352.9 161.7z"/>
<path fill="#800000" d="M460.4 161.1L453 165L444 161.8z"/>
<path fill="#00008f" d="M312.7 395L303.8 391.8L296.3 395.6z"/>
<path fill="#800000" d="M394.7 163.6L385.8 160.4L378.3 164.2z"/>
<path fill="#800000" d="M444 161.8L436.6 165.6L427.6 162.4z"/>
<path fill="#800000" d="M378.3 164.2L369.4 161L361.9 164.9z"/>
<path fill="#800000" d="M469.4 164.4L460.4 161.1L453 165z"/>
<path fill="#00008f" d="M345.6 393.8L338.1 397.6L329.2 394.4z"/>
<path fill="#800000" d="M427.6 162.4L420.1 166.2L411.2 163z"/>
<path fill="#800000" d="M361.9 164.9L352.9 161.7L345.5 165.5z"/>
<path fill="#800000" d="M453 165L444 161.8L436.6 165.6z"/>
<path fill="#00008f" d="M329.2 394.4L321.7 398.2L312.7 395z"/>
<path fill="#800000" d="M411.2 163L403.7 166.8L394.7 163.6z"/>
<path fill="#800000" d="M436.6 165.6L427.6 162.4L420.1 166.2z"/>
<path fill="#00008f" d="M312.7 395L305.3 398.8L296.3 395.6z"/>
<path fill="#800000" d="M394.7 163.6L387.3 167.5L378.3 164.2z"/>
<path fill="#00008f" d="M338.1 397.6L329.2 394.4L321.7 398.2z"/>
<path fill="#800000" d="M420.1 166.2L411.2 163L403.7 166.8z"/>
<path fill="#800000" d="M378.3 164.2L370.9 168.1L361.9 164.9z"/>
<path fill="#800000" d="M469.4 164.4L461.9 168.2L453 165z"/>
<path fill="#00008f" d="M321.7 398.2L312.7 395L305.3 398.8z"/>
<path fill="#00008f" d="M345.6 393.8L347.1 400.8L338.1 397.6z"/>
<path fill="#800000" d="M403.7 166.8L394.7 163.6L387.3 167.5z"/>
<path fill="#800000" d="M361.9 164.9L354.4 168.7L345.5 165.5z"/>
<path fill="#800000" d="M453 165L445.5 168.8L436.6 165.6z"/>
<path fill="#800000" d="M387.3 167.5L378.3 164.2L370.9 168.1z"/>
<path fill="#800000" d="M436.6 165.6L429.1 169.4L420.1 166.2z"/>
<path fill="#800000" d="M370.9 168.1L361.9 164.9L354.4 168.7z"/>
<path fill="#800000" d="M461.9 168.2L453 165L445.5 168.8z"/>
<path fill="#800000" d="M350 186.6L351.5 193.7L342.6 379.7L341 372.6z"/>
<path fill="#00008f" d="M338.1 397.6L330.7 401.4L321.7 398.2z"/>
<path fill="#800000" d="M420.1 166.2L412.7 170.1L403.7 166.8z"/>
<path fill="#800000" d="M445.5 168.8L436.6 165.6L429.1 169.4z"/>
<path fill="#00008f" d="M321.7 398.2L314.2 402L305.3 398.8z"/>
<path fill="#800000" d="M403.7 166.8L396.3 170.7L387.3 167.5z"/>
<path fill="#00008f" d="M347.1 400.8L338.1 397.6L330.7 401.4z"/>
<path fill="#800000" d="M429.1 169.4L420.1 166.2L412.7 170.1z"/>
<path fill="#00008f" d="M354.4 168.7L345.5 165.5L347 172.5z"/>
<path fill="#800000" d="M387.3 167.5L379.8 171.3L370.9 168.1z"/>
<path fill="#00008f" d="M330.7 401.4L321.7 398.2L314.2 402z"/>
<path fill="#800000" d="M412.7 170.1L403.7 166.8L396.3 170.7z"/>
<path fill="#800000" d="M370.9 168.1L363.4 171.9L354.4 168.7z"/>
<path fill="#800000" d="M461.9 168.2L454.5 172L445.5 168.8z"/>
<path fill="#800000" d="M396.3 170.7L387.3 167.5L379.8 171.3z"/>
<path fill="#800000" d="M445.5 168.8L438.1 172.6L429.1 169.4z"/>
<path fill="#800000" d="M379.8 171.3L370.9 168.1L363.4 171.9z"/>
<path fill="#00008f" d="M347.1 400.8L339.6 404.6L330.7 401.4z"/>
<path fill="#800000" d="M429.1 169.4L421.6 173.3L412.7 170.1z"/>
<path fill="#800000" d="M363.4 171.9L354.4 168.7L347 172.5z"/>
<path fill="#800000" d="M454.5 172L445.5 168.8L438.1 172.6z"/>
<path fill="#00008f" d="M330.7 401.4L323.2 405.3L314.2 402z"/>
<path fill="#800000" d="M412.7 170.1L405.2 173.9L396.3 170.7z"/>
<path fill="#800000" d="M438.1 172.6L429.1 169.4L421.6 173.3z"/>
<path fill="#800000" d="M396.3 170.7L388.8 174.5L379.8 171.3z"/>
<path fill="#00008f" d="M339.6 404.6L330.7 401.4L323.2 405.3z"/>
<path fill="#800000" d="M421.6 173.3L412.7 170.1L405.2 173.9z"/>
<path fill="#800000" d="M379.8 171.3L372.4 175.1L363.4 171.9z"/>
<path fill="#00008f" d="M347.1 400.8L348.6 407.9L339.6 404.6z"/>
<path fill="#800000" d="M405.2 173.9L396.3 170.7L388.8 174.5z"/>
<path fill="#800000" d="M363.4 171.9L356 175.8L347 172.5z"/>
<path fill="#800000" d="M454.5 172L447 175.9L438.1 172.6z"/>
<path fill="#800000" d="M388.8 174.5L379.8 171.3L372.4 175.1z"/>
<path fill="#800000" d="M438.1 172.6L430.6 176.5L421.6 173.3z"/>
<path fill="#800000" d="M372.4 175.1L363.4 171.9L356 175.8z"/>
<path fill="#800000" d="M351.5 193.7L353 200.7L344.1 386.7L342.6 379.7z"/>
<path fill="#00008f" d="M339.6 404.6L332.2 408.5L323.2 405.3z"/>
<path fill="#800000" d="M421.6 173.3L414.2 177.1L405.2 173.9z"/>
<path fill="#800000" d="M447 175.9L438.1 172.6L430.6 176.5z"/>
<path fill="#800000" d="M405.2 173.9L397.8 177.7L388.8 174.5z"/>
<path fill="#00008f" d="M348.6 407.9L339.6 404.6L332.2 408.5z"/>
<path fill="#800000" d="M430.6 176.5L421.6 173.3L414.2 177.1z"/>
<path fill="#00008f" d="M356 175.8L347 172.5L348.5 179.6z"/>
<path fill="#800000" d="M388.8 174.5L381.3 178.3L372.4 175.1z"/>
<path fill="#800000" d="M414.2 177.1L405.2 173.9L397.8 177.7z"/>
<path fill="#800000" d="M372.4 175.1L364.9 179L356 175.8z"/>
<path fill="#800000" d="M397.8 177.7L388.8 174.5L381.3 178.3z"/>
<path fill="#800000" d="M447 175.9L439.6 179.7L430.6 176.5z"/>
<path fill="#800000" d="M381.3 178.3L372.4 175.1L364.9 179z"/>
<path fill="#00008f" d="M348.6 407.9L341.1 411.7L332.2 408.5z"/>
<path fill="#800000" d="M430.6 176.5L423.2 180.3L414.2 177.1z"/>
<path fill="#800000" d="M364.9 179L356 175.8L348.5 179.6z"/>
<path fill="#800000" d="M414.2 177.1L406.7 180.9L397.8 177.7z"/>
<path fill="#800000" d="M439.6 179.7L430.6 176.5L423.2 180.3z"/>
<path fill="#800000" d="M397.8 177.7L390.3 181.6L381.3 178.3z"/>
<path fill="#800000" d="M423.2 180.3L414.2 177.1L406.7 180.9z"/>
<path fill="#800000" d="M381.3 178.3L373.9 182.2L364.9 179z"/>
<path fill="#00008f" d="M348.6 407.9L350.1 414.9L341.1 411.7z"/>
<path fill="#800000" d="M406.7 180.9L397.8 177.7L390.3 181.6z"/>
<path fill="#800000" d="M364.9 179L357.5 182.8L348.5 179.6z"/>
<path fill="#800000" d="M390.3 181.6L381.3 178.3L373.9 182.2z"/>
<path fill="#800000" d="M439.6 179.7L432.1 183.5L423.2 180.3z"/>
<path fill="#800000" d="M373.9 182.2L364.9 179L357.5 182.8z"/>
<path fill="#800000" d="M353 200.7L354.5 207.8L345.6 393.8L344.1 386.7z"/>
<path fill="#800000" d="M423.2 180.3L415.7 184.1L406.7 180.9z"/>
<path fill="#800000" d="M406.7 180.9L399.3 184.8L390.3 181.6z"/>
<path fill="#800000" d="M432.1 183.5L423.2 180.3L415.7 184.1z"/>
<path fill="#00008f" d="M357.5 182.8L348.5 179.6L350 186.6z"/>
<path fill="#800000" d="M390.3 181.6L382.9 185.4L373.9 182.2z"/>
<path fill="#800000" d="M415.7 184.1L406.7 180.9L399.3 184.8z"/>
<path fill="#800000" d="M373.9 182.2L366.4 186L357.5 182.8z"/>
<path fill="#800000" d="M399.3 184.8L390.3 181.6L382.9 185.4z"/>
<path fill="#800000" d="M382.9 185.4L373.9 182.2L366.4 186z"/>
<path fill="#800000" d="M432.1 183.5L424.7 187.4L415.7 184.1z"/>
<path fill="#800000" d="M366.4 186L357.5 182.8L350 186.6z"/>
<path fill="#800000" d="M415.7 184.1L408.2 188L399.3 184.8z"/>
<path fill="#800000" d="M399.3 184.8L391.8 188.6L382.9 185.4z"/>
<path fill="#800000" d="M424.7 187.4L415.7 184.1L408.2 188z"/>
<path fill="#800000" d="M382.9 185.4L375.4 189.2L366.4 186z"/>
<path fill="#800000" d="M408.2 188L399.3 184.8L391.8 188.6z"/>
<path fill="#800000" d="M366.4 186L359 189.8L350 186.6z"/>
<path fill="#800000" d="M391.8 188.6L382.9 185.4L375.4 189.2z"/>
<path fill="#800000" d="M375.4 189.2L366.4 186L359 189.8z"/>
<path fill="#800000" d="M354.5 207.8L356 214.8L347.1 400.8L345.6 393.8z"/>
<path fill="#800000" d="M424.7 187.4L417.2 191.2L408.2 188z"/>
<path fill="#800000" d="M408.2 188L400.8 191.8L391.8 188.6z"/>
<path fill="#00008f" d="M359 189.8L350 186.6L351.5 193.7z"/>
<path fill="#800000" d="M391.8 188.6L384.4 192.4L375.4 189.2z"/>
<path fill="#800000" d="M417.2 191.2L408.2 188L400.8 191.8z"/>
<path fill="#800000" d="M375.4 189.2L367.9 193.1L359 189.8z"/>
<path fill="#800000" d="M400.8 191.8L391.8 188.6L384.4 192.4z"/>
<path fill="#800000" d="M384.4 192.4L375.4 189.2L367.9 193.1z"/>
<path fill="#800000" d="M367.9 193.1L359 189.8L351.5 193.7z"/>
<path fill="#800000" d="M417.2 191.2L409.8 195L400.8 191.8z"/>
<path fill="#800000" d="M400.8 191.8L393.3 195.6L384.4 192.4z"/>
<path fill="#800000" d="M384.4 192.4L376.9 196.3L367.9 193.1z"/>
<path fill="#800000" d="M409.8 195L400.8 191.8L393.3 195.6z"/>
<path fill="#800000" d="M367.9 193.1L360.5 196.9L351.5 193.7z"/>
<path fill="#800000" d="M393.3 195.6L384.4 192.4L376.9 196.3z"/>
<path fill="#800000" d="M376.9 196.3L367.9 193.1L360.5 196.9z"/>
<path fill="#800000" d="M356 214.8L357.6 221.9L348.6 407.9L347.1 400.8z"/>
<path fill="#800000" d="M409.8 195L402.3 198.9L393.3 195.6z"/>
<path fill="#00008f" d="M360.5 196.9L351.5 193.7L353 200.7z"/>
<path fill="#800000" d="M393.3 195.6L385.9 199.5L376.9 196.3z"/>
<path fill="#800000" d="M376.9 196.3L369.5 200.1L360.5 196.9z"/>
<path fill="#800000" d="M402.3 198.9L393.3 195.6L385.9 199.5z"/>
<path fill="#800000" d="M385.9 199.5L376.9 196.3L369.5 200.1z"/>
<path fill="#800000" d="M369.5 200.1L360.5 196.9L353 200.7z"/>
<path fill="#800000" d="M402.3 198.9L394.8 202.7L385.9 199.5z"/>
<path fill="#800000" d="M385.9 199.5L378.4 203.3L369.5 200.1z"/>
<path fill="#800000" d="M369.5 200.1L362 203.9L353 200.7z"/>
<path fill="#800000" d="M394.8 202.7L385.9 199.5L378.4 203.3z"/>
<path fill="#800000" d="M378.4 203.3L369.5 200.1L362 203.9z"/>
<path fill="#00008f" d="M362 203.9L353 200.7L354.5 207.8z"/>
<path fill="#800000" d="M394.8 202.7L387.4 206.5L378.4 203.3z"/>
<path fill="#800000" d="M378.4 203.3L371 207.2L362 203.9z"/>
<path fill="#800000" d="M387.4 206.5L378.4 203.3L371 207.2z"/>
<path fill="#800000" d="M371 207.2L362 203.9L354.5 207.8z"/>
<path fill="#800000" d="M387.4 206.5L379.9 210.4L371 207.2z"/>
<path fill="#800000" d="M371 207.2L363.5 211L354.5 207.8z"/>
<path fill="#800000" d="M379.9 210.4L371 207.2L363.5 211z"/>
<path fill="#00008f" d="M363.5 211L354.5 207.8L356 214.8z"/>
<path fill="#800000" d="M379.9 210.4L372.5 214.2L363.5 211z"/>
<path fill="#800000" d="M372.5 214.2L363.5 211L356 214.8z"/>
<path fill="#800000" d="M372.5 214.2L365 218L356 214.8z"/>
<path fill="#00008f" d="M365 218L356 214.8L357.6 221.9z"/>
</g>
<path d="M310.8 3.4L357.6 221.9L351.6 225.9L309.8 11.4z" fill="#00005c" stroke="#000" stroke-width="1"/>
<path d="M310.4 7.4L355.6 223.1" stroke="#000" stroke-width="0.8"/>
<path d="M310 11.4L353.6 224.3" stroke="#000" stroke-width="0.8"/>
<path d="M365 218L350.1 414.9L341.1 411.7L357.6 221.9z" fill="#800000" stroke="#000" stroke-width="1.1" stroke-linejoin="round"/>
<path d="M63.2 312.1L63.2 122.9" stroke="#262626" stroke-width="1.2" fill="none"/>
<path d="M63.2 312.1L350.1 414.9" stroke="#262626" stroke-width="1.2" fill="none"/>
<path d="M350.1 414.9L588.7 292.2" stroke="#262626" stroke-width="1.2" fill="none"/>
<path d="M63.2 312.1L56 309.5" stroke="#262626" stroke-width="1.2" fill="none"/>
<path d="M63.2 274.3L56 271.7" stroke="#262626" stroke-width="1.2" fill="none"/>
<path d="M63.2 236.4L56 233.9" stroke="#262626" stroke-width="1.2" fill="none"/>
<path d="M63.2 198.6L56 196" stroke="#262626" stroke-width="1.2" fill="none"/>
<path d="M63.2 160.7L56 158.2" stroke="#262626" stroke-width="1.2" fill="none"/>
<path d="M63.2 122.9L56 120.3" stroke="#262626" stroke-width="1.2" fill="none"/>
<path d="M350.1 414.9L343.3 418.4" stroke="#262626" stroke-width="1.2" fill="none"/>
<path d="M206.7 363.5L199.9 367" stroke="#262626" stroke-width="1.2" fill="none"/>
<path d="M63.2 312.1L56.4 315.6" stroke="#262626" stroke-width="1.2" fill="none"/>
<path d="M588.7 292.2L595.9 294.8" stroke="#262626" stroke-width="1.2" fill="none"/>
<path d="M541 316.7L548.1 319.3" stroke="#262626" stroke-width="1.2" fill="none"/>
<path d="M493.3 341.3L500.4 343.8" stroke="#262626" stroke-width="1.2" fill="none"/>
<path d="M445.5 365.8L452.7 368.4" stroke="#262626" stroke-width="1.2" fill="none"/>
<path d="M397.8 390.4L405 392.9" stroke="#262626" stroke-width="1.2" fill="none"/>
<path d="M350.1 414.9L357.3 417.5" stroke="#262626" stroke-width="1.2" fill="none"/>
<g font-size="16" fill="#262626"><text x="49.2" y="314.8" text-anchor="end">1</text>
<text x="49.2" y="277" text-anchor="end">1.2</text>
<text x="49.2" y="239.1" text-anchor="end">1.4</text>
<text x="49.2" y="201.3" text-anchor="end">1.6</text>
<text x="49.2" y="163.4" text-anchor="end">1.8</text>
<text x="49.2" y="125.6" text-anchor="end">2</text>
<text x="336.1" y="437.4" text-anchor="end">0</text>
<text x="192.7" y="386" text-anchor="end">0.5</text>
<text x="49.2" y="334.6" text-anchor="end">1</text>
<text x="601.7" y="313.7">0</text>
<text x="554" y="338.2">0.2</text>
<text x="506.3" y="362.8">0.4</text>
<text x="458.5" y="387.3">0.6</text>
<text x="410.8" y="411.9">0.8</text>
<text x="363.1" y="436.4">1</text></g>
<path d="M753.3 289.4L995.8 169.6" stroke="#dedede" stroke-width="1" fill="none"/>
<path d="M995.8 169.6L1278.6 271.8" stroke="#dedede" stroke-width="1" fill="none"/>
<path d="M753.3 222.7L995.8 102.9" stroke="#dedede" stroke-width="1" fill="none"/>
<path d="M995.8 102.9L1278.6 205.1" stroke="#dedede" stroke-width="1" fill="none"/>
<path d="M753.3 155.9L995.8 36.1" stroke="#dedede" stroke-width="1" fill="none"/>
<path d="M995.8 36.1L1278.6 138.3" stroke="#dedede" stroke-width="1" fill="none"/>
<path d="M874.5 252.5L874.5 60.7" stroke="#dedede" stroke-width="1" fill="none"/>
<path d="M874.5 252.5L1157.3 354.7" stroke="#dedede" stroke-width="1" fill="none"/>
<path d="M1137.2 243.7L1137.2 51.9" stroke="#dedede" stroke-width="1" fill="none"/>
<path d="M1137.2 243.7L894.7 363.5" stroke="#dedede" stroke-width="1" fill="none"/>
<path d="M995.8 192.6L995.8 0.8" stroke="#dedede" stroke-width="1" fill="none"/>
<path d="M1278.6 294.8L1278.6 103" stroke="#dedede" stroke-width="1" fill="none"/>
<path d="M753.3 312.4L995.8 192.6" stroke="#dedede" stroke-width="1" fill="none"/>
<path d="M995.8 192.6L1278.6 294.8" stroke="#dedede" stroke-width="1" fill="none"/>
<g stroke="#000" stroke-width="1.0" stroke-linejoin="round">
<path fill="#0066ff" d="M981.9 176.1L973.1 165.1L965.5 187.8z"/>
<path fill="#0093ff" d="M980.6 138.7L981.9 176.1L973.1 165.1z"/>
<path fill="#0039ff" d="M981.9 176.1L974.3 187.8L965.5 187.8z"/>
<path fill="#0039ff" d="M974.3 187.8L965.5 187.8L957.9 188.2z"/>
<path fill="#0039ff" d="M981.9 176.1L983.2 193.9L974.3 187.8z"/>
<path fill="#0039ff" d="M974.3 187.8L966.7 194L957.9 188.2z"/>
<path fill="#00faff" d="M980.6 138.7L989.5 128.1L990.7 157.5L981.9 176.1z"/>
<path fill="#002bff" d="M966.7 194L957.9 188.2L950.3 204.4z"/>
<path fill="#002bff" d="M983.2 193.9L974.3 187.8L966.7 194z"/>
<path fill="#70ff8f" d="M988.2 88.8L989.5 128.1L980.6 138.7z"/>
<path fill="#0028ff" d="M983.2 193.9L975.6 198.9L966.7 194z"/>
<path fill="#002aff" d="M966.7 194L959.2 197.8L950.3 204.4z"/>
<path fill="#00f7ff" d="M981.9 176.1L990.7 157.5L992 169.8L983.2 193.9z"/>
<path fill="#0016ff" d="M959.2 197.8L950.3 204.4L942.8 201.9z"/>
<path fill="#ffbb00" d="M995.8 69.1L997.1 89.5L988.2 88.8z"/>
<path fill="#002aff" d="M975.6 198.9L966.7 194L959.2 197.8z"/>
<path fill="#0027ff" d="M983.2 193.9L984.4 201L975.6 198.9z"/>
<path fill="#ffff00" d="M988.2 88.8L997.1 89.5L998.3 117.1L989.5 128.1z"/>
<path fill="#ffcb00" d="M1004.6 61L995.8 69.1L997.1 89.5z"/>
<path fill="#0026ff" d="M975.6 198.9L968 201.8L959.2 197.8z"/>
<path fill="#002aff" d="M959.2 197.8L951.6 200.8L942.8 201.9z"/>
<path fill="#0026ff" d="M984.4 201L975.6 198.9L968 201.8z"/>
<path fill="#ffe200" d="M989.5 128.1L998.3 117.1L999.6 130.8L990.7 157.5z"/>
<path fill="#002aff" d="M968 201.8L959.2 197.8L951.6 200.8z"/>
<path fill="#0016ff" d="M951.6 200.8L942.8 201.9L935.2 207.6z"/>
<path fill="#00ffff" d="M983.2 193.9L992 169.8L993.3 176.5L984.4 201z"/>
<path fill="#0026ff" d="M984.4 201L976.8 205.2L968 201.8z"/>
<path fill="#ffb700" d="M1004.6 61L1005.9 66.5L997.1 89.5z"/>
<path fill="#73ff8c" d="M1005.9 66.5L997.1 89.5L998.3 117.1z"/>
<path fill="#0029ff" d="M968 201.8L960.4 205L951.6 200.8z"/>
<path fill="#002cff" d="M951.6 200.8L944 205L935.2 207.6z"/>
<path fill="#0026ff" d="M976.8 205.2L968 201.8L960.4 205z"/>
<path fill="#0027ff" d="M984.4 201L985.7 207.8L976.8 205.2z"/>
<path fill="#002cff" d="M960.4 205L951.6 200.8L944 205z"/>
<path fill="#002cff" d="M944 205L935.2 207.6L927.6 203.7z"/>
<path fill="#ffbb00" d="M990.7 157.5L999.6 130.8L1000.8 140.4L992 169.8z"/>
<path fill="#0024ff" d="M976.8 205.2L969.3 209.1L960.4 205z"/>
<path fill="#0024ff" d="M985.7 207.8L976.8 205.2L969.3 209.1z"/>
<path fill="#002cff" d="M960.4 205L952.8 206.6L944 205z"/>
<path fill="#0029ff" d="M969.3 209.1L960.4 205L952.8 206.6z"/>
<path fill="#0035ff" d="M944 205L936.4 207.2L927.6 203.7z"/>
<path fill="#14ffeb" d="M1007.2 73.1L998.3 117.1L999.6 130.8z"/>
<path fill="#86ff79" d="M1005.9 66.5L1007.2 73.1L998.3 117.1z"/>
<path fill="#ff5600" d="M1004.6 61L1013.5 40.9L1014.7 49.7L1005.9 66.5z"/>
<path fill="#0035ff" d="M952.8 206.6L944 205L936.4 207.2z"/>
<path fill="#01fffe" d="M984.4 201L993.3 176.5L994.5 183.8L985.7 207.8z"/>
<path fill="#0035ff" d="M936.4 207.2L927.6 203.7L920 209.6z"/>
<path fill="#0028ff" d="M985.7 207.8L978.1 209L969.3 209.1z"/>
<path fill="#002cff" d="M969.3 209.1L961.7 211.4L952.8 206.6z"/>
<path fill="#0035ff" d="M952.8 206.6L945.3 213.9L936.4 207.2z"/>
<path fill="#002cff" d="M978.1 209L969.3 209.1L961.7 211.4z"/>
<path fill="#002cff" d="M961.7 211.4L952.8 206.6L945.3 213.9z"/>
<path fill="#0028ff" d="M985.7 207.8L986.9 215.7L978.1 209z"/>
<path fill="#0035ff" d="M936.4 207.2L928.9 210.2L920 209.6z"/>
<path fill="#ffb400" d="M992 169.8L1000.8 140.4L1002.1 146.1L993.3 176.5z"/>
<path fill="#0035ff" d="M945.3 213.9L936.4 207.2L928.9 210.2z"/>
<path fill="#002aff" d="M928.9 210.2L920 209.6L912.4 218.1z"/>
<path fill="#ff8400" d="M1022.3 41.3L1013.5 40.9L1014.7 49.7z"/>
<path fill="#002cff" d="M978.1 209L970.5 215.2L961.7 211.4z"/>
<path fill="#0021ff" d="M961.7 211.4L954.1 217L945.3 213.9z"/>
<path fill="#0028ff" d="M986.9 215.7L978.1 209L970.5 215.2z"/>
<path fill="#03fffc" d="M1008.4 80.3L999.6 130.8L1000.8 140.4z"/>
<path fill="#0026ff" d="M945.3 213.9L937.7 216.7L928.9 210.2z"/>
<path fill="#c60000" d="M1031.1 50.9L1022.3 41.3L1014.7 49.7z"/>
<path fill="#0028ff" d="M970.5 215.2L961.7 211.4L954.1 217z"/>
<path fill="#1bffe4" d="M1007.2 73.1L1008.4 80.3L999.6 130.8z"/>
<path fill="#002dff" d="M928.9 210.2L921.3 216.1L912.4 218.1z"/>
<path fill="#0021ff" d="M954.1 217L945.3 213.9L937.7 216.7z"/>
<path fill="#ff8700" d="M1005.9 66.5L1014.7 49.7L1016 57.8L1007.2 73.1z"/>
<path fill="#01fffe" d="M985.7 207.8L994.5 183.8L995.8 191.3L986.9 215.7z"/>
<path fill="#001cff" d="M921.3 216.1L912.4 218.1L904.9 219.6z"/>
<path fill="#002dff" d="M937.7 216.7L928.9 210.2L921.3 216.1z"/>
<path fill="#0028ff" d="M986.9 215.7L979.4 216.9L970.5 215.2z"/>
<path fill="#c80000" d="M1031.1 50.9L1023.6 53.3L1014.7 49.7z"/>
<path fill="#0021ff" d="M970.5 215.2L962.9 220.5L954.1 217z"/>
<path fill="#0021ff" d="M954.1 217L946.5 222.1L937.7 216.7z"/>
<path fill="#c80000" d="M1040 50.6L1031.1 50.9L1023.6 53.3z"/>
<path fill="#0028ff" d="M979.4 216.9L970.5 215.2L962.9 220.5z"/>
<path fill="#001fff" d="M962.9 220.5L954.1 217L946.5 222.1z"/>
<path fill="#002dff" d="M937.7 216.7L930.1 218.6L921.3 216.1z"/>
<path fill="#001cff" d="M921.3 216.1L913.7 223.9L904.9 219.6z"/>
<path fill="#0025ff" d="M986.9 215.7L988.2 222.2L979.4 216.9z"/>
<path fill="#ffb300" d="M993.3 176.5L1002.1 146.1L1003.4 153.8L994.5 183.8z"/>
<path fill="#0026ff" d="M946.5 222.1L937.7 216.7L930.1 218.6z"/>
<path fill="#ffa400" d="M1023.6 53.3L1014.7 49.7L1016 57.8z"/>
<path fill="#002dff" d="M930.1 218.6L921.3 216.1L913.7 223.9z"/>
<path fill="#c80000" d="M1040 50.6L1032.4 59.6L1023.6 53.3z"/>
<path fill="#da0000" d="M1048.8 65.9L1040 50.6L1032.4 59.6z"/>
<path fill="#001cff" d="M913.7 223.9L904.9 219.6L897.3 217.7z"/>
<path fill="#0027ff" d="M979.4 216.9L971.8 222.3L962.9 220.5z"/>
<path fill="#0019ff" d="M962.9 220.5L955.4 225.5L946.5 222.1z"/>
<path fill="#cd0000" d="M1032.4 59.6L1023.6 53.3L1016 57.8z"/>
<path fill="#0027ff" d="M988.2 222.2L979.4 216.9L971.8 222.3z"/>
<path fill="#0019ff" d="M946.5 222.1L939 225.9L930.1 218.6z"/>
<path fill="#01fffe" d="M1009.7 87.2L1000.8 140.4L1002.1 146.1z"/>
<path fill="#001fff" d="M971.8 222.3L962.9 220.5L955.4 225.5z"/>
<path fill="#0015ff" d="M930.1 218.6L922.5 228.7L913.7 223.9z"/>
<path fill="#0019ff" d="M955.4 225.5L946.5 222.1L939 225.9z"/>
<path fill="#03fffc" d="M1008.4 80.3L1009.7 87.2L1000.8 140.4z"/>
<path fill="#da0000" d="M1048.8 65.9L1041.2 59.7L1032.4 59.6z"/>
<path fill="#0019ff" d="M939 225.9L930.1 218.6L922.5 228.7z"/>
<path fill="#ff9900" d="M1007.2 73.1L1016 57.8L1017.3 62.5L1008.4 80.3z"/>
<path fill="#e50000" d="M1057.7 64.2L1048.8 65.9L1041.2 59.7z"/>
<path fill="#003bff" d="M913.7 223.9L906.1 221.1L897.3 217.7z"/>
<path fill="#01fffe" d="M986.9 215.7L995.8 191.3L997 197.1L988.2 222.2z"/>
<path fill="#0015ff" d="M922.5 228.7L913.7 223.9L906.1 221.1z"/>
<path fill="#0026ff" d="M988.2 222.2L980.6 225.6L971.8 222.3z"/>
<path fill="#cd0000" d="M1032.4 59.6L1024.8 59.7L1016 57.8z"/>
<path fill="#0027ff" d="M971.8 222.3L964.2 225.4L955.4 225.5z"/>
<path fill="#c80000" d="M1041.2 59.7L1032.4 59.6L1024.8 59.7z"/>
<path fill="#0019ff" d="M955.4 225.5L947.8 224.1L939 225.9z"/>
<path fill="#003bff" d="M906.1 221.1L897.3 217.7L889.7 225.6z"/>
<path fill="#0019ff" d="M939 225.9L931.4 227.5L922.5 228.7z"/>
<path fill="#0027ff" d="M980.6 225.6L971.8 222.3L964.2 225.4z"/>
<path fill="#0025ff" d="M988.2 222.2L989.5 229.1L980.6 225.6z"/>
<path fill="#002bff" d="M964.2 225.4L955.4 225.5L947.8 224.1z"/>
<path fill="#e20000" d="M1057.7 64.2L1050.1 67.3L1041.2 59.7z"/>
<path fill="#0023ff" d="M922.5 228.7L915 228.5L906.1 221.1z"/>
<path fill="#ffb300" d="M994.5 183.8L1003.4 153.8L1004.6 160.3L995.8 191.3z"/>
<path fill="#0025ff" d="M947.8 224.1L939 225.9L931.4 227.5z"/>
<path fill="#0023ff" d="M931.4 227.5L922.5 228.7L915 228.5z"/>
<path fill="#ffab00" d="M1024.8 59.7L1016 57.8L1017.3 62.5z"/>
<path fill="#e20000" d="M1066.5 63.4L1057.7 64.2L1050.1 67.3z"/>
<path fill="#c70000" d="M1041.2 59.7L1033.7 63.3L1024.8 59.7z"/>
<path fill="#003bff" d="M906.1 221.1L898.5 224L889.7 225.6z"/>
<path fill="#002bff" d="M980.6 225.6L973 228.5L964.2 225.4z"/>
<path fill="#c80000" d="M1050.1 67.3L1041.2 59.7L1033.7 63.3z"/>
<path fill="#003bff" d="M915 228.5L906.1 221.1L898.5 224z"/>
<path fill="#002bff" d="M964.2 225.4L956.6 230.2L947.8 224.1z"/>
<path fill="#0026ff" d="M989.5 229.1L980.6 225.6L973 228.5z"/>
<path fill="#002fff" d="M898.5 224L889.7 225.6L882.1 227.5z"/>
<path fill="#01fffe" d="M1010.9 93.3L1002.1 146.1L1003.4 153.8z"/>
<path fill="#0025ff" d="M947.8 224.1L940.2 232.7L931.4 227.5z"/>
<path fill="#c50000" d="M1033.7 63.3L1024.8 59.7L1017.3 62.5z"/>
<path fill="#e20000" d="M1066.5 63.4L1058.9 72.4L1050.1 67.3z"/>
<path fill="#002bff" d="M973 228.5L964.2 225.4L956.6 230.2z"/>
<path fill="#01fffe" d="M1009.7 87.2L1010.9 93.3L1002.1 146.1z"/>
<path fill="#0025ff" d="M931.4 227.5L923.8 230.3L915 228.5z"/>
<path fill="#0025ff" d="M956.6 230.2L947.8 224.1L940.2 232.7z"/>
<path fill="#0023ff" d="M915 228.5L907.4 235L898.5 224z"/>
<path fill="#cf0000" d="M1075.3 66.7L1066.5 63.4L1058.9 72.4z"/>
<path fill="#ff9c00" d="M1008.4 80.3L1017.3 62.5L1018.5 69.7L1009.7 87.2z"/>
<path fill="#ca0000" d="M1050.1 67.3L1042.5 66.9L1033.7 63.3z"/>
<path fill="#0025ff" d="M940.2 232.7L931.4 227.5L923.8 230.3z"/>
<path fill="#01fffe" d="M988.2 222.2L997 197.1L998.3 204.9L989.5 229.1z"/>
<path fill="#e20000" d="M1058.9 72.4L1050.1 67.3L1042.5 66.9z"/>
<path fill="#0023ff" d="M923.8 230.3L915 228.5L907.4 235z"/>
<path fill="#0025ff" d="M989.5 229.1L981.9 233.5L973 228.5z"/>
<path fill="#002fff" d="M898.5 224L891 233.1L882.1 227.5z"/>
<path fill="#0025ff" d="M973 228.5L965.5 234.7L956.6 230.2z"/>
<path fill="#c00000" d="M1033.7 63.3L1026.1 65.4L1017.3 62.5z"/>
<path fill="#0021ff" d="M907.4 235L898.5 224L891 233.1z"/>
<path fill="#0021ff" d="M891 233.1L882.1 227.5L874.5 237.4z"/>
<path fill="#0025ff" d="M956.6 230.2L949 232.8L940.2 232.7z"/>
<path fill="#ec0000" d="M1075.3 66.7L1067.8 76.3L1058.9 72.4z"/>
<path fill="#c70000" d="M1042.5 66.9L1033.7 63.3L1026.1 65.4z"/>
<path fill="#0021ff" d="M981.9 233.5L973 228.5L965.5 234.7z"/>
<path fill="#f10000" d="M1084.2 80.7L1075.3 66.7L1067.8 76.3z"/>
<path fill="#002bff" d="M940.2 232.7L932.6 233.1L923.8 230.3z"/>
<path fill="#0025ff" d="M965.5 234.7L956.6 230.2L949 232.8z"/>
<path fill="#0025ff" d="M989.5 229.1L990.7 235.7L981.9 233.5z"/>
<path fill="#d90000" d="M1058.9 72.4L1051.3 72.7L1042.5 66.9z"/>
<path fill="#0025ff" d="M923.8 230.3L916.2 235L907.4 235z"/>
<path fill="#0013ff" d="M907.4 235L899.8 238.7L891 233.1z"/>
<path fill="#ec0000" d="M1067.8 76.3L1058.9 72.4L1051.3 72.7z"/>
<path fill="#ffb300" d="M995.8 191.3L1004.6 160.3L1005.9 167.6L997 197.1z"/>
<path fill="#002cff" d="M949 232.8L940.2 232.7L932.6 233.1z"/>
<path fill="#0020ff" d="M891 233.1L883.4 236.9L874.5 237.4z"/>
<path fill="#ffac00" d="M1026.1 65.4L1017.3 62.5L1018.5 69.7z"/>
<path fill="#0013ff" d="M916.2 235L907.4 235L899.8 238.7z"/>
<path fill="#ca0000" d="M1042.5 66.9L1034.9 73L1026.1 65.4z"/>
<path fill="#002bff" d="M932.6 233.1L923.8 230.3L916.2 235z"/>
<path fill="#0021ff" d="M981.9 233.5L974.3 235.4L965.5 234.7z"/>
<path fill="#d80000" d="M1051.3 72.7L1042.5 66.9L1034.9 73z"/>
<path fill="#f10000" d="M1084.2 80.7L1076.6 73.5L1067.8 76.3z"/>
<path fill="#0020ff" d="M899.8 238.7L891 233.1L883.4 236.9z"/>
<path fill="#000bff" d="M883.4 236.9L874.5 237.4L867 241.1z"/>
<path fill="#002aff" d="M965.5 234.7L957.9 236.2L949 232.8z"/>
<path fill="#ff0e00" d="M1093 84.2L1084.2 80.7L1076.6 73.5z"/>
<path fill="#0027ff" d="M990.7 235.7L981.9 233.5L974.3 235.4z"/>
<path fill="#01fffe" d="M1012.2 100.8L1003.4 153.8L1004.6 160.3z"/>
<path fill="#c10000" d="M1034.9 73L1026.1 65.4L1018.5 69.7z"/>
<path fill="#e20000" d="M1067.8 76.3L1060.2 77.5L1051.3 72.7z"/>
<path fill="#002aff" d="M974.3 235.4L965.5 234.7L957.9 236.2z"/>
<path fill="#002dff" d="M949 232.8L941.5 235.8L932.6 233.1z"/>
<path fill="#0025ff" d="M932.6 233.1L925.1 241.5L916.2 235z"/>
<path fill="#01fffe" d="M1010.9 93.3L1012.2 100.8L1003.4 153.8z"/>
<path fill="#0024ff" d="M916.2 235L908.6 238.9L899.8 238.7z"/>
<path fill="#e20000" d="M1076.6 73.5L1067.8 76.3L1060.2 77.5z"/>
<path fill="#002cff" d="M957.9 236.2L949 232.8L941.5 235.8z"/>
<path fill="#d80000" d="M1051.3 72.7L1043.8 75L1034.9 73z"/>
<path fill="#ff9c00" d="M1009.7 87.2L1018.5 69.7L1019.8 75.8L1010.9 93.3z"/>
<path fill="#002dff" d="M941.5 235.8L932.6 233.1L925.1 241.5z"/>
<path fill="#01fffe" d="M989.5 229.1L998.3 204.9L999.6 212L990.7 235.7z"/>
<path fill="#000cff" d="M883.4 236.9L875.8 244.2L867 241.1z"/>
<path fill="#0020ff" d="M899.8 238.7L892.2 235.9L883.4 236.9z"/>
<path fill="#0024ff" d="M925.1 241.5L916.2 235L908.6 238.9z"/>
<path fill="#0027ff" d="M990.7 235.7L983.1 242.2L974.3 235.4z"/>
<path fill="#d90000" d="M1060.2 77.5L1051.3 72.7L1043.8 75z"/>
<path fill="#ef0000" d="M1093 84.2L1085.4 82.4L1076.6 73.5z"/>
<path fill="#c10000" d="M1034.9 73L1027.3 72.2L1018.5 69.7z"/>
<path fill="#ff0100" d="M1101.8 84.9L1093 84.2L1085.4 82.4z"/>
<path fill="#0024ff" d="M908.6 238.9L899.8 238.7L892.2 235.9z"/>
<path fill="#002aff" d="M974.3 235.4L966.7 240L957.9 236.2z"/>
<path fill="#d00000" d="M1043.8 75L1034.9 73L1027.3 72.2z"/>
<path fill="#0020ff" d="M892.2 235.9L883.4 236.9L875.8 244.2z"/>
<path fill="#0027ff" d="M983.1 242.2L974.3 235.4L966.7 240z"/>
<path fill="#000cff" d="M875.8 244.2L867 241.1L859.4 238.7z"/>
<path fill="#e20000" d="M1076.6 73.5L1069 80.8L1060.2 77.5z"/>
<path fill="#0030ff" d="M957.9 236.2L950.3 238.4L941.5 235.8z"/>
<path fill="#0030ff" d="M941.5 235.8L933.9 239.4L925.1 241.5z"/>
<path fill="#0023ff" d="M990.7 235.7L992 243.2L983.1 242.2z"/>
<path fill="#0024ff" d="M925.1 241.5L917.5 242L908.6 238.9z"/>
<path fill="#e00000" d="M1060.2 77.5L1052.6 80.9L1043.8 75z"/>
<path fill="#e30000" d="M1085.4 82.4L1076.6 73.5L1069 80.8z"/>
<path fill="#002aff" d="M966.7 240L957.9 236.2L950.3 238.4z"/>
<path fill="#ffb300" d="M997 197.1L1005.9 167.6L1007.1 174.1L998.3 204.9z"/>
<path fill="#e20000" d="M1069 80.8L1060.2 77.5L1052.6 80.9z"/>
<path fill="#0030ff" d="M950.3 238.4L941.5 235.8L933.9 239.4z"/>
<path fill="#0025ff" d="M933.9 239.4L925.1 241.5L917.5 242z"/>
<path fill="#ffac00" d="M1027.3 72.2L1018.5 69.7L1019.8 75.8z"/>
<path fill="#0025ff" d="M908.6 238.9L901.1 242.5L892.2 235.9z"/>
<path fill="#cd0000" d="M1043.8 75L1036.2 78.1L1027.3 72.2z"/>
<path fill="#ef0000" d="M1101.8 84.9L1094.3 80.6L1085.4 82.4z"/>
<path fill="#0027ff" d="M892.2 235.9L884.6 242.6L875.8 244.2z"/>
<path fill="#0027ff" d="M983.1 242.2L975.6 242.1L966.7 240z"/>
<path fill="#0025ff" d="M917.5 242L908.6 238.9L901.1 242.5z"/>
<path fill="#d00000" d="M1052.6 80.9L1043.8 75L1036.2 78.1z"/>
<path fill="#002fff" d="M875.8 244.2L868.2 241.9L859.4 238.7z"/>
<path fill="#0027ff" d="M966.7 240L959.1 245.7L950.3 238.4z"/>
<path fill="#0023ff" d="M992 243.2L983.1 242.2L975.6 242.1z"/>
<path fill="#df0000" d="M1110.7 82.3L1101.8 84.9L1094.3 80.6z"/>
<path fill="#e30000" d="M1085.4 82.4L1077.9 79.9L1069 80.8z"/>
<path fill="#0027ff" d="M901.1 242.5L892.2 235.9L884.6 242.6z"/>
<path fill="#0027ff" d="M884.6 242.6L875.8 244.2L868.2 241.9z"/>
<path fill="#01fffe" d="M1013.5 107.6L1004.6 160.3L1005.9 167.6z"/>
<path fill="#e00000" d="M1069 80.8L1061.4 83.4L1052.6 80.9z"/>
<path fill="#0030ff" d="M950.3 238.4L942.7 245.7L933.9 239.4z"/>
<path fill="#0027ff" d="M975.6 242.1L966.7 240L959.1 245.7z"/>
<path fill="#bd0000" d="M1036.2 78.1L1027.3 72.2L1019.8 75.8z"/>
<path fill="#01fffe" d="M1012.2 100.8L1013.5 107.6L1004.6 160.3z"/>
<path fill="#d20000" d="M1094.3 80.6L1085.4 82.4L1077.9 79.9z"/>
<path fill="#0025ff" d="M933.9 239.4L926.3 245.5L917.5 242z"/>
<path fill="#001fff" d="M959.1 245.7L950.3 238.4L942.7 245.7z"/>
<path fill="#cd0000" d="M1052.6 80.9L1045 81.3L1036.2 78.1z"/>
<path fill="#0025ff" d="M917.5 242L909.9 244.7L901.1 242.5z"/>
<path fill="#dc0000" d="M1077.9 79.9L1069 80.8L1061.4 83.4z"/>
<path fill="#ff9c00" d="M1010.9 93.3L1019.8 75.8L1021 84.5L1012.2 100.8z"/>
<path fill="#0023ff" d="M942.7 245.7L933.9 239.4L926.3 245.5z"/>
<path fill="#01fffe" d="M990.7 235.7L999.6 212L1000.8 218.1L992 243.2z"/>
<path fill="#dc0000" d="M1061.4 83.4L1052.6 80.9L1045 81.3z"/>
<path fill="#0027ff" d="M901.1 242.5L893.5 244.2L884.6 242.6z"/>
<path fill="#002aff" d="M992 243.2L984.4 245.8L975.6 242.1z"/>
<path fill="#0025ff" d="M926.3 245.5L917.5 242L909.9 244.7z"/>
<path fill="#df0000" d="M1110.7 82.3L1103.1 88L1094.3 80.6z"/>
<path fill="#002fff" d="M868.2 241.9L859.4 238.7L851.8 224.7z"/>
<path fill="#c60000" d="M1036.2 78.1L1028.6 80.7L1019.8 75.8z"/>
<path fill="#0029ff" d="M975.6 242.1L968 246.6L959.1 245.7z"/>
<path fill="#002fff" d="M884.6 242.6L877.1 244.2L868.2 241.9z"/>
<path fill="#002bff" d="M909.9 244.7L901.1 242.5L893.5 244.2z"/>
<path fill="#df0000" d="M1119.5 83L1110.7 82.3L1103.1 88z"/>
<path fill="#cd0000" d="M1045 81.3L1036.2 78.1L1028.6 80.7z"/>
<path fill="#001fff" d="M959.1 245.7L951.6 245.9L942.7 245.7z"/>
<path fill="#d20000" d="M1094.3 80.6L1086.7 86.6L1077.9 79.9z"/>
<path fill="#0020ff" d="M942.7 245.7L935.2 249.3L926.3 245.5z"/>
<path fill="#002aff" d="M984.4 245.8L975.6 242.1L968 246.6z"/>
<path fill="#df0000" d="M1103.1 88L1094.3 80.6L1086.7 86.6z"/>
<path fill="#0031ff" d="M893.5 244.2L884.6 242.6L877.1 244.2z"/>
<path fill="#dc0000" d="M1077.9 79.9L1070.3 86.8L1061.4 83.4z"/>
<path fill="#0029ff" d="M968 246.6L959.1 245.7L951.6 245.9z"/>
<path fill="#0025ff" d="M992 243.2L993.2 250L984.4 245.8z"/>
<path fill="#d50000" d="M1061.4 83.4L1053.9 85.9L1045 81.3z"/>
<path fill="#0023ff" d="M926.3 245.5L918.7 249.3L909.9 244.7z"/>
<path fill="#dd0000" d="M1086.7 86.6L1077.9 79.9L1070.3 86.8z"/>
<path fill="#ffb300" d="M998.3 204.9L1007.1 174.1L1008.4 181L999.6 212z"/>
<path fill="#0020ff" d="M951.6 245.9L942.7 245.7L935.2 249.3z"/>
<path fill="#0034ff" d="M877.1 244.2L868.2 241.9L860.7 236.6z"/>
<path fill="#ffac00" d="M1028.6 80.7L1019.8 75.8L1021 84.5z"/>
<path fill="#dc0000" d="M1070.3 86.8L1061.4 83.4L1053.9 85.9z"/>
<path fill="#0023ff" d="M935.2 249.3L926.3 245.5L918.7 249.3z"/>
<path fill="#ea0000" d="M1119.5 83L1111.9 91.7L1103.1 88z"/>
<path fill="#002bff" d="M909.9 244.7L902.3 248.9L893.5 244.2z"/>
<path fill="#0063ff" d="M868.2 241.9L860.7 236.6L851.8 224.7z"/>
<path fill="#c60000" d="M1045 81.3L1037.4 83.9L1028.6 80.7z"/>
<path fill="#002aff" d="M984.4 245.8L976.8 249.4L968 246.6z"/>
<path fill="#0028ff" d="M918.7 249.3L909.9 244.7L902.3 248.9z"/>
<path fill="#0031ff" d="M893.5 244.2L885.9 249.1L877.1 244.2z"/>
<path fill="#df0000" d="M1103.1 88L1095.5 86.9L1086.7 86.6z"/>
<path fill="#cd0000" d="M1053.9 85.9L1045 81.3L1037.4 83.9z"/>
<path fill="#df0000" d="M1128.4 88.7L1119.5 83L1111.9 91.7z"/>
<path fill="#002aff" d="M968 246.6L960.4 250.1L951.6 245.9z"/>
<path fill="#ea0000" d="M1111.9 91.7L1103.1 88L1095.5 86.9z"/>
<path fill="#002aff" d="M902.3 248.9L893.5 244.2L885.9 249.1z"/>
<path fill="#002aff" d="M993.2 250L984.4 245.8L976.8 249.4z"/>
<path fill="#dd0000" d="M1086.7 86.6L1079.1 87.9L1070.3 86.8z"/>
<path fill="#01fffe" d="M1014.7 114.8L1005.9 167.6L1007.1 174.1z"/>
<path fill="#c60000" d="M1037.4 83.9L1028.6 80.7L1021 84.5z"/>
<path fill="#002fff" d="M951.6 245.9L944 249.8L935.2 249.3z"/>
<path fill="#0020ff" d="M935.2 249.3L927.6 254.4L918.7 249.3z"/>
<path fill="#dc0000" d="M1070.3 86.8L1062.7 90.3L1053.9 85.9z"/>
<path fill="#002aff" d="M976.8 249.4L968 246.6L960.4 250.1z"/>
<path fill="#01fffe" d="M1013.5 107.6L1014.7 114.8L1005.9 167.6z"/>
<path fill="#d10000" d="M1095.5 86.9L1086.7 86.6L1079.1 87.9z"/>
<path fill="#002fff" d="M960.4 250.1L951.6 245.9L944 249.8z"/>
<path fill="#0063ff" d="M877.1 244.2L869.5 237.5L860.7 236.6z"/>
<path fill="#0028ff" d="M918.7 249.3L911.2 252L902.3 248.9z"/>
<path fill="#ff9c00" d="M1012.2 100.8L1021 84.5L1022.3 90.9L1013.5 107.6z"/>
<path fill="#dc0000" d="M1079.1 87.9L1070.3 86.8L1062.7 90.3z"/>
<path fill="#0034ff" d="M885.9 249.1L877.1 244.2L869.5 237.5z"/>
<path fill="#0020ff" d="M944 249.8L935.2 249.3L927.6 254.4z"/>
<path fill="#d50000" d="M1053.9 85.9L1046.3 90L1037.4 83.9z"/>
<path fill="#df0000" d="M1128.4 88.7L1120.8 90.3L1111.9 91.7z"/>
<path fill="#01fffe" d="M992 243.2L1000.8 218.1L1002.1 225.3L993.2 250z"/>
<path fill="#0023ff" d="M927.6 254.4L918.7 249.3L911.2 252z"/>
<path fill="#0028ff" d="M902.3 248.9L894.7 253.2L885.9 249.1z"/>
<path fill="#d70000" d="M1062.7 90.3L1053.9 85.9L1046.3 90z"/>
<path fill="#0026ff" d="M993.2 250L985.7 253.4L976.8 249.4z"/>
<path fill="#cf0000" d="M1111.9 91.7L1104.4 89.6L1095.5 86.9z"/>
<path fill="#c60000" d="M1037.4 83.9L1029.9 86.6L1021 84.5z"/>
<path fill="#d90000" d="M1137.2 90.8L1128.4 88.7L1120.8 90.3z"/>
<path fill="#002aff" d="M976.8 249.4L969.2 253.8L960.4 250.1z"/>
<path fill="#0028ff" d="M911.2 252L902.3 248.9L894.7 253.2z"/>
<path fill="#c60000" d="M1046.3 90L1037.4 83.9L1029.9 86.6z"/>
<path fill="#d10000" d="M1095.5 86.9L1088 92.9L1079.1 87.9z"/>
<path fill="#d30000" d="M1120.8 90.3L1111.9 91.7L1104.4 89.6z"/>
<path fill="#002aff" d="M960.4 250.1L952.8 254.9L944 249.8z"/>
<path fill="#0027ff" d="M985.7 253.4L976.8 249.4L969.2 253.8z"/>
<path fill="#d40000" d="M1079.1 87.9L1071.5 92.1L1062.7 90.3z"/>
<path fill="#002fff" d="M944 249.8L936.4 253.2L927.6 254.4z"/>
<path fill="#0026ff" d="M993.2 250L994.5 256.4L985.7 253.4z"/>
<path fill="#0027ff" d="M969.2 253.8L960.4 250.1L952.8 254.9z"/>
<path fill="#cf0000" d="M1104.4 89.6L1095.5 86.9L1088 92.9z"/>
<path fill="#dc0000" d="M1062.7 90.3L1055.1 94.1L1046.3 90z"/>
<path fill="#0027ff" d="M927.6 254.4L920 255.4L911.2 252z"/>
<path fill="#002aff" d="M894.7 253.2L885.9 249.1L878.3 240.5z"/>
<path fill="#0070ff" d="M885.9 249.1L878.3 240.5L869.5 237.5z"/>
<path fill="#d40000" d="M1088 92.9L1079.1 87.9L1071.5 92.1z"/>
<path fill="#ffb300" d="M999.6 212L1008.4 181L1009.7 187.8L1000.8 218.1z"/>
<path fill="#d90000" d="M1137.2 90.8L1129.6 97.6L1120.8 90.3z"/>
<path fill="#002fff" d="M952.8 254.9L944 249.8L936.4 253.2z"/>
<path fill="#ffac00" d="M1029.9 86.6L1021 84.5L1022.3 90.9z"/>
<path fill="#0027ff" d="M911.2 252L903.6 256L894.7 253.2z"/>
<path fill="#dc0000" d="M1071.5 92.1L1062.7 90.3L1055.1 94.1z"/>
<path fill="#0027ff" d="M936.4 253.2L927.6 254.4L920 255.4z"/>
<path fill="#cf0000" d="M1046.3 90L1038.7 92.4L1029.9 86.6z"/>
<path fill="#0026ff" d="M985.7 253.4L978.1 258.3L969.2 253.8z"/>
<path fill="#d70000" d="M1055.1 94.1L1046.3 90L1038.7 92.4z"/>
<path fill="#d30000" d="M1120.8 90.3L1113.2 95.1L1104.4 89.6z"/>
<path fill="#d90000" d="M1146 90.1L1137.2 90.8L1129.6 97.6z"/>
<path fill="#0027ff" d="M920 255.4L911.2 252L903.6 256z"/>
<path fill="#d90000" d="M1129.6 97.6L1120.8 90.3L1113.2 95.1z"/>
<path fill="#0027ff" d="M969.2 253.8L961.7 257.1L952.8 254.9z"/>
<path fill="#cf0000" d="M1104.4 89.6L1096.8 93.9L1088 92.9z"/>
<path fill="#0026ff" d="M994.5 256.4L985.7 253.4L978.1 258.3z"/>
<path fill="#d60000" d="M1088 92.9L1080.4 95.7L1071.5 92.1z"/>
<path fill="#01fffe" d="M1016 121.6L1007.1 174.1L1008.4 181z"/>
<path fill="#0024ff" d="M952.8 254.9L945.2 260.1L936.4 253.2z"/>
<path fill="#c30000" d="M1038.7 92.4L1029.9 86.6L1022.3 90.9z"/>
<path fill="#0027ff" d="M978.1 258.3L969.2 253.8L961.7 257.1z"/>
<path fill="#0027ff" d="M903.6 256L894.7 253.2L887.2 247z"/>
<path fill="#005eff" d="M894.7 253.2L887.2 247L878.3 240.5z"/>
<path fill="#cf0000" d="M1113.2 95.1L1104.4 89.6L1096.8 93.9z"/>
<path fill="#01fffe" d="M1014.7 114.8L1016 121.6L1007.1 174.1z"/>
<path fill="#d60000" d="M1071.5 92.1L1064 96.1L1055.1 94.1z"/>
<path fill="#0024ff" d="M961.7 257.1L952.8 254.9L945.2 260.1z"/>
<path fill="#0027ff" d="M936.4 253.2L928.8 258.9L920 255.4z"/>
<path fill="#d60000" d="M1096.8 93.9L1088 92.9L1080.4 95.7z"/>
<path fill="#d90000" d="M1146 90.1L1138.5 97.7L1129.6 97.6z"/>
<path fill="#cf0000" d="M1055.1 94.1L1047.5 95.3L1038.7 92.4z"/>
<path fill="#0027ff" d="M920 255.4L912.4 258.3L903.6 256z"/>
<path fill="#ff9c00" d="M1013.5 107.6L1022.3 90.9L1023.5 96.8L1014.7 114.8z"/>
<path fill="#0095ff" d="M860.7 236.6L851.8 224.7L844.2 131.1z"/>
<path fill="#d60000" d="M1080.4 95.7L1071.5 92.1L1064 96.1z"/>
<path fill="#0026ff" d="M945.2 260.1L936.4 253.2L928.8 258.9z"/>
<path fill="#d90000" d="M1129.6 97.6L1122 97.6L1113.2 95.1z"/>
<path fill="#01fffe" d="M993.2 250L1002.1 225.3L1003.3 230.8L994.5 256.4z"/>
<path fill="#d90000" d="M1154.9 102.6L1146 90.1L1138.5 97.7z"/>
<path fill="#0027ff" d="M994.5 256.4L986.9 260.3L978.1 258.3z"/>
<path fill="#d60000" d="M1064 96.1L1055.1 94.1L1047.5 95.3z"/>
<path fill="#0027ff" d="M928.8 258.9L920 255.4L912.4 258.3z"/>
<path fill="#c90000" d="M1038.7 92.4L1031.1 95.1L1022.3 90.9z"/>
<path fill="#d90000" d="M1138.5 97.7L1129.6 97.6L1122 97.6z"/>
<path fill="#d90000" d="M1113.2 95.1L1105.6 99.2L1096.8 93.9z"/>
<path fill="#002aff" d="M903.6 256L896 259.3L887.2 247z"/>
<path fill="#002aff" d="M978.1 258.3L970.5 258.3L961.7 257.1z"/>
<path fill="#002aff" d="M912.4 258.3L903.6 256L896 259.3z"/>
<path fill="#ce0000" d="M1047.5 95.3L1038.7 92.4L1031.1 95.1z"/>
<path fill="#0028ff" d="M961.7 257.1L954.1 261.2L945.2 260.1z"/>
<path fill="#d50000" d="M1096.8 93.9L1089.2 98.7L1080.4 95.7z"/>
<path fill="#d90000" d="M1122 97.6L1113.2 95.1L1105.6 99.2z"/>
<path fill="#001cff" d="M945.2 260.1L937.7 264.8L928.8 258.9z"/>
<path fill="#0027ff" d="M986.9 260.3L978.1 258.3L970.5 258.3z"/>
<path fill="#d60000" d="M1080.4 95.7L1072.8 100.4L1064 96.1z"/>
<path fill="#dd0000" d="M1154.9 102.6L1147.3 101.6L1138.5 97.7z"/>
<path fill="#d50000" d="M1105.6 99.2L1096.8 93.9L1089.2 98.7z"/>
<path fill="#0027ff" d="M994.5 256.4L995.8 263.7L986.9 260.3z"/>
<path fill="#002aff" d="M970.5 258.3L961.7 257.1L954.1 261.2z"/>
<path fill="#001cff" d="M954.1 261.2L945.2 260.1L937.7 264.8z"/>
<path fill="#d60000" d="M1064 96.1L1056.4 100.2L1047.5 95.3z"/>
<path fill="#ee0000" d="M1163.7 104.1L1154.9 102.6L1147.3 101.6z"/>
<path fill="#d60000" d="M1089.2 98.7L1080.4 95.7L1072.8 100.4z"/>
<path fill="#0028ff" d="M928.8 258.9L921.3 262.2L912.4 258.3z"/>
<path fill="#ffb300" d="M1000.8 218.1L1009.7 187.8L1010.9 194.8L1002.1 225.3z"/>
<path fill="#0070ff" d="M869.5 237.5L860.7 236.6L853.1 123.6z"/>
<path fill="#d90000" d="M1138.5 97.7L1130.9 102.7L1122 97.6z"/>
<path fill="#ffac00" d="M1031.1 95.1L1022.3 90.9L1023.5 96.8z"/>
<path fill="#0026ff" d="M937.7 264.8L928.8 258.9L921.3 262.2z"/>
<path fill="#d80000" d="M1072.8 100.4L1064 96.1L1056.4 100.2z"/>
<path fill="#002bff" d="M912.4 258.3L904.8 262.2L896 259.3z"/>
<path fill="#cd0000" d="M1047.5 95.3L1040 99L1031.1 95.1z"/>
<path fill="#d50000" d="M1122 97.6L1114.5 101.2L1105.6 99.2z"/>
<path fill="#dd0000" d="M1147.3 101.6L1138.5 97.7L1130.9 102.7z"/>
<path fill="#0027ff" d="M986.9 260.3L979.3 264.1L970.5 258.3z"/>
<path fill="#ce0000" d="M1056.4 100.2L1047.5 95.3L1040 99z"/>
<path fill="#002bff" d="M921.3 262.2L912.4 258.3L904.8 262.2z"/>
<path fill="#d50000" d="M1105.6 99.2L1098 101.7L1089.2 98.7z"/>
<path fill="#d50000" d="M1130.9 102.7L1122 97.6L1114.5 101.2z"/>
<path fill="#0028ff" d="M970.5 258.3L962.9 264.5L954.1 261.2z"/>
<path fill="#0027ff" d="M995.8 263.7L986.9 260.3L979.3 264.1z"/>
<path fill="#dc0000" d="M1089.2 98.7L1081.6 103.7L1072.8 100.4z"/>
<path fill="#0027ff" d="M954.1 261.2L946.5 265.2L937.7 264.8z"/>
<path fill="#01fffe" d="M1017.2 128.8L1008.4 181L1009.7 187.8z"/>
<path fill="#c90000" d="M1040 99L1031.1 95.1L1023.5 96.8z"/>
<path fill="#d40000" d="M1114.5 101.2L1105.6 99.2L1098 101.7z"/>
<path fill="#dd0000" d="M1163.7 104.1L1156.1 102.5L1147.3 101.6z"/>
<path fill="#d90000" d="M1072.8 100.4L1065.2 103.7L1056.4 100.2z"/>
<path fill="#0027ff" d="M979.3 264.1L970.5 258.3L962.9 264.5z"/>
<path fill="#01fffe" d="M1016 121.6L1017.2 128.8L1008.4 181z"/>
<path fill="#0028ff" d="M937.7 264.8L930.1 263.9L921.3 262.2z"/>
<path fill="#d50000" d="M1098 101.7L1089.2 98.7L1081.6 103.7z"/>
<path fill="#e00000" d="M1147.3 101.6L1139.7 106.6L1130.9 102.7z"/>
<path fill="#0027ff" d="M962.9 264.5L954.1 261.2L946.5 265.2z"/>
<path fill="#0071ff" d="M878.3 240.5L869.5 237.5L861.9 130.7z"/>
<path fill="#dc0000" d="M1081.6 103.7L1072.8 100.4L1065.2 103.7z"/>
<path fill="#0028ff" d="M921.3 262.2L913.7 267L904.8 262.2z"/>
<path fill="#ff9c00" d="M1014.7 114.8L1023.5 96.8L1024.8 104.9L1016 121.6z"/>
<path fill="#cd0000" d="M1056.4 100.2L1048.8 101.9L1040 99z"/>
<path fill="#0027ff" d="M946.5 265.2L937.7 264.8L930.1 263.9z"/>
<path fill="#d00000" d="M1172.5 97L1163.7 104.1L1156.1 102.5z"/>
<path fill="#01fffe" d="M994.5 256.4L1003.3 230.8L1004.6 238.5L995.8 263.7z"/>
<path fill="#d40000" d="M1130.9 102.7L1123.3 104.2L1114.5 101.2z"/>
<path fill="#002bff" d="M904.8 262.2L896 259.3L888.4 233.3z"/>
<path fill="#dd0000" d="M1156.1 102.5L1147.3 101.6L1139.7 106.6z"/>
<path fill="#0027ff" d="M995.8 263.7L988.2 266.4L979.3 264.1z"/>
<path fill="#d80000" d="M1065.2 103.7L1056.4 100.2L1048.8 101.9z"/>
<path fill="#0028ff" d="M930.1 263.9L921.3 262.2L913.7 267z"/>
<path fill="#c80000" d="M1040 99L1032.4 101.8L1023.5 96.8z"/>
<path fill="#e00000" d="M1139.7 106.6L1130.9 102.7L1123.3 104.2z"/>
<path fill="#d40000" d="M1114.5 101.2L1106.9 104.7L1098 101.7z"/>
<path fill="#0027ff" d="M979.3 264.1L971.8 267.8L962.9 264.5z"/>
<path fill="#dc0000" d="M1098 101.7L1090.5 107.2L1081.6 103.7z"/>
<path fill="#0027ff" d="M962.9 264.5L955.3 271.2L946.5 265.2z"/>
<path fill="#cc0000" d="M1048.8 101.9L1040 99L1032.4 101.8z"/>
<path fill="#d30000" d="M1123.3 104.2L1114.5 101.2L1106.9 104.7z"/>
<path fill="#0027ff" d="M988.2 266.4L979.3 264.1L971.8 267.8z"/>
<path fill="#002bff" d="M913.7 267L904.8 262.2L897.3 255.7z"/>
<path fill="#d90000" d="M1081.6 103.7L1074.1 105.2L1065.2 103.7z"/>
<path fill="#0071ff" d="M887.2 247L878.3 240.5L870.7 135.1z"/>
<path fill="#0027ff" d="M971.8 267.8L962.9 264.5L955.3 271.2z"/>
<path fill="#0027ff" d="M946.5 265.2L938.9 269.3L930.1 263.9z"/>
<path fill="#d40000" d="M1106.9 104.7L1098 101.7L1090.5 107.2z"/>
<path fill="#0026ff" d="M995.8 263.7L997 271.2L988.2 266.4z"/>
<path fill="#d90000" d="M1065.2 103.7L1057.6 107.8L1048.8 101.9z"/>
<path fill="#d00000" d="M1172.5 97L1165 106.5L1156.1 102.5z"/>
<path fill="#0025ff" d="M955.3 271.2L946.5 265.2L938.9 269.3z"/>
<path fill="#d00000" d="M1156.1 102.5L1148.6 106.3L1139.7 106.6z"/>
<path fill="#0022ff" d="M930.1 263.9L922.5 270.3L913.7 267z"/>
<path fill="#dc0000" d="M1090.5 107.2L1081.6 103.7L1074.1 105.2z"/>
<path fill="#ff3900" d="M860.7 236.6L853.1 123.6L844.2 131.1z"/>
<path fill="#ffb300" d="M1002.1 225.3L1010.9 194.8L1012.2 201.8L1003.3 230.8z"/>
<path fill="#005eff" d="M896 259.3L887.2 247L879.6 156.8z"/>
<path fill="#dd0000" d="M1139.7 106.6L1132.1 109.1L1123.3 104.2z"/>
<path fill="#d40000" d="M1181.4 109.5L1172.5 97L1165 106.5z"/>
<path fill="#0067ff" d="M904.8 262.2L897.3 255.7L888.4 233.3z"/>
<path fill="#ffac00" d="M1032.4 101.8L1023.5 96.8L1024.8 104.9z"/>
<path fill="#d90000" d="M1074.1 105.2L1065.2 103.7L1057.6 107.8z"/>
<path fill="#cc0000" d="M1048.8 101.9L1041.2 107L1032.4 101.8z"/>
<path fill="#0025ff" d="M938.9 269.3L930.1 263.9L922.5 270.3z"/>
<path fill="#d00000" d="M1165 106.5L1156.1 102.5L1148.6 106.3z"/>
<path fill="#d30000" d="M1123.3 104.2L1115.7 110.8L1106.9 104.7z"/>
<path fill="#0022ff" d="M922.5 270.3L913.7 267L906.1 271.5z"/>
<path fill="#0022ff" d="M913.7 267L906.1 271.5L897.3 255.7z"/>
<path fill="#dd0000" d="M1148.6 106.3L1139.7 106.6L1132.1 109.1z"/>
<path fill="#0027ff" d="M988.2 266.4L980.6 271L971.8 267.8z"/>
<path fill="#d30000" d="M1057.6 107.8L1048.8 101.9L1041.2 107z"/>
<path fill="#0026ff" d="M971.8 267.8L964.2 271.7L955.3 271.2z"/>
<path fill="#da0000" d="M1106.9 104.7L1099.3 109.7L1090.5 107.2z"/>
<path fill="#dd0000" d="M1132.1 109.1L1123.3 104.2L1115.7 110.8z"/>
<path fill="#0027ff" d="M997 271.2L988.2 266.4L980.6 271z"/>
<path fill="#001dff" d="M955.3 271.2L947.8 273.8L938.9 269.3z"/>
<path fill="#da0000" d="M1181.4 109.5L1173.8 110.7L1165 106.5z"/>
<path fill="#c80000" d="M1041.2 107L1032.4 101.8L1024.8 104.9z"/>
<path fill="#d50000" d="M1090.5 107.2L1082.9 109.4L1074.1 105.2z"/>
<path fill="#da0000" d="M1115.7 110.8L1106.9 104.7L1099.3 109.7z"/>
<path fill="#01fffe" d="M1018.5 135.5L1009.7 187.8L1010.9 194.8z"/>
<path fill="#0027ff" d="M980.6 271L971.8 267.8L964.2 271.7z"/>
<path fill="#0022ff" d="M938.9 269.3L931.4 274L922.5 270.3z"/>
<path fill="#01fffe" d="M1017.2 128.8L1018.5 135.5L1009.7 187.8z"/>
<path fill="#001dff" d="M964.2 271.7L955.3 271.2L947.8 273.8z"/>
<path fill="#d60000" d="M1074.1 105.2L1066.5 110.2L1057.6 107.8z"/>
<path fill="#da0000" d="M1099.3 109.7L1090.5 107.2L1082.9 109.4z"/>
<path fill="#d40000" d="M1165 106.5L1157.4 111.2L1148.6 106.3z"/>
<path fill="#da0000" d="M1190.2 108L1181.4 109.5L1173.8 110.7z"/>
<path fill="#0021ff" d="M922.5 270.3L914.9 274.1L906.1 271.5z"/>
<path fill="#dd0000" d="M1148.6 106.3L1141 113L1132.1 109.1z"/>
<path fill="#001fff" d="M947.8 273.8L938.9 269.3L931.4 274z"/>
<path fill="#d30000" d="M1057.6 107.8L1050.1 108.3L1041.2 107z"/>
<path fill="#ff9c00" d="M1016 121.6L1024.8 104.9L1026.1 110.2L1017.2 128.8z"/>
<path fill="#da0000" d="M1173.8 110.7L1165 106.5L1157.4 111.2z"/>
<path fill="#d50000" d="M1082.9 109.4L1074.1 105.2L1066.5 110.2z"/>
<path fill="#ff1200" d="M869.5 237.5L861.9 130.7L853.1 123.6z"/>
<path fill="#00d5ff" d="M896 259.3L888.4 233.3L879.6 156.8z"/>
<path fill="#01fffe" d="M995.8 263.7L1004.6 238.5L1005.9 246.4L997 271.2z"/>
<path fill="#dd0000" d="M1132.1 109.1L1124.6 110.5L1115.7 110.8z"/>
<path fill="#0022ff" d="M997 271.2L989.4 275.6L980.6 271z"/>
<path fill="#0021ff" d="M931.4 274L922.5 270.3L914.9 274.1z"/>
<path fill="#da0000" d="M1157.4 111.2L1148.6 106.3L1141 113z"/>
<path fill="#d60000" d="M1066.5 110.2L1057.6 107.8L1050.1 108.3z"/>
<path fill="#c40000" d="M1041.2 107L1033.6 107.6L1024.8 104.9z"/>
<path fill="#da0000" d="M1115.7 110.8L1108.1 110.8L1099.3 109.7z"/>
<path fill="#dd0000" d="M1141 113L1132.1 109.1L1124.6 110.5z"/>
<path fill="#0027ff" d="M980.6 271L973 272.8L964.2 271.7z"/>
<path fill="#da0000" d="M1190.2 108L1182.6 118L1173.8 110.7z"/>
<path fill="#da0000" d="M1099.3 109.7L1091.7 113.8L1082.9 109.4z"/>
<path fill="#c80000" d="M1050.1 108.3L1041.2 107L1033.6 107.6z"/>
<path fill="#0026ff" d="M964.2 271.7L956.6 274.1L947.8 273.8z"/>
<path fill="#f20000" d="M1199.1 119.8L1190.2 108L1182.6 118z"/>
<path fill="#d00000" d="M1124.6 110.5L1115.7 110.8L1108.1 110.8z"/>
<path fill="#0027ff" d="M989.4 275.6L980.6 271L973 272.8z"/>
<path fill="#da0000" d="M1173.8 110.7L1166.2 114.9L1157.4 111.2z"/>
<path fill="#001fff" d="M947.8 273.8L940.2 273.9L931.4 274z"/>
<path fill="#d50000" d="M1082.9 109.4L1075.3 112.3L1066.5 110.2z"/>
<path fill="#0022ff" d="M997 271.2L998.3 277.3L989.4 275.6z"/>
<path fill="#da0000" d="M1108.1 110.8L1099.3 109.7L1091.7 113.8z"/>
<path fill="#e00000" d="M1157.4 111.2L1149.8 116L1141 113z"/>
<path fill="#dd0000" d="M1182.6 118L1173.8 110.7L1166.2 114.9z"/>
<path fill="#0021ff" d="M931.4 274L923.8 276.9L914.9 274.1z"/>
<path fill="#002dff" d="M973 272.8L964.2 271.7L956.6 274.1z"/>
<path fill="#ff1900" d="M878.3 240.5L870.7 135.1L861.9 130.7z"/>
<path fill="#d60000" d="M1066.5 110.2L1058.9 114.1L1050.1 108.3z"/>
<path fill="#0021ff" d="M914.9 274.1L906.1 271.5L898.5 246.7z"/>
<path fill="#d50000" d="M1091.7 113.8L1082.9 109.4L1075.3 112.3z"/>
<path fill="#ffb300" d="M1003.3 230.8L1012.2 201.8L1013.4 208.9L1004.6 238.5z"/>
<path fill="#002dff" d="M956.6 274.1L947.8 273.8L940.2 273.9z"/>
<path fill="#d90000" d="M1141 113L1133.4 115.3L1124.6 110.5z"/>
<path fill="#dd0000" d="M1166.2 114.9L1157.4 111.2L1149.8 116z"/>
<path fill="#ffac00" d="M1033.6 107.6L1024.8 104.9L1026.1 110.2z"/>
<path fill="#d60000" d="M1075.3 112.3L1066.5 110.2L1058.9 114.1z"/>
<path fill="#0023ff" d="M940.2 273.9L931.4 274L923.8 276.9z"/>
<path fill="#c80000" d="M1050.1 108.3L1042.5 112L1033.6 107.6z"/>
<path fill="#e00000" d="M1149.8 116L1141 113L1133.4 115.3z"/>
<path fill="#f20000" d="M1199.1 119.8L1191.5 114.3L1182.6 118z"/>
<path fill="#0024ff" d="M989.4 275.6L981.9 278.4L973 272.8z"/>
<path fill="#ff8300" d="M887.2 247L879.6 156.8L870.7 135.1z"/>
<path fill="#d00000" d="M1124.6 110.5L1117 114.9L1108.1 110.8z"/>
<path fill="#0023ff" d="M923.8 276.9L914.9 274.1L907.4 275z"/>
<path fill="#c90000" d="M1058.9 114.1L1050.1 108.3L1042.5 112z"/>
<path fill="#dc0000" d="M1108.1 110.8L1100.6 117L1091.7 113.8z"/>
<path fill="#002dff" d="M973 272.8L965.4 281.5L956.6 274.1z"/>
<path fill="#0024ff" d="M998.3 277.3L989.4 275.6L981.9 278.4z"/>
<path fill="#dd0000" d="M1182.6 118L1175.1 117.3L1166.2 114.9z"/>
<path fill="#d30000" d="M1133.4 115.3L1124.6 110.5L1117 114.9z"/>
<path fill="#dc0000" d="M1207.9 117L1199.1 119.8L1191.5 114.3z"/>
<path fill="#d70000" d="M1091.7 113.8L1084.2 116.7L1075.3 112.3z"/>
<path fill="#01fffe" d="M1019.8 142.8L1010.9 194.8L1012.2 201.8z"/>
<path fill="#0032ff" d="M914.9 274.1L907.4 275L898.5 246.7z"/>
<path fill="#0024ff" d="M981.9 278.4L973 272.8L965.4 281.5z"/>
<path fill="#d30000" d="M1117 114.9L1108.1 110.8L1100.6 117z"/>
<path fill="#c10000" d="M1042.5 112L1033.6 107.6L1026.1 110.2z"/>
<path fill="#002dff" d="M956.6 274.1L949 278.6L940.2 273.9z"/>
<path fill="#dd0000" d="M1166.2 114.9L1158.7 117.5L1149.8 116z"/>
<path fill="#01fffe" d="M1018.5 135.5L1019.8 142.8L1010.9 194.8z"/>
<path fill="#d70000" d="M1075.3 112.3L1067.7 118.3L1058.9 114.1z"/>
<path fill="#0023ff" d="M940.2 273.9L932.6 281.7L923.8 276.9z"/>
<path fill="#dc0000" d="M1100.6 117L1091.7 113.8L1084.2 116.7z"/>
<path fill="#d80000" d="M1191.5 114.3L1182.6 118L1175.1 117.3z"/>
<path fill="#0029ff" d="M965.4 281.5L956.6 274.1L949 278.6z"/>
<path fill="#d90000" d="M1149.8 116L1142.2 118.4L1133.4 115.3z"/>
<path fill="#0067ff" d="M906.1 271.5L897.3 255.7L889.7 162.7z"/>
<path fill="#0023ff" d="M923.8 276.9L916.2 280.9L907.4 275z"/>
<path fill="#00d5ff" d="M897.3 255.7L888.4 233.3L880.8 146.6z"/>
<path fill="#d70000" d="M1084.2 116.7L1075.3 112.3L1067.7 118.3z"/>
<path fill="#ff9c00" d="M1017.2 128.8L1026.1 110.2L1027.3 118.3L1018.5 135.5z"/>
<path fill="#d80000" d="M1175.1 117.3L1166.2 114.9L1158.7 117.5z"/>
<path fill="#ce0000" d="M1058.9 114.1L1051.3 116.2L1042.5 112z"/>
<path fill="#0029ff" d="M949 278.6L940.2 273.9L932.6 281.7z"/>
<path fill="#01fffe" d="M997 271.2L1005.9 246.4L1007.1 252.9L998.3 277.3z"/>
<path fill="#0022ff" d="M932.6 281.7L923.8 276.9L916.2 280.9z"/>
<path fill="#d80000" d="M1133.4 115.3L1125.8 119L1117 114.9z"/>
<path fill="#0027ff" d="M998.3 277.3L990.7 281.1L981.9 278.4z"/>
<path fill="#d80000" d="M1158.7 117.5L1149.8 116L1142.2 118.4z"/>
<path fill="#d70000" d="M1067.7 118.3L1058.9 114.1L1051.3 116.2z"/>
<path fill="#fa0000" d="M853.1 123.6L844.2 131.1L836.7 106.2z"/>
<path fill="#0020ff" d="M981.9 278.4L974.3 282.7L965.4 281.5z"/>
<path fill="#db0000" d="M1117 114.9L1109.4 120L1100.6 117z"/>
<path fill="#c40000" d="M1042.5 112L1034.9 115.1L1026.1 110.2z"/>
<path fill="#d80000" d="M1142.2 118.4L1133.4 115.3L1125.8 119z"/>
<path fill="#ca0000" d="M1207.9 117L1200.3 117.3L1191.5 114.3z"/>
<path fill="#d70000" d="M1100.6 117L1093 119.8L1084.2 116.7z"/>
<path fill="#c90000" d="M1051.3 116.2L1042.5 112L1034.9 115.1z"/>
<path fill="#0029ff" d="M965.4 281.5L957.9 280.1L949 278.6z"/>
<path fill="#d80000" d="M1125.8 119L1117 114.9L1109.4 120z"/>
<path fill="#0024ff" d="M990.7 281.1L981.9 278.4L974.3 282.7z"/>
<path fill="#d30000" d="M1191.5 114.3L1183.9 119.6L1175.1 117.3z"/>
<path fill="#d70000" d="M1216.7 119.1L1207.9 117L1200.3 117.3z"/>
<path fill="#d70000" d="M1084.2 116.7L1076.6 120.2L1067.7 118.3z"/>
<path fill="#0021ff" d="M949 278.6L941.4 283.8L932.6 281.7z"/>
<path fill="#db0000" d="M1109.4 120L1100.6 117L1093 119.8z"/>
<path fill="#0020ff" d="M974.3 282.7L965.4 281.5L957.9 280.1z"/>
<path fill="#d60000" d="M1175.1 117.3L1167.5 119L1158.7 117.5z"/>
<path fill="#0027ff" d="M998.3 277.3L999.5 284.4L990.7 281.1z"/>
<path fill="#0022ff" d="M932.6 281.7L925 284.1L916.2 280.9z"/>
<path fill="#dc0000" d="M1067.7 118.3L1060.2 121.8L1051.3 116.2z"/>
<path fill="#d80000" d="M1158.7 117.5L1151.1 122.3L1142.2 118.4z"/>
<path fill="#ca0000" d="M1200.3 117.3L1191.5 114.3L1183.9 119.6z"/>
<path fill="#d60000" d="M1093 119.8L1084.2 116.7L1076.6 120.2z"/>
<path fill="#ffb300" d="M1004.6 238.5L1013.4 208.9L1014.7 216.2L1005.9 246.4z"/>
<path fill="#00c2ff" d="M906.1 271.5L898.5 246.7L889.7 162.7z"/>
<path fill="#0029ff" d="M957.9 280.1L949 278.6L941.4 283.8z"/>
<path fill="#d30000" d="M1183.9 119.6L1175.1 117.3L1167.5 119z"/>
<path fill="#0032ff" d="M916.2 280.9L907.4 275L899.8 251z"/>
<path fill="#0021ff" d="M941.4 283.8L932.6 281.7L925 284.1z"/>
<path fill="#fa0000" d="M861.9 130.7L853.1 123.6L845.5 120.2z"/>
<path fill="#dc0000" d="M1076.6 120.2L1067.7 118.3L1060.2 121.8z"/>
<path fill="#d80000" d="M1142.2 118.4L1134.7 121.4L1125.8 119z"/>
<path fill="#ffac00" d="M1034.9 115.1L1026.1 110.2L1027.3 118.3z"/>
<path fill="#ce0000" d="M1051.3 116.2L1043.7 120.8L1034.9 115.1z"/>
<path fill="#d60000" d="M1167.5 119L1158.7 117.5L1151.1 122.3z"/>
<path fill="#d80000" d="M1125.8 119L1118.2 122.5L1109.4 120z"/>
<path fill="#0025ff" d="M990.7 281.1L983.1 285.1L974.3 282.7z"/>
<path fill="#d20000" d="M853.1 123.6L845.5 120.2L836.7 106.2z"/>
<path fill="#d70000" d="M1216.7 119.1L1209.2 125.1L1200.3 117.3z"/>
<path fill="#d80000" d="M1151.1 122.3L1142.2 118.4L1134.7 121.4z"/>
<path fill="#d30000" d="M1060.2 121.8L1051.3 116.2L1043.7 120.8z"/>
<path fill="#d80000" d="M1109.4 120L1101.8 123.2L1093 119.8z"/>
<path fill="#e30000" d="M1225.6 125.6L1216.7 119.1L1209.2 125.1z"/>
<path fill="#0020ff" d="M974.3 282.7L966.7 287.9L957.9 280.1z"/>
<path fill="#d30000" d="M1200.3 117.3L1192.7 126.6L1183.9 119.6z"/>
<path fill="#d70000" d="M1134.7 121.4L1125.8 119L1118.2 122.5z"/>
<path fill="#0026ff" d="M999.5 284.4L990.7 281.1L983.1 285.1z"/>
<path fill="#ff8300" d="M888.4 233.3L879.6 156.8L872 118.9z"/>
<path fill="#0022ff" d="M925 284.1L916.2 280.9L908.6 270.4z"/>
<path fill="#d60000" d="M1093 119.8L1085.4 124.1L1076.6 120.2z"/>
<path fill="#01fffe" d="M1021 149.4L1012.2 201.8L1013.4 208.9z"/>
<path fill="#c40000" d="M1043.7 120.8L1034.9 115.1L1027.3 118.3z"/>
<path fill="#0020ff" d="M983.1 285.1L974.3 282.7L966.7 287.9z"/>
<path fill="#0021ff" d="M957.9 280.1L950.3 287.1L941.4 283.8z"/>
<path fill="#e30000" d="M1209.2 125.1L1200.3 117.3L1192.7 126.6z"/>
<path fill="#d30000" d="M1183.9 119.6L1176.3 125.8L1167.5 119z"/>
<path fill="#d80000" d="M1118.2 122.5L1109.4 120L1101.8 123.2z"/>
<path fill="#01fffe" d="M1019.8 142.8L1021 149.4L1012.2 201.8z"/>
<path fill="#0022ff" d="M941.4 283.8L933.9 286.5L925 284.1z"/>
<path fill="#d60000" d="M1076.6 120.2L1069 122.9L1060.2 121.8z"/>
<path fill="#e10000" d="M1192.7 126.6L1183.9 119.6L1176.3 125.8z"/>
<path fill="#dc0000" d="M1167.5 119L1159.9 125.5L1151.1 122.3z"/>
<path fill="#d20000" d="M845.5 120.2L836.7 106.2L829.1 122.5z"/>
<path fill="#d80000" d="M1101.8 123.2L1093 119.8L1085.4 124.1z"/>
<path fill="#0020ff" d="M966.7 287.9L957.9 280.1L950.3 287.1z"/>
<path fill="#0074ff" d="M916.2 280.9L908.6 270.4L899.8 251z"/>
<path fill="#d30000" d="M1060.2 121.8L1052.6 123.5L1043.7 120.8z"/>
<path fill="#d40000" d="M1151.1 122.3L1143.5 124.1L1134.7 121.4z"/>
<path fill="#0021ff" d="M950.3 287.1L941.4 283.8L933.9 286.5z"/>
<path fill="#e80000" d="M1225.6 125.6L1218 129.1L1209.2 125.1z"/>
<path fill="#dc0000" d="M1176.3 125.8L1167.5 119L1159.9 125.5z"/>
<path fill="#ff9c00" d="M1018.5 135.5L1027.3 118.3L1028.6 123.6L1019.8 142.8z"/>
<path fill="#d60000" d="M1085.4 124.1L1076.6 120.2L1069 122.9z"/>
<path fill="#ff1200" d="M870.7 135.1L861.9 130.7L854.3 114.4z"/>
<path fill="#d20000" d="M861.9 130.7L854.3 114.4L845.5 120.2z"/>
<path fill="#01fffe" d="M998.3 277.3L1007.1 252.9L1008.4 259.8L999.5 284.4z"/>
<path fill="#0025ff" d="M999.5 284.4L992 289.8L983.1 285.1z"/>
<path fill="#d40000" d="M1134.7 121.4L1127.1 124.8L1118.2 122.5z"/>
<path fill="#dc0000" d="M1159.9 125.5L1151.1 122.3L1143.5 124.1z"/>
<path fill="#0026ff" d="M933.9 286.5L925 284.1L917.5 286.7z"/>
<path fill="#d00000" d="M1069 122.9L1060.2 121.8L1052.6 123.5z"/>
<path fill="#e90000" d="M1234.4 129L1225.6 125.6L1218 129.1z"/>
<path fill="#e30000" d="M1209.2 125.1L1201.6 127L1192.7 126.6z"/>
<path fill="#0029ff" d="M925 284.1L917.5 286.7L908.6 270.4z"/>
<path fill="#0021ff" d="M983.1 285.1L975.5 289.6L966.7 287.9z"/>
<path fill="#d80000" d="M1118.2 122.5L1110.7 127.8L1101.8 123.2z"/>
<path fill="#c20000" d="M1043.7 120.8L1036.2 121.5L1027.3 118.3z"/>
<path fill="#ff6b00" d="M897.3 255.7L889.7 162.7L880.8 146.6z"/>
<path fill="#d20000" d="M845.5 120.2L837.9 118.9L829.1 122.5z"/>
<path fill="#00c2ff" d="M907.4 275L898.5 246.7L890.9 169.2z"/>
<path fill="#e10000" d="M1192.7 126.6L1185.2 127L1176.3 125.8z"/>
<path fill="#d20000" d="M1143.5 124.1L1134.7 121.4L1127.1 124.8z"/>
<path fill="#0020ff" d="M966.7 287.9L959.1 289.3L950.3 287.1z"/>
<path fill="#da0000" d="M1101.8 123.2L1094.2 127.7L1085.4 124.1z"/>
<path fill="#d00000" d="M1052.6 123.5L1043.7 120.8L1036.2 121.5z"/>
<path fill="#e30000" d="M1218 129.1L1209.2 125.1L1201.6 127z"/>
<path fill="#0021ff" d="M992 289.8L983.1 285.1L975.5 289.6z"/>
<path fill="#d70000" d="M1127.1 124.8L1118.2 122.5L1110.7 127.8z"/>
<path fill="#ff2100" d="M888.4 233.3L880.8 146.6L872 118.9z"/>
<path fill="#0020ff" d="M950.3 287.1L942.7 293L933.9 286.5z"/>
<path fill="#e00000" d="M1176.3 125.8L1168.8 129.3L1159.9 125.5z"/>
<path fill="#ff1900" d="M879.6 156.8L870.7 135.1L863.2 112.1z"/>
<path fill="#dc0000" d="M1110.7 127.8L1101.8 123.2L1094.2 127.7z"/>
<path fill="#d60000" d="M1085.4 124.1L1077.8 127.1L1069 122.9z"/>
<path fill="#0021ff" d="M975.5 289.6L966.7 287.9L959.1 289.3z"/>
<path fill="#d90000" d="M1201.6 127L1192.7 126.6L1185.2 127z"/>
<path fill="#0026ff" d="M999.5 284.4L1000.8 290.9L992 289.8z"/>
<path fill="#b40000" d="M854.3 114.4L845.5 120.2L837.9 118.9z"/>
<path fill="#eb0000" d="M1234.4 129L1226.8 134.9L1218 129.1z"/>
<path fill="#dc0000" d="M1159.9 125.5L1152.3 130.6L1143.5 124.1z"/>
<path fill="#0020ff" d="M959.1 289.3L950.3 287.1L942.7 293z"/>
<path fill="#0026ff" d="M933.9 286.5L926.3 290.6L917.5 286.7z"/>
<path fill="#e00000" d="M1185.2 127L1176.3 125.8L1168.8 129.3z"/>
<path fill="#da0000" d="M1094.2 127.7L1085.4 124.1L1077.8 127.1z"/>
<path fill="#b40000" d="M837.9 118.9L829.1 122.5L821.5 117.5z"/>
<path fill="#ffb300" d="M1005.9 246.4L1014.7 216.2L1015.9 222.6L1007.1 252.9z"/>
<path fill="#d00000" d="M1069 122.9L1061.4 126.2L1052.6 123.5z"/>
<path fill="#e00000" d="M1168.8 129.3L1159.9 125.5L1152.3 130.6z"/>
<path fill="#0025ff" d="M942.7 293L933.9 286.5L926.3 290.6z"/>
<path fill="#d20000" d="M1143.5 124.1L1135.9 129.4L1127.1 124.8z"/>
<path fill="#00d1ff" d="M907.4 275L899.8 251L890.9 169.2z"/>
<path fill="#ffac00" d="M1036.2 121.5L1027.3 118.3L1028.6 123.6z"/>
<path fill="#eb0000" d="M1243.2 129.2L1234.4 129L1226.8 134.9z"/>
<path fill="#e10000" d="M1218 129.1L1210.4 131.7L1201.6 127z"/>
<path fill="#d00000" d="M1077.8 127.1L1069 122.9L1061.4 126.2z"/>
<path fill="#c50000" d="M1052.6 123.5L1045 125.4L1036.2 121.5z"/>
<path fill="#dd0000" d="M1127.1 124.8L1119.5 130.4L1110.7 127.8z"/>
<path fill="#0021ff" d="M992 289.8L984.4 291.9L975.5 289.6z"/>
<path fill="#9e0000" d="M870.7 135.1L863.2 112.1L854.3 114.4z"/>
<path fill="#da0000" d="M1152.3 130.6L1143.5 124.1L1135.9 129.4z"/>
<path fill="#e80000" d="M1226.8 134.9L1218 129.1L1210.4 131.7z"/>
<path fill="#dc0000" d="M1110.7 127.8L1103.1 130.5L1094.2 127.7z"/>
<path fill="#cd0000" d="M1061.4 126.2L1052.6 123.5L1045 125.4z"/>
<path fill="#0026ff" d="M975.5 289.6L968 291.4L959.1 289.3z"/>
<path fill="#da0000" d="M1135.9 129.4L1127.1 124.8L1119.5 130.4z"/>
<path fill="#0026ff" d="M1000.8 290.9L992 289.8L984.4 291.9z"/>
<path fill="#d60000" d="M1201.6 127L1194 127.9L1185.2 127z"/>
<path fill="#0029ff" d="M926.3 290.6L917.5 286.7L909.9 281.8z"/>
<path fill="#dc0000" d="M1094.2 127.7L1086.7 131.4L1077.8 127.1z"/>
<path fill="#0026ff" d="M959.1 289.3L951.5 292.1L942.7 293z"/>
<path fill="#b40000" d="M854.3 114.4L846.8 122.9L837.9 118.9z"/>
<path fill="#d90000" d="M1185.2 127L1177.6 131.4L1168.8 129.3z"/>
<path fill="#01fffe" d="M1022.3 156.7L1013.4 208.9L1014.7 216.2z"/>
<path fill="#dd0000" d="M1119.5 130.4L1110.7 127.8L1103.1 130.5z"/>
<path fill="#001dff" d="M942.7 293L935.1 295.1L926.3 290.6z"/>
<path fill="#0026ff" d="M984.4 291.9L975.5 289.6L968 291.4z"/>
<path fill="#e00000" d="M1168.8 129.3L1161.2 132.5L1152.3 130.6z"/>
<path fill="#d90000" d="M1210.4 131.7L1201.6 127L1194 127.9z"/>
<path fill="#c10000" d="M1045 125.4L1036.2 121.5L1028.6 123.6z"/>
<path fill="#b40000" d="M837.9 118.9L830.3 123.7L821.5 117.5z"/>
<path fill="#01fffe" d="M1021 149.4L1022.3 156.7L1013.4 208.9z"/>
<path fill="#dc0000" d="M1103.1 130.5L1094.2 127.7L1086.7 131.4z"/>
<path fill="#ed0000" d="M1243.2 129.2L1235.7 136.4L1226.8 134.9z"/>
<path fill="#d30000" d="M1077.8 127.1L1070.3 130.5L1061.4 126.2z"/>
<path fill="#930000" d="M879.6 156.8L872 118.9L863.2 112.1z"/>
<path fill="#b90000" d="M846.8 122.9L837.9 118.9L830.3 123.7z"/>
<path fill="#da0000" d="M1152.3 130.6L1144.8 132.6L1135.9 129.4z"/>
<path fill="#002bff" d="M968 291.4L959.1 289.3L951.5 292.1z"/>
<path fill="#d60000" d="M1194 127.9L1185.2 127L1177.6 131.4z"/>
<path fill="#ba0000" d="M830.3 123.7L821.5 117.5L813.9 132.4z"/>
<path fill="#001dff" d="M951.5 292.1L942.7 293L935.1 295.1z"/>
<path fill="#dd0000" d="M1177.6 131.4L1168.8 129.3L1161.2 132.5z"/>
<path fill="#d60000" d="M1086.7 131.4L1077.8 127.1L1070.3 130.5z"/>
<path fill="#9e0000" d="M863.2 112.1L854.3 114.4L846.8 122.9z"/>
<path fill="#e10000" d="M1226.8 134.9L1219.3 132.5L1210.4 131.7z"/>
<path fill="#ff9c00" d="M1019.8 142.8L1028.6 123.6L1029.8 130.8L1021 149.4z"/>
<path fill="#cd0000" d="M1061.4 126.2L1053.8 131.2L1045 125.4z"/>
<path fill="#01fffe" d="M999.5 284.4L1008.4 259.8L1009.6 266.5L1000.8 290.9z"/>
<path fill="#da0000" d="M1135.9 129.4L1128.3 131.9L1119.5 130.4z"/>
<path fill="#dd0000" d="M1161.2 132.5L1152.3 130.6L1144.8 132.6z"/>
<path fill="#0029ff" d="M926.3 290.6L918.7 293.5L909.9 281.8z"/>
<path fill="#0026ff" d="M1000.8 290.9L993.2 295.4L984.4 291.9z"/>
<path fill="#0025ff" d="M935.1 295.1L926.3 290.6L918.7 293.5z"/>
<path fill="#ed0000" d="M1235.7 136.4L1226.8 134.9L1219.3 132.5z"/>
<path fill="#d30000" d="M1070.3 130.5L1061.4 126.2L1053.8 131.2z"/>
<path fill="#d90000" d="M1252.1 127.7L1243.2 129.2L1235.7 136.4z"/>
<path fill="#da0000" d="M1119.5 130.4L1111.9 133.2L1103.1 130.5z"/>
<path fill="#dc0000" d="M1210.4 131.7L1202.8 134.5L1194 127.9z"/>
<path fill="#0028ff" d="M984.4 291.9L976.8 295.3L968 291.4z"/>
<path fill="#da0000" d="M1144.8 132.6L1135.9 129.4L1128.3 131.9z"/>
<path fill="#bd0000" d="M1045 125.4L1037.4 127.6L1028.6 123.6z"/>
<path fill="#dc0000" d="M830.3 123.7L822.8 133.3L813.9 132.4z"/>
<path fill="#ff6b00" d="M898.5 246.7L889.7 162.7L882.1 131.4z"/>
<path fill="#da0000" d="M1103.1 130.5L1095.5 133L1086.7 131.4z"/>
<path fill="#ba0000" d="M846.8 122.9L839.2 128.7L830.3 123.7z"/>
<path fill="#c50000" d="M1053.8 131.2L1045 125.4L1037.4 127.6z"/>
<path fill="#dc0000" d="M1219.3 132.5L1210.4 131.7L1202.8 134.5z"/>
<path fill="#d70000" d="M1128.3 131.9L1119.5 130.4L1111.9 133.2z"/>
<path fill="#d90000" d="M1194 127.9L1186.4 134.6L1177.6 131.4z"/>
<path fill="#0026ff" d="M993.2 295.4L984.4 291.9L976.8 295.3z"/>
<path fill="#002cff" d="M968 291.4L960.4 294.6L951.5 292.1z"/>
<path fill="#b20000" d="M863.2 112.1L855.6 124.8L846.8 122.9z"/>
<path fill="#001dff" d="M951.5 292.1L944 299L935.1 295.1z"/>
<path fill="#dd0000" d="M1177.6 131.4L1170 136.3L1161.2 132.5z"/>
<path fill="#dc0000" d="M1086.7 131.4L1079.1 135.2L1070.3 130.5z"/>
<path fill="#e90000" d="M822.8 133.3L813.9 132.4L806.3 136.9z"/>
<path fill="#d70000" d="M1111.9 133.2L1103.1 130.5L1095.5 133z"/>
<path fill="#b90000" d="M855.6 124.8L846.8 122.9L839.2 128.7z"/>
<path fill="#0025ff" d="M1000.8 290.9L1002.1 298.5L993.2 295.4z"/>
<path fill="#c50000" d="M839.2 128.7L830.3 123.7L822.8 133.3z"/>
<path fill="#da0000" d="M1202.8 134.5L1194 127.9L1186.4 134.6z"/>
<path fill="#002cff" d="M976.8 295.3L968 291.4L960.4 294.6z"/>
<path fill="#0074ff" d="M917.5 286.7L908.6 270.4L901 185.4z"/>
<path fill="#0024ff" d="M935.1 295.1L927.6 297.6L918.7 293.5z"/>
<path fill="#d50000" d="M1070.3 130.5L1062.7 135.7L1053.8 131.2z"/>
<path fill="#da0000" d="M1161.2 132.5L1153.6 134.4L1144.8 132.6z"/>
<path fill="#df0000" d="M1252.1 127.7L1244.5 137.2L1235.7 136.4z"/>
<path fill="#dc0000" d="M1095.5 133L1086.7 131.4L1079.1 135.2z"/>
<path fill="#da0000" d="M1186.4 134.6L1177.6 131.4L1170 136.3z"/>
<path fill="#ffb300" d="M1007.1 252.9L1015.9 222.6L1017.2 230L1008.4 259.8z"/>
<path fill="#002bff" d="M960.4 294.6L951.5 292.1L944 299z"/>
<path fill="#df0000" d="M1235.7 136.4L1228.1 137.6L1219.3 132.5z"/>
<path fill="#930000" d="M872 118.9L863.2 112.1L855.6 124.8z"/>
<path fill="#001dff" d="M944 299L935.1 295.1L927.6 297.6z"/>
<path fill="#00d1ff" d="M908.6 270.4L899.8 251L892.2 159z"/>
<path fill="#da0000" d="M1144.8 132.6L1137.2 136.5L1128.3 131.9z"/>
<path fill="#dc0000" d="M1079.1 135.2L1070.3 130.5L1062.7 135.7z"/>
<path fill="#dd0000" d="M1170 136.3L1161.2 132.5L1153.6 134.4z"/>
<path fill="#df0000" d="M1260.9 140.3L1252.1 127.7L1244.5 137.2z"/>
<path fill="#ff6900" d="M898.5 246.7L890.9 169.2L882.1 131.4z"/>
<path fill="#ffac00" d="M1037.4 127.6L1028.6 123.6L1029.8 130.8z"/>
<path fill="#cd0000" d="M1053.8 131.2L1046.3 133.6L1037.4 127.6z"/>
<path fill="#df0000" d="M1244.5 137.2L1235.7 136.4L1228.1 137.6z"/>
<path fill="#dc0000" d="M1219.3 132.5L1211.7 139.5L1202.8 134.5z"/>
<path fill="#0024ff" d="M993.2 295.4L985.6 300.4L976.8 295.3z"/>
<path fill="#d70000" d="M1128.3 131.9L1120.8 136.6L1111.9 133.2z"/>
<path fill="#005aff" d="M918.7 293.5L909.9 281.8L902.3 262.8z"/>
<path fill="#d50000" d="M1062.7 135.7L1053.8 131.2L1046.3 133.6z"/>
<path fill="#da0000" d="M1153.6 134.4L1144.8 132.6L1137.2 136.5z"/>
<path fill="#0027ff" d="M927.6 297.6L918.7 293.5L911.1 297.7z"/>
<path fill="#ea0000" d="M822.8 133.3L815.2 139.4L806.3 136.9z"/>
<path fill="#cd0000" d="M839.2 128.7L831.6 133.9L822.8 133.3z"/>
<path fill="#dc0000" d="M1202.8 134.5L1195.3 138.3L1186.4 134.6z"/>
<path fill="#c40000" d="M855.6 124.8L848 131.7L839.2 128.7z"/>
<path fill="#9a0000" d="M880.8 146.6L872 118.9L864.4 123.9z"/>
<path fill="#005aff" d="M917.5 286.7L909.9 281.8L901 185.4z"/>
<path fill="#d40000" d="M1111.9 133.2L1104.3 136.4L1095.5 133z"/>
<path fill="#df0000" d="M1228.1 137.6L1219.3 132.5L1211.7 139.5z"/>
<path fill="#0024ff" d="M1002.1 298.5L993.2 295.4L985.6 300.4z"/>
<path fill="#d80000" d="M1137.2 136.5L1128.3 131.9L1120.8 136.6z"/>
<path fill="#ee0000" d="M815.2 139.4L806.3 136.9L798.8 148.9z"/>
<path fill="#002eff" d="M976.8 295.3L969.2 298.1L960.4 294.6z"/>
<path fill="#f40000" d="M1260.9 140.3L1253.3 146.1L1244.5 137.2z"/>
<path fill="#da0000" d="M1186.4 134.6L1178.8 138.3L1170 136.3z"/>
<path fill="#9a0000" d="M872 118.9L864.4 123.9L855.6 124.8z"/>
<path fill="#ff2100" d="M889.7 162.7L880.8 146.6L873.3 125.3z"/>
<path fill="#dd0000" d="M1211.7 139.5L1202.8 134.5L1195.3 138.3z"/>
<path fill="#01fffe" d="M1023.5 163.3L1014.7 216.2L1015.9 222.6z"/>
<path fill="#d30000" d="M1095.5 133L1087.9 136.5L1079.1 135.2z"/>
<path fill="#ff0100" d="M1269.8 148.4L1260.9 140.3L1253.3 146.1z"/>
<path fill="#0028ff" d="M960.4 294.6L952.8 299.5L944 299z"/>
<path fill="#d70000" d="M1120.8 136.6L1111.9 133.2L1104.3 136.4z"/>
<path fill="#dc0000" d="M831.6 133.9L822.8 133.3L815.2 139.4z"/>
<path fill="#bd0000" d="M1046.3 133.6L1037.4 127.6L1029.8 130.8z"/>
<path fill="#0028ff" d="M985.6 300.4L976.8 295.3L969.2 298.1z"/>
<path fill="#dc0000" d="M1079.1 135.2L1071.5 139L1062.7 135.7z"/>
<path fill="#c50000" d="M848 131.7L839.2 128.7L831.6 133.9z"/>
<path fill="#01fffe" d="M1022.3 156.7L1023.5 163.3L1014.7 216.2z"/>
<path fill="#0024ff" d="M944 299L936.4 300.3L927.6 297.6z"/>
<path fill="#0029ff" d="M918.7 293.5L911.1 297.7L902.3 262.8z"/>
<path fill="#d40000" d="M1170 136.3L1162.4 138L1153.6 134.4z"/>
<path fill="#b20000" d="M864.4 123.9L855.6 124.8L848 131.7z"/>
<path fill="#da0000" d="M1195.3 138.3L1186.4 134.6L1178.8 138.3z"/>
<path fill="#df0000" d="M1244.5 137.2L1236.9 144.5L1228.1 137.6z"/>
<path fill="#d30000" d="M1104.3 136.4L1095.5 133L1087.9 136.5z"/>
<path fill="#002eff" d="M969.2 298.1L960.4 294.6L952.8 299.5z"/>
<path fill="#db0000" d="M1153.6 134.4L1146 140.1L1137.2 136.5z"/>
<path fill="#f40000" d="M1253.3 146.1L1244.5 137.2L1236.9 144.5z"/>
<path fill="#0027ff" d="M927.6 297.6L920 300.9L911.1 297.7z"/>
<path fill="#dc0000" d="M1087.9 136.5L1079.1 135.2L1071.5 139z"/>
<path fill="#cd0000" d="M1062.7 135.7L1055.1 136.9L1046.3 133.6z"/>
<path fill="#0027ff" d="M952.8 299.5L944 299L936.4 300.3z"/>
<path fill="#d90000" d="M1178.8 138.3L1170 136.3L1162.4 138z"/>
<path fill="#ff9c00" d="M1021 149.4L1029.8 130.8L1031.1 138.5L1022.3 156.7z"/>
<path fill="#e60000" d="M1228.1 137.6L1220.5 142.6L1211.7 139.5z"/>
<path fill="#9a0000" d="M880.8 146.6L873.3 125.3L864.4 123.9z"/>
<path fill="#01fffe" d="M1000.8 290.9L1009.6 266.5L1010.9 273.4L1002.1 298.5z"/>
<path fill="#d80000" d="M1137.2 136.5L1129.6 139.5L1120.8 136.6z"/>
<path fill="#0025ff" d="M1002.1 298.5L994.5 300.6L985.6 300.4z"/>
<path fill="#dc0000" d="M1071.5 139L1062.7 135.7L1055.1 136.9z"/>
<path fill="#ff0800" d="M1269.8 148.4L1262.2 150.5L1253.3 146.1z"/>
<path fill="#0027ff" d="M936.4 300.3L927.6 297.6L920 300.9z"/>
<path fill="#d40000" d="M1162.4 138L1153.6 134.4L1146 140.1z"/>
<path fill="#e60000" d="M1236.9 144.5L1228.1 137.6L1220.5 142.6z"/>
<path fill="#ea0000" d="M815.2 139.4L807.6 139.8L798.8 148.9z"/>
<path fill="#dd0000" d="M1211.7 139.5L1204.1 141.5L1195.3 138.3z"/>
<path fill="#001dff" d="M985.6 300.4L978.1 304.8L969.2 298.1z"/>
<path fill="#c40000" d="M1046.3 133.6L1038.7 135.8L1029.8 130.8z"/>
<path fill="#d40000" d="M1120.8 136.6L1113.2 139L1104.3 136.4z"/>
<path fill="#db0000" d="M1146 140.1L1137.2 136.5L1129.6 139.5z"/>
<path fill="#cc0000" d="M848 131.7L840.4 136.8L831.6 133.9z"/>
<path fill="#ff6900" d="M899.8 251L890.9 169.2L883.4 141.2z"/>
<path fill="#b90000" d="M864.4 123.9L856.9 132.9L848 131.7z"/>
<path fill="#cd0000" d="M831.6 133.9L824 134.6L815.2 139.4z"/>
<path fill="#ff0800" d="M1278.6 147.7L1269.8 148.4L1262.2 150.5z"/>
<path fill="#e60000" d="M1220.5 142.6L1211.7 139.5L1204.1 141.5z"/>
<path fill="#da0000" d="M1195.3 138.3L1187.7 141.6L1178.8 138.3z"/>
<path fill="#cd0000" d="M1055.1 136.9L1046.3 133.6L1038.7 135.8z"/>
<path fill="#0028ff" d="M969.2 298.1L961.6 304.6L952.8 299.5z"/>
<path fill="#001dff" d="M994.5 300.6L985.6 300.4L978.1 304.8z"/>
<path fill="#d20000" d="M1104.3 136.4L1096.8 139.2L1087.9 136.5z"/>
<path fill="#f40000" d="M1253.3 146.1L1245.8 146.2L1236.9 144.5z"/>
<path fill="#d60000" d="M1129.6 139.5L1120.8 136.6L1113.2 139z"/>
<path fill="#f00000" d="M807.6 139.8L798.8 148.9L791.2 144.8z"/>
<path fill="#d90000" d="M1178.8 138.3L1171.3 142.7L1162.4 138z"/>
<path fill="#c40000" d="M856.9 132.9L848 131.7L840.4 136.8z"/>
<path fill="#d20000" d="M1087.9 136.5L1080.4 139.8L1071.5 139z"/>
<path fill="#a10000" d="M889.7 162.7L882.1 131.4L873.3 125.3z"/>
<path fill="#001eff" d="M978.1 304.8L969.2 298.1L961.6 304.6z"/>
<path fill="#dc0000" d="M1204.1 141.5L1195.3 138.3L1187.7 141.6z"/>
<path fill="#0028ff" d="M952.8 299.5L945.2 302.6L936.4 300.3z"/>
<path fill="#ff0100" d="M1262.2 150.5L1253.3 146.1L1245.8 146.2z"/>
<path fill="#d10000" d="M1113.2 139L1104.3 136.4L1096.8 139.2z"/>
<path fill="#0027ff" d="M1002.1 298.5L1003.3 305.1L994.5 300.6z"/>
<path fill="#cc0000" d="M840.4 136.8L831.6 133.9L824 134.6z"/>
<path fill="#dd0000" d="M1162.4 138L1154.9 143.4L1146 140.1z"/>
<path fill="#d60000" d="M824 134.6L815.2 139.4L807.6 139.8z"/>
<path fill="#d60000" d="M1071.5 139L1063.9 141.6L1055.1 136.9z"/>
<path fill="#e80000" d="M1236.9 144.5L1229.4 146.1L1220.5 142.6z"/>
<path fill="#9a0000" d="M873.3 125.3L864.4 123.9L856.9 132.9z"/>
<path fill="#da0000" d="M1187.7 141.6L1178.8 138.3L1171.3 142.7z"/>
<path fill="#0027ff" d="M936.4 300.3L928.8 303L920 300.9z"/>
<path fill="#ffb300" d="M1008.4 259.8L1017.2 230L1018.5 237L1009.6 266.5z"/>
<path fill="#0028ff" d="M961.6 304.6L952.8 299.5L945.2 302.6z"/>
<path fill="#0027ff" d="M920 300.9L911.1 297.7L903.6 274z"/>
<path fill="#cf0000" d="M1096.8 139.2L1087.9 136.5L1080.4 139.8z"/>
<path fill="#dd0000" d="M1146 140.1L1138.4 144.4L1129.6 139.5z"/>
<path fill="#dd0000" d="M1171.3 142.7L1162.4 138L1154.9 143.4z"/>
<path fill="#eb0000" d="M1245.8 146.2L1236.9 144.5L1229.4 146.1z"/>
<path fill="#ffac00" d="M1038.7 135.8L1029.8 130.8L1031.1 138.5z"/>
<path fill="#d60000" d="M1080.4 139.8L1071.5 139L1063.9 141.6z"/>
<path fill="#e40000" d="M1220.5 142.6L1212.9 146.1L1204.1 141.5z"/>
<path fill="#ff0800" d="M1278.6 147.7L1271 153.8L1262.2 150.5z"/>
<path fill="#cc0000" d="M1055.1 136.9L1047.5 140.4L1038.7 135.8z"/>
<path fill="#002cff" d="M945.2 302.6L936.4 300.3L928.8 303z"/>
<path fill="#de0000" d="M1154.9 143.4L1146 140.1L1138.4 144.4z"/>
<path fill="#d60000" d="M1129.6 139.5L1122 144.4L1113.2 139z"/>
<path fill="#ff8b00" d="M908.6 270.4L901 185.4L892.2 159z"/>
<path fill="#0029ff" d="M994.5 300.6L986.9 305.3L978.1 304.8z"/>
<path fill="#ff0800" d="M1262.2 150.5L1254.6 158L1245.8 146.2z"/>
<path fill="#0027ff" d="M928.8 303L920 300.9L912.4 305z"/>
<path fill="#001dff" d="M978.1 304.8L970.5 307.8L961.6 304.6z"/>
<path fill="#e60000" d="M1229.4 146.1L1220.5 142.6L1212.9 146.1z"/>
<path fill="#cd0000" d="M1063.9 141.6L1055.1 136.9L1047.5 140.4z"/>
<path fill="#c30000" d="M856.9 132.9L849.3 138.5L840.4 136.8z"/>
<path fill="#da0000" d="M1204.1 141.5L1196.5 144.8L1187.7 141.6z"/>
<path fill="#cc0000" d="M840.4 136.8L832.9 144.4L824 134.6z"/>
<path fill="#dd0000" d="M1138.4 144.4L1129.6 139.5L1122 144.4z"/>
<path fill="#d10000" d="M1113.2 139L1105.6 145.3L1096.8 139.2z"/>
<path fill="#ff0900" d="M1271 153.8L1262.2 150.5L1254.6 158z"/>
<path fill="#ff0600" d="M899.8 251L892.2 159L883.4 141.2z"/>
<path fill="#e80000" d="M807.6 139.8L800 146.5L791.2 144.8z"/>
<path fill="#a20000" d="M873.3 125.3L865.7 132.1L856.9 132.9z"/>
<path fill="#0029ff" d="M1003.3 305.1L994.5 300.6L986.9 305.3z"/>
<path fill="#d60000" d="M824 134.6L816.4 143.9L807.6 139.8z"/>
<path fill="#da0000" d="M1187.7 141.6L1180.1 145.1L1171.3 142.7z"/>
<path fill="#01fffe" d="M1024.8 170.6L1015.9 222.6L1017.2 230z"/>
<path fill="#dc0000" d="M1212.9 146.1L1204.1 141.5L1196.5 144.8z"/>
<path fill="#001dff" d="M986.9 305.3L978.1 304.8L970.5 307.8z"/>
<path fill="#002aff" d="M961.6 304.6L954.1 306.2L945.2 302.6z"/>
<path fill="#dd0000" d="M1122 144.4L1113.2 139L1105.6 145.3z"/>
<path fill="#cc0000" d="M849.3 138.5L840.4 136.8L832.9 144.4z"/>
<path fill="#0027ff" d="M920 300.9L912.4 305L903.6 274z"/>
<path fill="#cf0000" d="M1096.8 139.2L1089.2 144.4L1080.4 139.8z"/>
<path fill="#c40000" d="M1047.5 140.4L1038.7 135.8L1031.1 138.5z"/>
<path fill="#00ddff" d="M909.9 281.8L902.3 262.8L893.5 165.5z"/>
<path fill="#dd0000" d="M1171.3 142.7L1163.7 145.9L1154.9 143.4z"/>
<path fill="#01fffe" d="M1023.5 163.3L1024.8 170.6L1015.9 222.6z"/>
<path fill="#b90000" d="M865.7 132.1L856.9 132.9L849.3 138.5z"/>
<path fill="#dc0000" d="M832.9 144.4L824 134.6L816.4 143.9z"/>
<path fill="#d60000" d="M1080.4 139.8L1072.8 145.4L1063.9 141.6z"/>
<path fill="#001eff" d="M970.5 307.8L961.6 304.6L954.1 306.2z"/>
<path fill="#dc0000" d="M816.4 143.9L807.6 139.8L800 146.5z"/>
<path fill="#d70000" d="M1105.6 145.3L1096.8 139.2L1089.2 144.4z"/>
<path fill="#da0000" d="M1196.5 144.8L1187.7 141.6L1180.1 145.1z"/>
<path fill="#e80000" d="M1245.8 146.2L1238.2 147.6L1229.4 146.1z"/>
<path fill="#a10000" d="M882.1 131.4L873.3 125.3L865.7 132.1z"/>
<path fill="#002dff" d="M945.2 302.6L937.6 305.7L928.8 303z"/>
<path fill="#eb0000" d="M1254.6 158L1245.8 146.2L1238.2 147.6z"/>
<path fill="#e80000" d="M800 146.5L791.2 144.8L783.6 145.4z"/>
<path fill="#de0000" d="M1154.9 143.4L1147.3 145L1138.4 144.4z"/>
<path fill="#da0000" d="M1180.1 145.1L1171.3 142.7L1163.7 145.9z"/>
<path fill="#ce0000" d="M1063.9 141.6L1056.4 144L1047.5 140.4z"/>
<path fill="#ff9c00" d="M1022.3 156.7L1031.1 138.5L1032.4 145.5L1023.5 163.3z"/>
<path fill="#002dff" d="M928.8 303L921.2 306.7L912.4 305z"/>
<path fill="#e40000" d="M1229.4 146.1L1221.8 149.1L1212.9 146.1z"/>
<path fill="#d70000" d="M1089.2 144.4L1080.4 139.8L1072.8 145.4z"/>
<path fill="#a10000" d="M890.9 169.2L882.1 131.4L874.5 132.6z"/>
<path fill="#dd0000" d="M1138.4 144.4L1130.9 146.9L1122 144.4z"/>
<path fill="#ff1000" d="M1271 153.8L1263.4 158.9L1254.6 158z"/>
<path fill="#01fffe" d="M1002.1 298.5L1010.9 273.4L1012.1 280.3L1003.3 305.1z"/>
<path fill="#002cff" d="M954.1 306.2L945.2 302.6L937.6 305.7z"/>
<path fill="#da0000" d="M1163.7 145.9L1154.9 143.4L1147.3 145z"/>
<path fill="#d60000" d="M1072.8 145.4L1063.9 141.6L1056.4 144z"/>
<path fill="#0029ff" d="M1003.3 305.1L995.7 308.1L986.9 305.3z"/>
<path fill="#db0000" d="M849.3 138.5L841.7 146.5L832.9 144.4z"/>
<path fill="#dd0000" d="M1122 144.4L1114.4 147.2L1105.6 145.3z"/>
<path fill="#dd0000" d="M1212.9 146.1L1205.4 148.5L1196.5 144.8z"/>
<path fill="#e30000" d="M1238.2 147.6L1229.4 146.1L1221.8 149.1z"/>
<path fill="#001dff" d="M986.9 305.3L979.3 311L970.5 307.8z"/>
<path fill="#002dff" d="M937.6 305.7L928.8 303L921.2 306.7z"/>
<path fill="#c70000" d="M1047.5 140.4L1039.9 143.3L1031.1 138.5z"/>
<path fill="#d90000" d="M1147.3 145L1138.4 144.4L1130.9 146.9z"/>
<path fill="#dc0000" d="M832.9 144.4L825.3 143.9L816.4 143.9z"/>
<path fill="#b50000" d="M865.7 132.1L858.1 139.3L849.3 138.5z"/>
<path fill="#ff0a00" d="M1254.6 158L1247 158.3L1238.2 147.6z"/>
<path fill="#d70000" d="M1105.6 145.3L1098 147.4L1089.2 144.4z"/>
<path fill="#da0000" d="M1196.5 144.8L1188.9 149.9L1180.1 145.1z"/>
<path fill="#001dff" d="M970.5 307.8L962.9 311.6L954.1 306.2z"/>
<path fill="#e30000" d="M1221.8 149.1L1212.9 146.1L1205.4 148.5z"/>
<path fill="#cc0000" d="M1056.4 144L1047.5 140.4L1039.9 143.3z"/>
<path fill="#ff8b00" d="M909.9 281.8L901 185.4L893.5 165.5z"/>
<path fill="#00ddff" d="M911.1 297.7L902.3 262.8L894.7 187z"/>
<path fill="#dc0000" d="M816.4 143.9L808.9 146.2L800 146.5z"/>
<path fill="#ff1000" d="M1263.4 158.9L1254.6 158L1247 158.3z"/>
<path fill="#a10000" d="M882.1 131.4L874.5 132.6L865.7 132.1z"/>
<path fill="#d90000" d="M1130.9 146.9L1122 144.4L1114.4 147.2z"/>
<path fill="#0029ff" d="M995.7 308.1L986.9 305.3L979.3 311z"/>
<path fill="#e40000" d="M800 146.5L792.4 149.6L783.6 145.4z"/>
<path fill="#db0000" d="M841.7 146.5L832.9 144.4L825.3 143.9z"/>
<path fill="#b10000" d="M890.9 169.2L883.4 141.2L874.5 132.6z"/>
<path fill="#c30000" d="M858.1 139.3L849.3 138.5L841.7 146.5z"/>
<path fill="#002dff" d="M921.2 306.7L912.4 305L904.8 297.3z"/>
<path fill="#da0000" d="M1089.2 144.4L1081.6 148.8L1072.8 145.4z"/>
<path fill="#001dff" d="M979.3 311L970.5 307.8L962.9 311.6z"/>
<path fill="#d80000" d="M1180.1 145.1L1172.5 148.3L1163.7 145.9z"/>
<path fill="#dd0000" d="M1205.4 148.5L1196.5 144.8L1188.9 149.9z"/>
<path fill="#d80000" d="M1114.4 147.2L1105.6 145.3L1098 147.4z"/>
<path fill="#002aff" d="M954.1 306.2L946.5 312.3L937.6 305.7z"/>
<path fill="#0027ff" d="M1003.3 305.1L1004.6 312.2L995.7 308.1z"/>
<path fill="#da0000" d="M1163.7 145.9L1156.1 150.9L1147.3 145z"/>
<path fill="#a20000" d="M874.5 132.6L865.7 132.1L858.1 139.3z"/>
<path fill="#d30000" d="M825.3 143.9L816.4 143.9L808.9 146.2z"/>
<path fill="#001dff" d="M962.9 311.6L954.1 306.2L946.5 312.3z"/>
<path fill="#e30000" d="M1238.2 147.6L1230.6 156L1221.8 149.1z"/>
<path fill="#e40000" d="M808.9 146.2L800 146.5L792.4 149.6z"/>
<path fill="#cf0000" d="M1072.8 145.4L1065.2 147.2L1056.4 144z"/>
<path fill="#d70000" d="M1098 147.4L1089.2 144.4L1081.6 148.8z"/>
<path fill="#d80000" d="M1188.9 149.9L1180.1 145.1L1172.5 148.3z"/>
<path fill="#ffb300" d="M1009.6 266.5L1018.5 237L1019.7 243.6L1010.9 273.4z"/>
<path fill="#0030ff" d="M937.6 305.7L930.1 309.1L921.2 306.7z"/>
<path fill="#f90000" d="M1247 158.3L1238.2 147.6L1230.6 156z"/>
<path fill="#ff1000" d="M1263.4 158.9L1255.9 170.4L1247 158.3z"/>
<path fill="#d70000" d="M1147.3 145L1139.7 149.7L1130.9 146.9z"/>
<path fill="#ffac00" d="M1039.9 143.3L1031.1 138.5L1032.4 145.5z"/>
<path fill="#00c4ff" d="M911.1 297.7L903.6 274L894.7 187z"/>
<path fill="#da0000" d="M1172.5 148.3L1163.7 145.9L1156.1 150.9z"/>
<path fill="#da0000" d="M1081.6 148.8L1072.8 145.4L1065.2 147.2z"/>
<path fill="#0030ff" d="M946.5 312.3L937.6 305.7L930.1 309.1z"/>
<path fill="#c80000" d="M1056.4 144L1048.8 146.6L1039.9 143.3z"/>
<path fill="#df0000" d="M1221.8 149.1L1214.2 152L1205.4 148.5z"/>
<path fill="#de0000" d="M792.4 149.6L783.6 145.4L776 142.7z"/>
<path fill="#d80000" d="M1130.9 146.9L1123.3 150.3L1114.4 147.2z"/>
<path fill="#0023ff" d="M995.7 308.1L988.2 313.3L979.3 311z"/>
<path fill="#d70000" d="M1156.1 150.9L1147.3 145L1139.7 149.7z"/>
<path fill="#002dff" d="M921.2 306.7L913.7 312.4L904.8 297.3z"/>
<path fill="#e30000" d="M1230.6 156L1221.8 149.1L1214.2 152z"/>
<path fill="#001dff" d="M979.3 311L971.7 316L962.9 311.6z"/>
<path fill="#e20000" d="M1205.4 148.5L1197.8 153.7L1188.9 149.9z"/>
<path fill="#002dff" d="M930.1 309.1L921.2 306.7L913.7 312.4z"/>
<path fill="#d80000" d="M1114.4 147.2L1106.9 153L1098 147.4z"/>
<path fill="#b50000" d="M858.1 139.3L850.5 142.8L841.7 146.5z"/>
<path fill="#ce0000" d="M1065.2 147.2L1056.4 144L1048.8 146.6z"/>
<path fill="#c90000" d="M841.7 146.5L834.1 146.5L825.3 143.9z"/>
<path fill="#b50000" d="M874.5 132.6L866.9 144.1L858.1 139.3z"/>
<path fill="#d30000" d="M825.3 143.9L817.7 155.7L808.9 146.2z"/>
<path fill="#d70000" d="M1139.7 149.7L1130.9 146.9L1123.3 150.3z"/>
<path fill="#001cff" d="M962.9 311.6L955.3 316.5L946.5 312.3z"/>
<path fill="#ff0b00" d="M1255.9 170.4L1247 158.3L1239.4 162.3z"/>
<path fill="#ff0a00" d="M1247 158.3L1239.4 162.3L1230.6 156z"/>
<path fill="#0026ff" d="M1004.6 312.2L995.7 308.1L988.2 313.3z"/>
<path fill="#e10000" d="M1188.9 149.9L1181.4 153.5L1172.5 148.3z"/>
<path fill="#da0000" d="M1098 147.4L1090.4 151.9L1081.6 148.8z"/>
<path fill="#001dff" d="M988.2 313.3L979.3 311L971.7 316z"/>
<path fill="#01fffe" d="M1026 177.3L1017.2 230L1018.5 237z"/>
<path fill="#df0000" d="M1214.2 152L1205.4 148.5L1197.8 153.7z"/>
<path fill="#de0000" d="M808.9 146.2L801.3 151.8L792.4 149.6z"/>
<path fill="#d80000" d="M1123.3 150.3L1114.4 147.2L1106.9 153z"/>
<path fill="#c70000" d="M1048.8 146.6L1039.9 143.3L1032.4 145.5z"/>
<path fill="#b10000" d="M883.4 141.2L874.5 132.6L866.9 144.1z"/>
<path fill="#0017ff" d="M971.7 316L962.9 311.6L955.3 316.5z"/>
<path fill="#b50000" d="M866.9 144.1L858.1 139.3L850.5 142.8z"/>
<path fill="#c90000" d="M834.1 146.5L825.3 143.9L817.7 155.7z"/>
<path fill="#c60000" d="M850.5 142.8L841.7 146.5L834.1 146.5z"/>
<path fill="#01fffe" d="M1024.8 170.6L1026 177.3L1017.2 230z"/>
<path fill="#e20000" d="M1197.8 153.7L1188.9 149.9L1181.4 153.5z"/>
<path fill="#db0000" d="M1081.6 148.8L1074 152.7L1065.2 147.2z"/>
<path fill="#d60000" d="M1172.5 148.3L1164.9 152.2L1156.1 150.9z"/>
<path fill="#de0000" d="M817.7 155.7L808.9 146.2L801.3 151.8z"/>
<path fill="#da0000" d="M1106.9 153L1098 147.4L1090.4 151.9z"/>
<path fill="#0022ff" d="M946.5 312.3L938.9 315.1L930.1 309.1z"/>
<path fill="#de0000" d="M792.4 149.6L784.9 152.3L776 142.7z"/>
<path fill="#dc0000" d="M1156.1 150.9L1148.5 153.7L1139.7 149.7z"/>
<path fill="#001cff" d="M955.3 316.5L946.5 312.3L938.9 315.1z"/>
<path fill="#db0000" d="M1090.4 151.9L1081.6 148.8L1074 152.7z"/>
<path fill="#e70000" d="M1230.6 156L1223 156.7L1214.2 152z"/>
<path fill="#de0000" d="M801.3 151.8L792.4 149.6L784.9 152.3z"/>
<path fill="#ff9c00" d="M1023.5 163.3L1032.4 145.5L1033.6 153.4L1024.8 170.6z"/>
<path fill="#0027ff" d="M930.1 309.1L922.5 314.7L913.7 312.4z"/>
<path fill="#d60000" d="M1181.4 153.5L1172.5 148.3L1164.9 152.2z"/>
<path fill="#f90000" d="M1239.4 162.3L1230.6 156L1223 156.7z"/>
<path fill="#ce0000" d="M1065.2 147.2L1057.6 150.9L1048.8 146.6z"/>
<path fill="#01fffe" d="M1003.3 305.1L1012.1 280.3L1013.4 287.5L1004.6 312.2z"/>
<path fill="#ff1900" d="M1255.9 170.4L1248.3 167.8L1239.4 162.3z"/>
<path fill="#d70000" d="M1139.7 149.7L1132.1 153.3L1123.3 150.3z"/>
<path fill="#0023ff" d="M1004.6 312.2L997 316.4L988.2 313.3z"/>
<path fill="#de0000" d="M784.9 152.3L776 142.7L768.5 160.2z"/>
<path fill="#dc0000" d="M1164.9 152.2L1156.1 150.9L1148.5 153.7z"/>
<path fill="#00c4ff" d="M912.4 305L903.6 274L896 203.3z"/>
<path fill="#e50000" d="M1214.2 152L1206.6 157.1L1197.8 153.7z"/>
<path fill="#0017ff" d="M988.2 313.3L980.6 319.1L971.7 316z"/>
<path fill="#cf0000" d="M1074 152.7L1065.2 147.2L1057.6 150.9z"/>
<path fill="#0027ff" d="M938.9 315.1L930.1 309.1L922.5 314.7z"/>
<path fill="#dc0000" d="M1123.3 150.3L1115.7 154.9L1106.9 153z"/>
<path fill="#be0000" d="M866.9 144.1L859.4 150L850.5 142.8z"/>
<path fill="#c50000" d="M1048.8 146.6L1041.2 149.8L1032.4 145.5z"/>
<path fill="#0066ff" d="M913.7 312.4L904.8 297.3L897.2 281z"/>
<path fill="#b10000" d="M892.2 159L883.4 141.2L875.8 138.3z"/>
<path fill="#e50000" d="M1197.8 153.7L1190.2 158.6L1181.4 153.5z"/>
<path fill="#d70000" d="M1148.5 153.7L1139.7 149.7L1132.1 153.3z"/>
<path fill="#b10000" d="M883.4 141.2L875.8 138.3L866.9 144.1z"/>
<path fill="#0017ff" d="M971.7 316L964.2 318.1L955.3 316.5z"/>
<path fill="#c60000" d="M834.1 146.5L826.5 150.1L817.7 155.7z"/>
<path fill="#ff0600" d="M901 185.4L892.2 159L884.6 143.1z"/>
<path fill="#0027ff" d="M922.5 314.7L913.7 312.4L906.1 312.3z"/>
<path fill="#da0000" d="M1106.9 153L1099.3 154.1L1090.4 151.9z"/>
<path fill="#e60000" d="M1223 156.7L1214.2 152L1206.6 157.1z"/>
<path fill="#c50000" d="M850.5 142.8L843 149.6L834.1 146.5z"/>
<path fill="#de0000" d="M817.7 155.7L810.1 150.3L801.3 151.8z"/>
<path fill="#c80000" d="M1057.6 150.9L1048.8 146.6L1041.2 149.8z"/>
<path fill="#0023ff" d="M997 316.4L988.2 313.3L980.6 319.1z"/>
<path fill="#0066ff" d="M912.4 305L904.8 297.3L896 203.3z"/>
<path fill="#d70000" d="M1132.1 153.3L1123.3 150.3L1115.7 154.9z"/>
<path fill="#e60000" d="M1206.6 157.1L1197.8 153.7L1190.2 158.6z"/>
<path fill="#e10000" d="M1181.4 153.5L1173.8 157.3L1164.9 152.2z"/>
<path fill="#0017ff" d="M980.6 319.1L971.7 316L964.2 318.1z"/>
<path fill="#da0000" d="M1090.4 151.9L1082.9 155.1L1074 152.7z"/>
<path fill="#0022ff" d="M955.3 316.5L947.7 316.8L938.9 315.1z"/>
<path fill="#e90000" d="M784.9 152.3L777.3 157.9L768.5 160.2z"/>
<path fill="#dc0000" d="M1115.7 154.9L1106.9 153L1099.3 154.1z"/>
<path fill="#de0000" d="M801.3 151.8L793.7 154.4L784.9 152.3z"/>
<path fill="#be0000" d="M875.8 138.3L866.9 144.1L859.4 150z"/>
<path fill="#c50000" d="M859.4 150L850.5 142.8L843 149.6z"/>
<path fill="#ed0000" d="M1239.4 162.3L1231.9 161L1223 156.7z"/>
<path fill="#0024ff" d="M1004.6 312.2L1005.8 319.4L997 316.4z"/>
<path fill="#e10000" d="M1190.2 158.6L1181.4 153.5L1173.8 157.3z"/>
<path fill="#ff0b00" d="M1248.3 167.8L1239.4 162.3L1231.9 161z"/>
<path fill="#c50000" d="M843 149.6L834.1 146.5L826.5 150.1z"/>
<path fill="#c50000" d="M826.5 150.1L817.7 155.7L810.1 150.3z"/>
<path fill="#dc0000" d="M1164.9 152.2L1157.4 157.1L1148.5 153.7z"/>
<path fill="#da0000" d="M1074 152.7L1066.5 156.1L1057.6 150.9z"/>
<path fill="#0038ff" d="M913.7 312.4L906.1 312.3L897.2 281z"/>
<path fill="#0025ff" d="M938.9 315.1L931.3 318.3L922.5 314.7z"/>
<path fill="#ff0300" d="M902.3 262.8L893.5 165.5L885.9 154.1z"/>
<path fill="#0020ff" d="M964.2 318.1L955.3 316.5L947.7 316.8z"/>
<path fill="#d70000" d="M1099.3 154.1L1090.4 151.9L1082.9 155.1z"/>
<path fill="#ffb300" d="M1010.9 273.4L1019.7 243.6L1021 250.7L1012.1 280.3z"/>
<path fill="#d80000" d="M810.1 150.3L801.3 151.8L793.7 154.4z"/>
<path fill="#e70000" d="M1223 156.7L1215.5 162.1L1206.6 157.1z"/>
<path fill="#da0000" d="M1082.9 155.1L1074 152.7L1066.5 156.1z"/>
<path fill="#ffac00" d="M1041.2 149.8L1032.4 145.5L1033.6 153.4z"/>
<path fill="#dd0000" d="M1173.8 157.3L1164.9 152.2L1157.4 157.1z"/>
<path fill="#d60000" d="M1148.5 153.7L1141 155.1L1132.1 153.3z"/>
<path fill="#de0000" d="M793.7 154.4L784.9 152.3L777.3 157.9z"/>
<path fill="#0027ff" d="M922.5 314.7L914.9 319.1L906.1 312.3z"/>
<path fill="#ff0300" d="M901 185.4L893.5 165.5L884.6 143.1z"/>
<path fill="#0025ff" d="M947.7 316.8L938.9 315.1L931.3 318.3z"/>
<path fill="#940000" d="M892.2 159L884.6 143.1L875.8 138.3z"/>
<path fill="#ce0000" d="M1057.6 150.9L1050 155.2L1041.2 149.8z"/>
<path fill="#e90000" d="M777.3 157.9L768.5 160.2L760.9 152.3z"/>
<path fill="#d90000" d="M1132.1 153.3L1124.5 157.6L1115.7 154.9z"/>
<path fill="#0023ff" d="M997 316.4L989.4 318.4L980.6 319.1z"/>
<path fill="#eb0000" d="M1206.6 157.1L1199 161.6L1190.2 158.6z"/>
<path fill="#ff5700" d="M902.3 262.8L894.7 187L885.9 154.1z"/>
<path fill="#ed0000" d="M1231.9 161L1223 156.7L1215.5 162.1z"/>
<path fill="#0025ff" d="M931.3 318.3L922.5 314.7L914.9 319.1z"/>
<path fill="#dc0000" d="M1157.4 157.1L1148.5 153.7L1141 155.1z"/>
<path fill="#c70000" d="M859.4 150L851.8 153.1L843 149.6z"/>
<path fill="#d10000" d="M1066.5 156.1L1057.6 150.9L1050 155.2z"/>
<path fill="#c90000" d="M875.8 138.3L868.2 152.8L859.4 150z"/>
<path fill="#0020ff" d="M980.6 319.1L973 319L964.2 318.1z"/>
<path fill="#d40000" d="M1115.7 154.9L1108.1 156.7L1099.3 154.1z"/>
<path fill="#c50000" d="M843 149.6L835.4 156.8L826.5 150.1z"/>
<path fill="#ff1900" d="M1248.3 167.8L1240.7 171.9L1231.9 161z"/>
<path fill="#e70000" d="M1190.2 158.6L1182.6 161.5L1173.8 157.3z"/>
<path fill="#eb0000" d="M1215.5 162.1L1206.6 157.1L1199 161.6z"/>
<path fill="#d60000" d="M1141 155.1L1132.1 153.3L1124.5 157.6z"/>
<path fill="#0024ff" d="M1005.8 319.4L997 316.4L989.4 318.4z"/>
<path fill="#c90000" d="M868.2 152.8L859.4 150L851.8 153.1z"/>
<path fill="#c50000" d="M826.5 150.1L819 158.9L810.1 150.3z"/>
<path fill="#01fffe" d="M1027.3 184.1L1018.5 237L1019.7 243.6z"/>
<path fill="#c50000" d="M1050 155.2L1041.2 149.8L1033.6 153.4z"/>
<path fill="#0027ff" d="M964.2 318.1L956.6 320.5L947.7 316.8z"/>
<path fill="#d40000" d="M1099.3 154.1L1091.7 157.2L1082.9 155.1z"/>
<path fill="#d90000" d="M1124.5 157.6L1115.7 154.9L1108.1 156.7z"/>
<path fill="#eb0000" d="M1199 161.6L1190.2 158.6L1182.6 161.5z"/>
<path fill="#c70000" d="M851.8 153.1L843 149.6L835.4 156.8z"/>
<path fill="#e90000" d="M793.7 154.4L786.1 162.4L777.3 157.9z"/>
<path fill="#002dff" d="M989.4 318.4L980.6 319.1L973 319z"/>
<path fill="#d80000" d="M810.1 150.3L802.5 158.9L793.7 154.4z"/>
<path fill="#df0000" d="M1173.8 157.3L1166.2 160.7L1157.4 157.1z"/>
<path fill="#01fffe" d="M1026 177.3L1027.3 184.1L1018.5 237z"/>
<path fill="#d90000" d="M835.4 156.8L826.5 150.1L819 158.9z"/>
<path fill="#d70000" d="M1082.9 155.1L1075.3 158L1066.5 156.1z"/>
<path fill="#940000" d="M884.6 143.1L875.8 138.3L868.2 152.8z"/>
<path fill="#0038ff" d="M914.9 319.1L906.1 312.3L898.5 307.5z"/>
<path fill="#0027ff" d="M947.7 316.8L940.2 321.2L931.3 318.3z"/>
<path fill="#f10000" d="M1231.9 161L1224.3 167.7L1215.5 162.1z"/>
<path fill="#0027ff" d="M973 319L964.2 318.1L956.6 320.5z"/>
<path fill="#d10000" d="M1108.1 156.7L1099.3 154.1L1091.7 157.2z"/>
<path fill="#df0000" d="M819 158.9L810.1 150.3L802.5 158.9z"/>
<path fill="#e10000" d="M1182.6 161.5L1173.8 157.3L1166.2 160.7z"/>
<path fill="#fe0000" d="M1240.7 171.9L1231.9 161L1224.3 167.7z"/>
<path fill="#d50000" d="M1066.5 156.1L1058.9 159L1050 155.2z"/>
<path fill="#df0000" d="M802.5 158.9L793.7 154.4L786.1 162.4z"/>
<path fill="#da0000" d="M1157.4 157.1L1149.8 160.4L1141 155.1z"/>
<path fill="#e20000" d="M777.3 157.9L769.7 160.5L760.9 152.3z"/>
<path fill="#ff9c00" d="M1024.8 170.6L1033.6 153.4L1034.9 159.5L1026 177.3z"/>
<path fill="#0025ff" d="M931.3 318.3L923.8 319.8L914.9 319.1z"/>
<path fill="#d20000" d="M1091.7 157.2L1082.9 155.1L1075.3 158z"/>
<path fill="#e90000" d="M786.1 162.4L777.3 157.9L769.7 160.5z"/>
<path fill="#0027ff" d="M956.6 320.5L947.7 316.8L940.2 321.2z"/>
<path fill="#01fffe" d="M1004.6 312.2L1013.4 287.5L1014.7 295L1005.8 319.4z"/>
<path fill="#dd0000" d="M1166.2 160.7L1157.4 157.1L1149.8 160.4z"/>
<path fill="#eb0000" d="M1215.5 162.1L1207.9 162.9L1199 161.6z"/>
<path fill="#d50000" d="M1141 155.1L1133.4 160.1L1124.5 157.6z"/>
<path fill="#0026ff" d="M1005.8 319.4L998.3 322.9L989.4 318.4z"/>
<path fill="#d50000" d="M1075.3 158L1066.5 156.1L1058.9 159z"/>
<path fill="#c90000" d="M868.2 152.8L860.6 157L851.8 153.1z"/>
<path fill="#0027ff" d="M940.2 321.2L931.3 318.3L923.8 319.8z"/>
<path fill="#d90000" d="M851.8 153.1L844.2 160.3L835.4 156.8z"/>
<path fill="#c40000" d="M1050 155.2L1042.5 155.9L1033.6 153.4z"/>
<path fill="#eb0000" d="M1199 161.6L1191.5 165.6L1182.6 161.5z"/>
<path fill="#f10000" d="M1224.3 167.7L1215.5 162.1L1207.9 162.9z"/>
<path fill="#d50000" d="M1124.5 157.6L1117 160.6L1108.1 156.7z"/>
<path fill="#a40000" d="M884.6 143.1L877 149.6L868.2 152.8z"/>
<path fill="#0024ff" d="M914.9 319.1L907.3 323.1L898.5 307.5z"/>
<path fill="#e20000" d="M769.7 160.5L760.9 152.3L753.3 163.2z"/>
<path fill="#a40000" d="M893.5 165.5L884.6 143.1L877 149.6z"/>
<path fill="#d90000" d="M835.4 156.8L827.8 157.7L819 158.9z"/>
<path fill="#0024ff" d="M923.8 319.8L914.9 319.1L907.3 323.1z"/>
<path fill="#002dff" d="M989.4 318.4L981.8 323.2L973 319z"/>
<path fill="#d50000" d="M1149.8 160.4L1141 155.1L1133.4 160.1z"/>
<path fill="#d10000" d="M1058.9 159L1050 155.2L1042.5 155.9z"/>
<path fill="#ff5700" d="M903.6 274L894.7 187L887.1 161.3z"/>
<path fill="#ff1500" d="M1240.7 171.9L1233.1 174.5L1224.3 167.7z"/>
<path fill="#df0000" d="M819 158.9L811.4 160.7L802.5 158.9z"/>
<path fill="#ef0000" d="M802.5 158.9L795 165.4L786.1 162.4z"/>
<path fill="#d10000" d="M1108.1 156.7L1100.5 161.6L1091.7 157.2z"/>
<path fill="#cb0000" d="M860.6 157L851.8 153.1L844.2 160.3z"/>
<path fill="#d50000" d="M1133.4 160.1L1124.5 157.6L1117 160.6z"/>
<path fill="#c90000" d="M877 149.6L868.2 152.8L860.6 157z"/>
<path fill="#e10000" d="M1182.6 161.5L1175 164.3L1166.2 160.7z"/>
<path fill="#002dff" d="M973 319L965.4 322.4L956.6 320.5z"/>
<path fill="#eb0000" d="M1207.9 162.9L1199 161.6L1191.5 165.6z"/>
<path fill="#0027ff" d="M998.3 322.9L989.4 318.4L981.8 323.2z"/>
<path fill="#d90000" d="M844.2 160.3L835.4 156.8L827.8 157.7z"/>
<path fill="#0027ff" d="M956.6 320.5L949 324.6L940.2 321.2z"/>
<path fill="#d20000" d="M1091.7 157.2L1084.1 161.2L1075.3 158z"/>
<path fill="#d50000" d="M1117 160.6L1108.1 156.7L1100.5 161.6z"/>
<path fill="#0025ff" d="M1005.8 319.4L1007.1 326.3L998.3 322.9z"/>
<path fill="#e70000" d="M1191.5 165.6L1182.6 161.5L1175 164.3z"/>
<path fill="#df0000" d="M1166.2 160.7L1158.6 165.8L1149.8 160.4z"/>
<path fill="#00daff" d="M904.8 297.3L897.2 281L888.4 182.2z"/>
<path fill="#d70000" d="M827.8 157.7L819 158.9L811.4 160.7z"/>
<path fill="#002dff" d="M981.8 323.2L973 319L965.4 322.4z"/>
<path fill="#d50000" d="M1075.3 158L1067.7 163.8L1058.9 159z"/>
<path fill="#e20000" d="M786.1 162.4L778.6 158.8L769.7 160.5z"/>
<path fill="#fe0000" d="M1224.3 167.7L1216.7 174.9L1207.9 162.9z"/>
<path fill="#df0000" d="M811.4 160.7L802.5 158.9L795 165.4z"/>
<path fill="#0027ff" d="M940.2 321.2L932.6 325.7L923.8 319.8z"/>
<path fill="#ff1300" d="M1233.1 174.5L1224.3 167.7L1216.7 174.9z"/>
<path fill="#ffb300" d="M1012.1 280.3L1021 250.7L1022.2 257.9L1013.4 287.5z"/>
<path fill="#ff8d00" d="M903.6 274L896 203.3L887.1 161.3z"/>
<path fill="#d20000" d="M1100.5 161.6L1091.7 157.2L1084.1 161.2z"/>
<path fill="#ab0000" d="M893.5 165.5L885.9 154.1L877 149.6z"/>
<path fill="#0027ff" d="M965.4 322.4L956.6 320.5L949 324.6z"/>
<path fill="#e10000" d="M1175 164.3L1166.2 160.7L1158.6 165.8z"/>
<path fill="#e20000" d="M769.7 160.5L762.1 160.1L753.3 163.2z"/>
<path fill="#da0000" d="M1149.8 160.4L1142.2 164.8L1133.4 160.1z"/>
<path fill="#ef0000" d="M795 165.4L786.1 162.4L778.6 158.8z"/>
<path fill="#0069ff" d="M907.3 323.1L898.5 307.5L890.9 309.9z"/>
<path fill="#ffac00" d="M1042.5 155.9L1033.6 153.4L1034.9 159.5z"/>
<path fill="#d20000" d="M1084.1 161.2L1075.3 158L1067.7 163.8z"/>
<path fill="#0025ff" d="M949 324.6L940.2 321.2L932.6 325.7z"/>
<path fill="#c70000" d="M1058.9 159L1051.3 160.3L1042.5 155.9z"/>
<path fill="#d20000" d="M860.6 157L853.1 162L844.2 160.3z"/>
<path fill="#0032ff" d="M923.8 319.8L916.2 320.9L907.3 323.1z"/>
<path fill="#de0000" d="M1158.6 165.8L1149.8 160.4L1142.2 164.8z"/>
<path fill="#d50000" d="M1133.4 160.1L1125.8 164.2L1117 160.6z"/>
<path fill="#eb0000" d="M1207.9 162.9L1200.3 168.6L1191.5 165.6z"/>
<path fill="#bf0000" d="M877 149.6L869.5 158.1L860.6 157z"/>
<path fill="#0027ff" d="M998.3 322.9L990.7 325L981.8 323.2z"/>
<path fill="#d50000" d="M1067.7 163.8L1058.9 159L1051.3 160.3z"/>
<path fill="#eb0000" d="M1216.7 174.9L1207.9 162.9L1200.3 168.6z"/>
<path fill="#d80000" d="M1117 160.6L1109.4 166.8L1100.5 161.6z"/>
<path fill="#cc0000" d="M844.2 160.3L836.6 161.5L827.8 157.7z"/>
<path fill="#ca0000" d="M778.6 158.8L769.7 160.5L762.1 160.1z"/>
<path fill="#0032ff" d="M932.6 325.7L923.8 319.8L916.2 320.9z"/>
<path fill="#d70000" d="M1142.2 164.8L1133.4 160.1L1125.8 164.2z"/>
<path fill="#e30000" d="M1191.5 165.6L1183.9 167.7L1175 164.3z"/>
<path fill="#0027ff" d="M981.8 323.2L974.3 327.8L965.4 322.4z"/>
<path fill="#ff1500" d="M1233.1 174.5L1225.6 180.5L1216.7 174.9z"/>
<path fill="#0026ff" d="M907.3 323.1L899.8 326.2L890.9 309.9z"/>
<path fill="#00daff" d="M906.1 312.3L897.2 281L889.7 210.5z"/>
<path fill="#cb0000" d="M869.5 158.1L860.6 157L853.1 162z"/>
<path fill="#d70000" d="M827.8 157.7L820.2 164.2L811.4 160.7z"/>
<path fill="#0026ff" d="M1007.1 326.3L998.3 322.9L990.7 325z"/>
<path fill="#0026ff" d="M916.2 320.9L907.3 323.1L899.8 326.2z"/>
<path fill="#d20000" d="M853.1 162L844.2 160.3L836.6 161.5z"/>
<path fill="#01fffe" d="M1028.6 190.8L1019.7 243.6L1021 250.7z"/>
<path fill="#d70000" d="M1100.5 161.6L1093 165.2L1084.1 161.2z"/>
<path fill="#0025ff" d="M965.4 322.4L957.8 329.9L949 324.6z"/>
<path fill="#d70000" d="M1125.8 164.2L1117 160.6L1109.4 166.8z"/>
<path fill="#d70000" d="M811.4 160.7L803.8 161.9L795 165.4z"/>
<path fill="#ab0000" d="M885.9 154.1L877 149.6L869.5 158.1z"/>
<path fill="#ff8d00" d="M904.8 297.3L896 203.3L888.4 182.2z"/>
<path fill="#e10000" d="M1175 164.3L1167.5 168L1158.6 165.8z"/>
<path fill="#eb0000" d="M1200.3 168.6L1191.5 165.6L1183.9 167.7z"/>
<path fill="#c00000" d="M1051.3 160.3L1042.5 155.9L1034.9 159.5z"/>
<path fill="#0027ff" d="M990.7 325L981.8 323.2L974.3 327.8z"/>
<path fill="#de0000" d="M1084.1 161.2L1076.6 167.4L1067.7 163.8z"/>
<path fill="#0022ff" d="M949 324.6L941.4 329.5L932.6 325.7z"/>
<path fill="#01fffe" d="M1027.3 184.1L1028.6 190.8L1019.7 243.6z"/>
<path fill="#0069ff" d="M906.1 312.3L898.5 307.5L889.7 210.5z"/>
<path fill="#d80000" d="M1109.4 166.8L1100.5 161.6L1093 165.2z"/>
<path fill="#d70000" d="M795 165.4L787.4 165L778.6 158.8z"/>
<path fill="#cc0000" d="M836.6 161.5L827.8 157.7L820.2 164.2z"/>
<path fill="#e50000" d="M1158.6 165.8L1151.1 169.2L1142.2 164.8z"/>
<path fill="#0022ff" d="M974.3 327.8L965.4 322.4L957.8 329.9z"/>
<path fill="#e10000" d="M1183.9 167.7L1175 164.3L1167.5 168z"/>
<path fill="#d70000" d="M820.2 164.2L811.4 160.7L803.8 161.9z"/>
<path fill="#f40000" d="M1216.7 174.9L1209.1 173.3L1200.3 168.6z"/>
<path fill="#001fff" d="M957.8 329.9L949 324.6L941.4 329.5z"/>
<path fill="#d80000" d="M1067.7 163.8L1060.1 166.5L1051.3 160.3z"/>
<path fill="#d70000" d="M1093 165.2L1084.1 161.2L1076.6 167.4z"/>
<path fill="#ff1300" d="M1225.6 180.5L1216.7 174.9L1209.1 173.3z"/>
<path fill="#ab0000" d="M894.7 187L885.9 154.1L878.3 155.8z"/>
<path fill="#ca0000" d="M778.6 158.8L771 170.4L762.1 160.1z"/>
<path fill="#0022ff" d="M932.6 325.7L925 330.2L916.2 320.9z"/>
<path fill="#ff9c00" d="M1026 177.3L1034.9 159.5L1036.1 165.5L1027.3 184.1z"/>
<path fill="#d70000" d="M803.8 161.9L795 165.4L787.4 165z"/>
<path fill="#e50000" d="M1167.5 168L1158.6 165.8L1151.1 169.2z"/>
<path fill="#01fffe" d="M1005.8 319.4L1014.7 295L1015.9 301.2L1007.1 326.3z"/>
<path fill="#de0000" d="M1142.2 164.8L1134.6 168.7L1125.8 164.2z"/>
<path fill="#de0000" d="M1076.6 167.4L1067.7 163.8L1060.1 166.5z"/>
<path fill="#001fff" d="M941.4 329.5L932.6 325.7L925 330.2z"/>
<path fill="#0028ff" d="M1007.1 326.3L999.5 329.4L990.7 325z"/>
<path fill="#c50000" d="M869.5 158.1L861.9 162.9L853.1 162z"/>
<path fill="#d70000" d="M787.4 165L778.6 158.8L771 170.4z"/>
<path fill="#0071ff" d="M899.8 326.2L890.9 309.9L883.3 311.7z"/>
<path fill="#0028ff" d="M916.2 320.9L908.6 329.1L899.8 326.2z"/>
<path fill="#d70000" d="M1125.8 164.2L1118.2 167.5L1109.4 166.8z"/>
<path fill="#df0000" d="M1151.1 169.2L1142.2 164.8L1134.6 168.7z"/>
<path fill="#ab0000" d="M885.9 154.1L878.3 155.8L869.5 158.1z"/>
<path fill="#e90000" d="M1200.3 168.6L1192.7 172L1183.9 167.7z"/>
<path fill="#bf0000" d="M1051.3 160.3L1043.7 162.6L1034.9 159.5z"/>
<path fill="#0025ff" d="M990.7 325L983.1 330.5L974.3 327.8z"/>
<path fill="#cc0000" d="M853.1 162L845.5 162.1L836.6 161.5z"/>
<path fill="#d90000" d="M1109.4 166.8L1101.8 168.8L1093 165.2z"/>
<path fill="#0028ff" d="M925 330.2L916.2 320.9L908.6 329.1z"/>
<path fill="#0022ff" d="M974.3 327.8L966.7 329.2L957.8 329.9z"/>
<path fill="#c70000" d="M1060.1 166.5L1051.3 160.3L1043.7 162.6z"/>
<path fill="#cc0000" d="M836.6 161.5L829.1 163.5L820.2 164.2z"/>
<path fill="#eb0000" d="M1209.1 173.3L1200.3 168.6L1192.7 172z"/>
<path fill="#d70000" d="M1134.6 168.7L1125.8 164.2L1118.2 167.5z"/>
<path fill="#e30000" d="M1183.9 167.7L1176.3 171.8L1167.5 168z"/>
<path fill="#f30000" d="M787.4 165L779.8 180L771 170.4z"/>
<path fill="#0028ff" d="M908.6 329.1L899.8 326.2L892.2 329.1z"/>
<path fill="#dd0000" d="M1093 165.2L1085.4 170.1L1076.6 167.4z"/>
<path fill="#001fff" d="M957.8 329.9L950.3 331.4L941.4 329.5z"/>
<path fill="#0028ff" d="M999.5 329.4L990.7 325L983.1 330.5z"/>
<path fill="#c50000" d="M861.9 162.9L853.1 162L845.5 162.1z"/>
<path fill="#bf0000" d="M878.3 155.8L869.5 158.1L861.9 162.9z"/>
<path fill="#002bff" d="M899.8 326.2L892.2 329.1L883.3 311.7z"/>
<path fill="#ff1400" d="M1225.6 180.5L1218 181.9L1209.1 173.3z"/>
<path fill="#ad0000" d="M894.7 187L887.1 161.3L878.3 155.8z"/>
<path fill="#c80000" d="M820.2 164.2L812.6 164.4L803.8 161.9z"/>
<path fill="#d90000" d="M1118.2 167.5L1109.4 166.8L1101.8 168.8z"/>
<path fill="#d70000" d="M803.8 161.9L796.2 171.5L787.4 165z"/>
<path fill="#e10000" d="M1167.5 168L1159.9 170.6L1151.1 169.2z"/>
<path fill="#0026ff" d="M1007.1 326.3L1008.3 333L999.5 329.4z"/>
<path fill="#e50000" d="M1192.7 172L1183.9 167.7L1176.3 171.8z"/>
<path fill="#0025ff" d="M983.1 330.5L974.3 327.8L966.7 329.2z"/>
<path fill="#d80000" d="M1076.6 167.4L1069 169.5L1060.1 166.5z"/>
<path fill="#001fff" d="M941.4 329.5L933.8 330.6L925 330.2z"/>
<path fill="#c20000" d="M845.5 162.1L836.6 161.5L829.1 163.5z"/>
<path fill="#ea0000" d="M796.2 171.5L787.4 165L779.8 180z"/>
<path fill="#d90000" d="M1101.8 168.8L1093 165.2L1085.4 170.1z"/>
<path fill="#ffb300" d="M1013.4 287.5L1022.2 257.9L1023.5 264.4L1014.7 295z"/>
<path fill="#0026ff" d="M966.7 329.2L957.8 329.9L950.3 331.4z"/>
<path fill="#df0000" d="M1151.1 169.2L1143.5 171.9L1134.6 168.7z"/>
<path fill="#c50000" d="M829.1 163.5L820.2 164.2L812.6 164.4z"/>
<path fill="#001eff" d="M925 330.2L917.4 335.1L908.6 329.1z"/>
<path fill="#e10000" d="M1176.3 171.8L1167.5 168L1159.9 170.6z"/>
<path fill="#dd0000" d="M1085.4 170.1L1076.6 167.4L1069 169.5z"/>
<path fill="#c80000" d="M812.6 164.4L803.8 161.9L796.2 171.5z"/>
<path fill="#f40000" d="M1209.1 173.3L1201.6 179.4L1192.7 172z"/>
<path fill="#ffac00" d="M1043.7 162.6L1034.9 159.5L1036.1 165.5z"/>
<path fill="#0026ff" d="M950.3 331.4L941.4 329.5L933.8 330.6z"/>
<path fill="#d00000" d="M1060.1 166.5L1052.6 168.8L1043.7 162.6z"/>
<path fill="#ff0200" d="M1218 181.9L1209.1 173.3L1201.6 179.4z"/>
<path fill="#df0000" d="M1159.9 170.6L1151.1 169.2L1143.5 171.9z"/>
<path fill="#d50000" d="M1134.6 168.7L1127.1 170.2L1118.2 167.5z"/>
<path fill="#001eff" d="M933.8 330.6L925 330.2L917.4 335.1z"/>
<path fill="#0025ff" d="M999.5 329.4L991.9 334.5L983.1 330.5z"/>
<path fill="#002aff" d="M908.6 329.1L901 332.3L892.2 329.1z"/>
<path fill="#d70000" d="M1069 169.5L1060.1 166.5L1052.6 168.8z"/>
<path fill="#0061ff" d="M892.2 329.1L883.3 311.7L875.8 320.1z"/>
<path fill="#0071ff" d="M898.5 307.5L890.9 309.9L882.1 202z"/>
<path fill="#af0000" d="M878.3 155.8L870.7 162.3L861.9 162.9z"/>
<path fill="#0025ff" d="M983.1 330.5L975.5 336.8L966.7 329.2z"/>
<path fill="#be0000" d="M861.9 162.9L854.3 163.7L845.5 162.1z"/>
<path fill="#d50000" d="M1118.2 167.5L1110.6 170.6L1101.8 168.8z"/>
<path fill="#e90000" d="M1192.7 172L1185.1 175.8L1176.3 171.8z"/>
<path fill="#df0000" d="M1143.5 171.9L1134.6 168.7L1127.1 170.2z"/>
<path fill="#0028ff" d="M917.4 335.1L908.6 329.1L901 332.3z"/>
<path fill="#c20000" d="M845.5 162.1L837.9 170.2L829.1 163.5z"/>
<path fill="#0026ff" d="M1008.3 333L999.5 329.4L991.9 334.5z"/>
<path fill="#dd0000" d="M1101.8 168.8L1094.2 173.2L1085.4 170.1z"/>
<path fill="#ea0000" d="M1201.6 179.4L1192.7 172L1185.1 175.8z"/>
<path fill="#01fffe" d="M1029.8 198.1L1021 250.7L1022.2 257.9z"/>
<path fill="#0020ff" d="M991.9 334.5L983.1 330.5L975.5 336.8z"/>
<path fill="#0026ff" d="M966.7 329.2L959.1 335.3L950.3 331.4z"/>
<path fill="#c50000" d="M829.1 163.5L821.5 169.9L812.6 164.4z"/>
<path fill="#d70000" d="M812.6 164.4L805.1 171.4L796.2 171.5z"/>
<path fill="#e50000" d="M1176.3 171.8L1168.7 176.6L1159.9 170.6z"/>
<path fill="#bf0000" d="M1052.6 168.8L1043.7 162.6L1036.1 165.5z"/>
<path fill="#0031ff" d="M892.2 329.1L884.6 331.8L875.8 320.1z"/>
<path fill="#d20000" d="M1127.1 170.2L1118.2 167.5L1110.6 170.6z"/>
<path fill="#ad0000" d="M887.1 161.3L878.3 155.8L870.7 162.3z"/>
<path fill="#ea0000" d="M796.2 171.5L788.6 163L779.8 180z"/>
<path fill="#b40000" d="M870.7 162.3L861.9 162.9L854.3 163.7z"/>
<path fill="#ff1400" d="M1218 181.9L1210.4 187.4L1201.6 179.4z"/>
<path fill="#002bff" d="M901 332.3L892.2 329.1L884.6 331.8z"/>
<path fill="#d90000" d="M1085.4 170.1L1077.8 173.1L1069 169.5z"/>
<path fill="#01fffe" d="M1028.6 190.8L1029.8 198.1L1021 250.7z"/>
<path fill="#be0000" d="M854.3 163.7L845.5 162.1L837.9 170.2z"/>
<path fill="#d90000" d="M1110.6 170.6L1101.8 168.8L1094.2 173.2z"/>
<path fill="#0022ff" d="M975.5 336.8L966.7 329.2L959.1 335.3z"/>
<path fill="#d20000" d="M837.9 170.2L829.1 163.5L821.5 169.9z"/>
<path fill="#ea0000" d="M1185.1 175.8L1176.3 171.8L1168.7 176.6z"/>
<path fill="#002eff" d="M950.3 331.4L942.7 333.6L933.8 330.6z"/>
<path fill="#df0000" d="M1159.9 170.6L1152.3 176.3L1143.5 171.9z"/>
<path fill="#0018ff" d="M933.8 330.6L926.3 338.5L917.4 335.1z"/>
<path fill="#ad0000" d="M896 203.3L887.1 161.3L879.6 158.4z"/>
<path fill="#d70000" d="M1069 169.5L1061.4 175L1052.6 168.8z"/>
<path fill="#dd0000" d="M1094.2 173.2L1085.4 170.1L1077.8 173.1z"/>
<path fill="#d20000" d="M821.5 169.9L812.6 164.4L805.1 171.4z"/>
<path fill="#ff9c00" d="M1027.3 184.1L1036.1 165.5L1037.4 174.7L1028.6 190.8z"/>
<path fill="#0026ff" d="M959.1 335.3L950.3 331.4L942.7 333.6z"/>
<path fill="#001cff" d="M917.4 335.1L909.9 338L901 332.3z"/>
<path fill="#e60000" d="M1168.7 176.6L1159.9 170.6L1152.3 176.3z"/>
<path fill="#fd0000" d="M897.2 281L888.4 182.2L880.8 166.7z"/>
<path fill="#ff0200" d="M1201.6 179.4L1194 186.4L1185.1 175.8z"/>
<path fill="#01fffe" d="M1007.1 326.3L1015.9 301.2L1017.2 308.3L1008.3 333z"/>
<path fill="#d90000" d="M1143.5 171.9L1135.9 174.6L1127.1 170.2z"/>
<path fill="#d90000" d="M1077.8 173.1L1069 169.5L1061.4 175z"/>
<path fill="#ff1500" d="M1210.4 187.4L1201.6 179.4L1194 186.4z"/>
<path fill="#0026ff" d="M1008.3 333L1000.8 336.5L991.9 334.5z"/>
<path fill="#d70000" d="M805.1 171.4L796.2 171.5L788.6 163z"/>
<path fill="#002eff" d="M942.7 333.6L933.8 330.6L926.3 338.5z"/>
<path fill="#0018ff" d="M926.3 338.5L917.4 335.1L909.9 338z"/>
<path fill="#0020ff" d="M991.9 334.5L984.4 338.1L975.5 336.8z"/>
<path fill="#fd0000" d="M896 203.3L888.4 182.2L879.6 158.4z"/>
<path fill="#ff7900" d="M897.2 281L889.7 210.5L880.8 166.7z"/>
<path fill="#df0000" d="M1152.3 176.3L1143.5 171.9L1135.9 174.6z"/>
<path fill="#c30000" d="M1052.6 168.8L1045 170.3L1036.1 165.5z"/>
<path fill="#d20000" d="M1127.1 170.2L1119.5 176.1L1110.6 170.6z"/>
<path fill="#0061ff" d="M884.6 331.8L875.8 320.1L868.2 319.1z"/>
<path fill="#d60000" d="M837.9 170.2L830.3 174.7L821.5 169.9z"/>
<path fill="#0031ff" d="M901 332.3L893.4 334.8L884.6 331.8z"/>
<path fill="#d00000" d="M1061.4 175L1052.6 168.8L1045 170.3z"/>
<path fill="#c00000" d="M854.3 163.7L846.7 169.5L837.9 170.2z"/>
<path fill="#0022ff" d="M975.5 336.8L967.9 338.3L959.1 335.3z"/>
<path fill="#af0000" d="M870.7 162.3L863.1 166L854.3 163.7z"/>
<path fill="#ad0000" d="M887.1 161.3L879.6 158.4L870.7 162.3z"/>
<path fill="#eb0000" d="M1185.1 175.8L1177.6 180.2L1168.7 176.6z"/>
<path fill="#d80000" d="M1110.6 170.6L1103.1 175.5L1094.2 173.2z"/>
<path fill="#d70000" d="M821.5 169.9L813.9 178.1L805.1 171.4z"/>
<path fill="#d90000" d="M1135.9 174.6L1127.1 170.2L1119.5 176.1z"/>
<path fill="#0021ff" d="M1000.8 336.5L991.9 334.5L984.4 338.1z"/>
<path fill="#ed0000" d="M1194 186.4L1185.1 175.8L1177.6 180.2z"/>
<path fill="#002aff" d="M909.9 338L901 332.3L893.4 334.8z"/>
<path fill="#007cff" d="M890.9 309.9L883.3 311.7L874.5 200.2z"/>
<path fill="#ff7900" d="M898.5 307.5L889.7 210.5L882.1 202z"/>
<path fill="#ff1e00" d="M1210.4 187.4L1202.8 194.5L1194 186.4z"/>
<path fill="#d90000" d="M1094.2 173.2L1086.6 176.1L1077.8 173.1z"/>
<path fill="#0021ff" d="M984.4 338.1L975.5 336.8L967.9 338.3z"/>
<path fill="#e80000" d="M1168.7 176.6L1161.1 179.9L1152.3 176.3z"/>
<path fill="#0022ff" d="M959.1 335.3L951.5 339.4L942.7 333.6z"/>
<path fill="#d60000" d="M846.7 169.5L837.9 170.2L830.3 174.7z"/>
<path fill="#d80000" d="M1119.5 176.1L1110.6 170.6L1103.1 175.5z"/>
<path fill="#db0000" d="M830.3 174.7L821.5 169.9L813.9 178.1z"/>
<path fill="#0031ff" d="M893.4 334.8L884.6 331.8L877 338.8z"/>
<path fill="#0027ff" d="M1008.3 333L1009.6 339.7L1000.8 336.5z"/>
<path fill="#da0000" d="M1077.8 173.1L1070.2 176.9L1061.4 175z"/>
<path fill="#001cff" d="M942.7 333.6L935.1 340.7L926.3 338.5z"/>
<path fill="#0031ff" d="M884.6 331.8L877 338.8L868.2 319.1z"/>
<path fill="#b40000" d="M863.1 166L854.3 163.7L846.7 169.5z"/>
<path fill="#af0000" d="M879.6 158.4L870.7 162.3L863.1 166z"/>
<path fill="#d80000" d="M1103.1 175.5L1094.2 173.2L1086.6 176.1z"/>
<path fill="#0022ff" d="M967.9 338.3L959.1 335.3L951.5 339.4z"/>
<path fill="#eb0000" d="M1177.6 180.2L1168.7 176.6L1161.1 179.9z"/>
<path fill="#0019ff" d="M926.3 338.5L918.7 341.7L909.9 338z"/>
<path fill="#d70000" d="M813.9 178.1L805.1 171.4L797.5 174.7z"/>
<path fill="#d40000" d="M805.1 171.4L797.5 174.7L788.6 163z"/>
<path fill="#ffb300" d="M1014.7 295L1023.5 264.4L1024.8 270.7L1015.9 301.2z"/>
<path fill="#de0000" d="M1152.3 176.3L1144.7 178.6L1135.9 174.6z"/>
<path fill="#d90000" d="M1086.6 176.1L1077.8 173.1L1070.2 176.9z"/>
<path fill="#ffac00" d="M1045 170.3L1036.1 165.5L1037.4 174.7z"/>
<path fill="#0020ff" d="M951.5 339.4L942.7 333.6L935.1 340.7z"/>
<path fill="#ca0000" d="M1061.4 175L1053.8 174.7L1045 170.3z"/>
<path fill="#ff0600" d="M1194 186.4L1186.4 187.5L1177.6 180.2z"/>
<path fill="#ff1500" d="M1202.8 194.5L1194 186.4L1186.4 187.5z"/>
<path fill="#0019ff" d="M935.1 340.7L926.3 338.5L918.7 341.7z"/>
<path fill="#e60000" d="M1161.1 179.9L1152.3 176.3L1144.7 178.6z"/>
<path fill="#db0000" d="M1135.9 174.6L1128.3 178.7L1119.5 176.1z"/>
<path fill="#0021ff" d="M1000.8 336.5L993.2 343.3L984.4 338.1z"/>
<path fill="#db0000" d="M846.7 169.5L839.2 184.5L830.3 174.7z"/>
<path fill="#da0000" d="M1070.2 176.9L1061.4 175L1053.8 174.7z"/>
<path fill="#0032ff" d="M909.9 338L902.3 336.2L893.4 334.8z"/>
<path fill="#eb0000" d="M830.3 174.7L822.7 181.4L813.9 178.1z"/>
<path fill="#001eff" d="M893.4 334.8L885.9 344.7L877 338.8z"/>
<path fill="#d80000" d="M1119.5 176.1L1111.9 177.6L1103.1 175.5z"/>
<path fill="#0023ff" d="M984.4 338.1L976.8 341.2L967.9 338.3z"/>
<path fill="#db0000" d="M1144.7 178.6L1135.9 174.6L1128.3 178.7z"/>
<path fill="#be0000" d="M863.1 166L855.6 172.4L846.7 169.5z"/>
<path fill="#0027ff" d="M1009.6 339.7L1000.8 336.5L993.2 343.3z"/>
<path fill="#eb0000" d="M813.9 178.1L806.3 184.2L797.5 174.7z"/>
<path fill="#001cff" d="M918.7 341.7L909.9 338L902.3 336.2z"/>
<path fill="#ec0000" d="M839.2 184.5L830.3 174.7L822.7 181.4z"/>
<path fill="#ed0000" d="M1177.6 180.2L1170 186.5L1161.1 179.9z"/>
<path fill="#ac0000" d="M888.4 182.2L879.6 158.4L872 168.7z"/>
<path fill="#ac0000" d="M879.6 158.4L872 168.7L863.1 166z"/>
<path fill="#0020ff" d="M967.9 338.3L960.4 342.7L951.5 339.4z"/>
<path fill="#c00000" d="M855.6 172.4L846.7 169.5L839.2 184.5z"/>
<path fill="#01fffe" d="M1031.1 204.9L1022.2 257.9L1023.5 264.4z"/>
<path fill="#d80000" d="M1103.1 175.5L1095.5 177.9L1086.6 176.1z"/>
<path fill="#0021ff" d="M993.2 343.3L984.4 338.1L976.8 341.2z"/>
<path fill="#c70000" d="M1053.8 174.7L1045 170.3L1037.4 174.7z"/>
<path fill="#ec0000" d="M822.7 181.4L813.9 178.1L806.3 184.2z"/>
<path fill="#db0000" d="M1128.3 178.7L1119.5 176.1L1111.9 177.6z"/>
<path fill="#fc0000" d="M1186.4 187.5L1177.6 180.2L1170 186.5z"/>
<path fill="#007cff" d="M883.3 311.7L875.8 320.1L866.9 202.8z"/>
<path fill="#0032ff" d="M902.3 336.2L893.4 334.8L885.9 344.7z"/>
<path fill="#0020ff" d="M951.5 339.4L943.9 343L935.1 340.7z"/>
<path fill="#da0000" d="M1086.6 176.1L1079.1 180.2L1070.2 176.9z"/>
<path fill="#01fffe" d="M1029.8 198.1L1031.1 204.9L1022.2 257.9z"/>
<path fill="#af0000" d="M872 168.7L863.1 166L855.6 172.4z"/>
<path fill="#e80000" d="M1161.1 179.9L1153.6 183.9L1144.7 178.6z"/>
<path fill="#0023ff" d="M976.8 341.2L967.9 338.3L960.4 342.7z"/>
<path fill="#d20000" d="M1111.9 177.6L1103.1 175.5L1095.5 177.9z"/>
<path fill="#ff0600" d="M1202.8 194.5L1195.2 189.4L1186.4 187.5z"/>
<path fill="#001cff" d="M935.1 340.7L927.5 339.7L918.7 341.7z"/>
<path fill="#ea0000" d="M1170 186.5L1161.1 179.9L1153.6 183.9z"/>
<path fill="#da0000" d="M1070.2 176.9L1062.7 181.4L1053.8 174.7z"/>
<path fill="#0020ff" d="M960.4 342.7L951.5 339.4L943.9 343z"/>
<path fill="#ff9c00" d="M1028.6 190.8L1037.4 174.7L1038.7 181L1029.8 198.1z"/>
<path fill="#d80000" d="M1095.5 177.9L1086.6 176.1L1079.1 180.2z"/>
<path fill="#fd0000" d="M839.2 184.5L831.6 187.6L822.7 181.4z"/>
<path fill="#de0000" d="M1144.7 178.6L1137.2 182.6L1128.3 178.7z"/>
<path fill="#01fffe" d="M1008.3 333L1017.2 308.3L1018.4 314.9L1009.6 339.7z"/>
<path fill="#ff3300" d="M890.9 309.9L882.1 202L874.5 200.2z"/>
<path fill="#da0000" d="M1079.1 180.2L1070.2 176.9L1062.7 181.4z"/>
<path fill="#0027ff" d="M1009.6 339.7L1002 342.5L993.2 343.3z"/>
<path fill="#ac0000" d="M888.4 182.2L880.8 166.7L872 168.7z"/>
<path fill="#000eff" d="M902.3 336.2L894.7 350.4L885.9 344.7z"/>
<path fill="#0027ff" d="M918.7 341.7L911.1 343.1L902.3 336.2z"/>
<path fill="#0021ff" d="M943.9 343L935.1 340.7L927.5 339.7z"/>
<path fill="#ff0500" d="M1186.4 187.5L1178.8 191.2L1170 186.5z"/>
<path fill="#f70000" d="M822.7 181.4L815.2 187.1L806.3 184.2z"/>
<path fill="#001cff" d="M993.2 343.3L985.6 345.9L976.8 341.2z"/>
<path fill="#df0000" d="M1153.6 183.9L1144.7 178.6L1137.2 182.6z"/>
<path fill="#be0000" d="M855.6 172.4L848 174.7L839.2 184.5z"/>
<path fill="#c70000" d="M1053.8 174.7L1046.2 177.6L1037.4 174.7z"/>
<path fill="#d50000" d="M1128.3 178.7L1120.7 181.4L1111.9 177.6z"/>
<path fill="#0027ff" d="M927.5 339.7L918.7 341.7L911.1 343.1z"/>
<path fill="#b80000" d="M872 168.7L864.4 174.4L855.6 172.4z"/>
<path fill="#ca0000" d="M1062.7 181.4L1053.8 174.7L1046.2 177.6z"/>
<path fill="#fd0000" d="M848 174.7L839.2 184.5L831.6 187.6z"/>
<path fill="#ff0500" d="M1195.2 189.4L1186.4 187.5L1178.8 191.2z"/>
<path fill="#f70000" d="M831.6 187.6L822.7 181.4L815.2 187.1z"/>
<path fill="#0023ff" d="M976.8 341.2L969.2 345.3L960.4 342.7z"/>
<path fill="#0027ff" d="M911.1 343.1L902.3 336.2L894.7 350.4z"/>
<path fill="#d20000" d="M1111.9 177.6L1104.3 183.5L1095.5 177.9z"/>
<path fill="#001cff" d="M1002 342.5L993.2 343.3L985.6 345.9z"/>
<path fill="#db0000" d="M1137.2 182.6L1128.3 178.7L1120.7 181.4z"/>
<path fill="#007cff" d="M875.8 320.1L868.2 319.1L859.3 213.6z"/>
<path fill="#001fff" d="M960.4 342.7L952.8 347.7L943.9 343z"/>
<path fill="#ea0000" d="M1170 186.5L1162.4 185.9L1153.6 183.9z"/>
<path fill="#d50000" d="M1095.5 177.9L1087.9 182.5L1079.1 180.2z"/>
<path fill="#0023ff" d="M985.6 345.9L976.8 341.2L969.2 345.3z"/>
<path fill="#d50000" d="M1120.7 181.4L1111.9 177.6L1104.3 183.5z"/>
<path fill="#fc0000" d="M1178.8 191.2L1170 186.5L1162.4 185.9z"/>
<path fill="#b80000" d="M864.4 174.4L855.6 172.4L848 174.7z"/>
<path fill="#da0000" d="M1079.1 180.2L1071.5 183.3L1062.7 181.4z"/>
<path fill="#002aff" d="M1009.6 339.7L1010.9 346.2L1002 342.5z"/>
<path fill="#ac0000" d="M880.8 166.7L872 168.7L864.4 174.4z"/>
<path fill="#001fff" d="M969.2 345.3L960.4 342.7L952.8 347.7z"/>
<path fill="#0021ff" d="M943.9 343L936.4 348.5L927.5 339.7z"/>
<path fill="#e20000" d="M1153.6 183.9L1146 186.3L1137.2 182.6z"/>
<path fill="#d50000" d="M1104.3 183.5L1095.5 177.9L1087.9 182.5z"/>
<path fill="#ffb300" d="M1015.9 301.2L1024.8 270.7L1026 278.2L1017.2 308.3z"/>
<path fill="#0018ff" d="M952.8 347.7L943.9 343L936.4 348.5z"/>
<path fill="#ffac00" d="M1046.2 177.6L1037.4 174.7L1038.7 181z"/>
<path fill="#a30000" d="M889.7 210.5L880.8 166.7L873.2 174z"/>
<path fill="#d70000" d="M1087.9 182.5L1079.1 180.2L1071.5 183.3z"/>
<path fill="#0027ff" d="M927.5 339.7L920 347.3L911.1 343.1z"/>
<path fill="#ca0000" d="M1062.7 181.4L1055.1 181.7L1046.2 177.6z"/>
<path fill="#ff3300" d="M889.7 210.5L882.1 202L873.2 174z"/>
<path fill="#e30000" d="M1162.4 185.9L1153.6 183.9L1146 186.3z"/>
<path fill="#df0000" d="M1137.2 182.6L1129.6 187L1120.7 181.4z"/>
<path fill="#fd0000" d="M1195.2 189.4L1187.7 193.2L1178.8 191.2z"/>
<path fill="#001cff" d="M1002 342.5L994.5 349.4L985.6 345.9z"/>
<path fill="#0027ff" d="M911.1 343.1L903.5 340.6L894.7 350.4z"/>
<path fill="#f70000" d="M831.6 187.6L824 183.5L815.2 187.1z"/>
<path fill="#d70000" d="M848 174.7L840.4 184.2L831.6 187.6z"/>
<path fill="#0021ff" d="M936.4 348.5L927.5 339.7L920 347.3z"/>
<path fill="#d70000" d="M1071.5 183.3L1062.7 181.4L1055.1 181.7z"/>
<path fill="#e20000" d="M1146 186.3L1137.2 182.6L1129.6 187z"/>
<path fill="#0021ff" d="M985.6 345.9L978 348.7L969.2 345.3z"/>
<path fill="#db0000" d="M1120.7 181.4L1113.2 186.1L1104.3 183.5z"/>
<path fill="#ff1300" d="M883.3 311.7L874.5 200.2L866.9 202.8z"/>
<path fill="#ff0500" d="M1178.8 191.2L1171.2 195.6L1162.4 185.9z"/>
<path fill="#0018ff" d="M969.2 345.3L961.6 352.7L952.8 347.7z"/>
<path fill="#002aff" d="M1010.9 346.2L1002 342.5L994.5 349.4z"/>
<path fill="#b60000" d="M864.4 174.4L856.8 176.1L848 174.7z"/>
<path fill="#a30000" d="M880.8 166.7L873.2 174L864.4 174.4z"/>
<path fill="#ff0500" d="M1187.7 193.2L1178.8 191.2L1171.2 195.6z"/>
<path fill="#db0000" d="M1104.3 183.5L1096.7 186.7L1087.9 182.5z"/>
<path fill="#001cff" d="M994.5 349.4L985.6 345.9L978 348.7z"/>
<path fill="#0027ff" d="M920 347.3L911.1 343.1L903.5 340.6z"/>
<path fill="#01fffe" d="M1032.3 212.4L1023.5 264.4L1024.8 270.7z"/>
<path fill="#db0000" d="M1129.6 187L1120.7 181.4L1113.2 186.1z"/>
<path fill="#d70000" d="M840.4 184.2L831.6 187.6L824 183.5z"/>
<path fill="#c50000" d="M1055.1 181.7L1046.2 177.6L1038.7 181z"/>
<path fill="#0018ff" d="M952.8 347.7L945.2 350.5L936.4 348.5z"/>
<path fill="#01fffe" d="M1031.1 204.9L1032.3 212.4L1023.5 264.4z"/>
<path fill="#0021ff" d="M978 348.7L969.2 345.3L961.6 352.7z"/>
<path fill="#e30000" d="M1162.4 185.9L1154.8 194L1146 186.3z"/>
<path fill="#d70000" d="M1087.9 182.5L1080.3 187.1L1071.5 183.3z"/>
<path fill="#db0000" d="M1113.2 186.1L1104.3 183.5L1096.7 186.7z"/>
<path fill="#b60000" d="M856.8 176.1L848 174.7L840.4 184.2z"/>
<path fill="#ac0000" d="M873.2 174L864.4 174.4L856.8 176.1z"/>
<path fill="#fc0000" d="M1171.2 195.6L1162.4 185.9L1154.8 194z"/>
<path fill="#0018ff" d="M961.6 352.7L952.8 347.7L945.2 350.5z"/>
<path fill="#001fff" d="M936.4 348.5L928.8 350.9L920 347.3z"/>
<path fill="#d70000" d="M1071.5 183.3L1063.9 187.2L1055.1 181.7z"/>
<path fill="#e30000" d="M1146 186.3L1138.4 191.8L1129.6 187z"/>
<path fill="#da0000" d="M1096.7 186.7L1087.9 182.5L1080.3 187.1z"/>
<path fill="#ff9c00" d="M1029.8 198.1L1038.7 181L1039.9 187.1L1031.1 204.9z"/>
<path fill="#001eff" d="M945.2 350.5L936.4 348.5L928.8 350.9z"/>
<path fill="#01fffe" d="M1009.6 339.7L1018.4 314.9L1019.7 322.6L1010.9 346.2z"/>
<path fill="#001cff" d="M1010.9 346.2L1003.3 352.4L994.5 349.4z"/>
<path fill="#ec0000" d="M1154.8 194L1146 186.3L1138.4 191.8z"/>
<path fill="#d70000" d="M1080.3 187.1L1071.5 183.3L1063.9 187.2z"/>
<path fill="#0021ff" d="M920 347.3L912.4 353.5L903.5 340.6z"/>
<path fill="#001bff" d="M994.5 349.4L986.9 354.5L978 348.7z"/>
<path fill="#ff3500" d="M875.8 320.1L866.9 202.8L859.3 213.6z"/>
<path fill="#dd0000" d="M1129.6 187L1122 189.7L1113.2 186.1z"/>
<path fill="#ca0000" d="M1055.1 181.7L1047.5 186.1L1038.7 181z"/>
<path fill="#001fff" d="M928.8 350.9L920 347.3L912.4 353.5z"/>
<path fill="#fd0000" d="M1187.7 193.2L1180.1 193.6L1171.2 195.6z"/>
<path fill="#e30000" d="M1138.4 191.8L1129.6 187L1122 189.7z"/>
<path fill="#fc0000" d="M1171.2 195.6L1163.7 197.2L1154.8 194z"/>
<path fill="#0021ff" d="M978 348.7L970.5 351.4L961.6 352.7z"/>
<path fill="#db0000" d="M1113.2 186.1L1105.6 191L1096.7 186.7z"/>
<path fill="#ce0000" d="M1063.9 187.2L1055.1 181.7L1047.5 186.1z"/>
<path fill="#001bff" d="M1003.3 352.4L994.5 349.4L986.9 354.5z"/>
<path fill="#a30000" d="M882.1 202L873.2 174L865.7 171z"/>
<path fill="#d00000" d="M840.4 184.2L832.8 184.7L824 183.5z"/>
<path fill="#b10000" d="M856.8 176.1L849.3 180.7L840.4 184.2z"/>
<path fill="#001eff" d="M961.6 352.7L954 353.1L945.2 350.5z"/>
<path fill="#da0000" d="M1096.7 186.7L1089.2 189.7L1080.3 187.1z"/>
<path fill="#dd0000" d="M1122 189.7L1113.2 186.1L1105.6 191z"/>
<path fill="#0021ff" d="M986.9 354.5L978 348.7L970.5 351.4z"/>
<path fill="#a30000" d="M873.2 174L865.7 171L856.8 176.1z"/>
<path fill="#fc0000" d="M1180.1 193.6L1171.2 195.6L1163.7 197.2z"/>
<path fill="#ff1300" d="M882.1 202L874.5 200.2L865.7 171z"/>
<path fill="#ed0000" d="M1154.8 194L1147.3 195.2L1138.4 191.8z"/>
<path fill="#002aff" d="M1010.9 346.2L1012.1 352.8L1003.3 352.4z"/>
<path fill="#c50000" d="M849.3 180.7L840.4 184.2L832.8 184.7z"/>
<path fill="#0021ff" d="M970.5 351.4L961.6 352.7L954 353.1z"/>
<path fill="#d70000" d="M1080.3 187.1L1072.8 189.4L1063.9 187.2z"/>
<path fill="#001fff" d="M945.2 350.5L937.6 350.9L928.8 350.9z"/>
<path fill="#db0000" d="M1105.6 191L1096.7 186.7L1089.2 189.7z"/>
<path fill="#ffb300" d="M1017.2 308.3L1026 278.2L1027.3 285.4L1018.4 314.9z"/>
<path fill="#fc0000" d="M1163.7 197.2L1154.8 194L1147.3 195.2z"/>
<path fill="#ffac00" d="M1047.5 186.1L1038.7 181L1039.9 187.1z"/>
<path fill="#001fff" d="M928.8 350.9L921.2 347.9L912.4 353.5z"/>
<path fill="#e40000" d="M1138.4 191.8L1130.8 194.1L1122 189.7z"/>
<path fill="#ac0000" d="M865.7 171L856.8 176.1L849.3 180.7z"/>
<path fill="#d60000" d="M1089.2 189.7L1080.3 187.1L1072.8 189.4z"/>
<path fill="#0021ff" d="M954 353.1L945.2 350.5L937.6 350.9z"/>
<path fill="#ce0000" d="M1063.9 187.2L1056.3 187.4L1047.5 186.1z"/>
<path fill="#001cff" d="M1003.3 352.4L995.7 355.3L986.9 354.5z"/>
<path fill="#ec0000" d="M1147.3 195.2L1138.4 191.8L1130.8 194.1z"/>
<path fill="#df0000" d="M1122 189.7L1114.4 193.8L1105.6 191z"/>
<path fill="#d20000" d="M1072.8 189.4L1063.9 187.2L1056.3 187.4z"/>
<path fill="#0022ff" d="M986.9 354.5L979.3 355.5L970.5 351.4z"/>
<path fill="#fc0000" d="M1180.1 193.6L1172.5 204L1163.7 197.2z"/>
<path fill="#0031ff" d="M937.6 350.9L928.8 350.9L921.2 347.9z"/>
<path fill="#0020ff" d="M1012.1 352.8L1003.3 352.4L995.7 355.3z"/>
<path fill="#fc0000" d="M1163.7 197.2L1156.1 206.3L1147.3 195.2z"/>
<path fill="#df0000" d="M1105.6 191L1098 194.4L1089.2 189.7z"/>
<path fill="#c50000" d="M849.3 180.7L841.7 189.9L832.8 184.7z"/>
<path fill="#df0000" d="M1130.8 194.1L1122 189.7L1114.4 193.8z"/>
<path fill="#0020ff" d="M995.7 355.3L986.9 354.5L979.3 355.5z"/>
<path fill="#0025ff" d="M970.5 351.4L962.9 355.6L954 353.1z"/>
<path fill="#01fffe" d="M1033.6 218.9L1024.8 270.7L1026 278.2z"/>
<path fill="#ff1100" d="M1172.5 204L1163.7 197.2L1156.1 206.3z"/>
<path fill="#c30000" d="M1056.3 187.4L1047.5 186.1L1039.9 187.1z"/>
<path fill="#970000" d="M874.5 200.2L865.7 171L858.1 179.4z"/>
<path fill="#df0000" d="M1114.4 193.8L1105.6 191L1098 194.4z"/>
<path fill="#01fffe" d="M1032.3 212.4L1033.6 218.9L1024.8 270.7z"/>
<path fill="#d60000" d="M1089.2 189.7L1081.6 194.4L1072.8 189.4z"/>
<path fill="#0026ff" d="M954 353.1L946.5 355.9L937.6 350.9z"/>
<path fill="#970000" d="M865.7 171L858.1 179.4L849.3 180.7z"/>
<path fill="#0025ff" d="M979.3 355.5L970.5 351.4L962.9 355.6z"/>
<path fill="#ff0c00" d="M874.5 200.2L866.9 202.8L858.1 179.4z"/>
<path fill="#ea0000" d="M1147.3 195.2L1139.7 198.4L1130.8 194.1z"/>
<path fill="#b10000" d="M858.1 179.4L849.3 180.7L841.7 189.9z"/>
<path fill="#dc0000" d="M1098 194.4L1089.2 189.7L1081.6 194.4z"/>
<path fill="#ed0000" d="M1156.1 206.3L1147.3 195.2L1139.7 198.4z"/>
<path fill="#d20000" d="M1072.8 189.4L1065.2 195.6L1056.3 187.4z"/>
<path fill="#ff9c00" d="M1031.1 204.9L1039.9 187.1L1041.2 194.3L1032.3 212.4z"/>
<path fill="#0025ff" d="M962.9 355.6L954 353.1L946.5 355.9z"/>
<path fill="#01fffe" d="M1010.9 346.2L1019.7 322.6L1021 328.6L1012.1 352.8z"/>
<path fill="#dc0000" d="M1081.6 194.4L1072.8 189.4L1065.2 195.6z"/>
<path fill="#ff1c00" d="M1172.5 204L1164.9 209.5L1156.1 206.3z"/>
<path fill="#002bff" d="M1012.1 352.8L1004.5 356.7L995.7 355.3z"/>
<path fill="#e10000" d="M1130.8 194.1L1123.3 197.4L1114.4 193.8z"/>
<path fill="#0042ff" d="M937.6 350.9L930 351.7L921.2 347.9z"/>
<path fill="#0020ff" d="M995.7 355.3L988.1 359.8L979.3 355.5z"/>
<path fill="#0031ff" d="M946.5 355.9L937.6 350.9L930 351.7z"/>
<path fill="#df0000" d="M1114.4 193.8L1106.8 198.9L1098 194.4z"/>
<path fill="#be0000" d="M1056.3 187.4L1048.8 189.6L1039.9 187.1z"/>
<path fill="#e40000" d="M1139.7 198.4L1130.8 194.1L1123.3 197.4z"/>
<path fill="#c30000" d="M1065.2 195.6L1056.3 187.4L1048.8 189.6z"/>
<path fill="#0025ff" d="M979.3 355.5L971.7 357.2L962.9 355.6z"/>
<path fill="#0020ff" d="M1004.5 356.7L995.7 355.3L988.1 359.8z"/>
<path fill="#df0000" d="M1098 194.4L1090.4 199.9L1081.6 194.4z"/>
<path fill="#ff0100" d="M1156.1 206.3L1148.5 205.4L1139.7 198.4z"/>
<path fill="#e10000" d="M1123.3 197.4L1114.4 193.8L1106.8 198.9z"/>
<path fill="#ac0000" d="M858.1 179.4L850.5 186.7L841.7 189.9z"/>
<path fill="#ff1c00" d="M1164.9 209.5L1156.1 206.3L1148.5 205.4z"/>
<path fill="#ac0000" d="M866.9 202.8L858.1 179.4L850.5 186.7z"/>
<path fill="#0022ff" d="M988.1 359.8L979.3 355.5L971.7 357.2z"/>
<path fill="#ff0c00" d="M866.9 202.8L859.3 213.6L850.5 186.7z"/>
<path fill="#e70000" d="M1106.8 198.9L1098 194.4L1090.4 199.9z"/>
<path fill="#0026ff" d="M962.9 355.6L955.3 356.1L946.5 355.9z"/>
<path fill="#dc0000" d="M1081.6 194.4L1074 197.8L1065.2 195.6z"/>
<path fill="#002bff" d="M1012.1 352.8L1013.4 362L1004.5 356.7z"/>
<path fill="#ffb300" d="M1018.4 314.9L1027.3 285.4L1028.5 292.2L1019.7 322.6z"/>
<path fill="#dc0000" d="M1090.4 199.9L1081.6 194.4L1074 197.8z"/>
<path fill="#ea0000" d="M1139.7 198.4L1132.1 204.4L1123.3 197.4z"/>
<path fill="#002eff" d="M971.7 357.2L962.9 355.6L955.3 356.1z"/>
<path fill="#0038ff" d="M946.5 355.9L938.9 356.6L930 351.7z"/>
<path fill="#ffac00" d="M1048.8 189.6L1039.9 187.1L1041.2 194.3z"/>
<path fill="#d00000" d="M1065.2 195.6L1057.6 196.6L1048.8 189.6z"/>
<path fill="#f70000" d="M1148.5 205.4L1139.7 198.4L1132.1 204.4z"/>
<path fill="#0025ff" d="M1004.5 356.7L997 361.5L988.1 359.8z"/>
<path fill="#da0000" d="M1074 197.8L1065.2 195.6L1057.6 196.6z"/>
<path fill="#0038ff" d="M955.3 356.1L946.5 355.9L938.9 356.6z"/>
<path fill="#e40000" d="M1123.3 197.4L1115.7 201.6L1106.8 198.9z"/>
<path fill="#ff1c00" d="M1164.9 209.5L1157.3 213.8L1148.5 205.4z"/>
<path fill="#001cff" d="M988.1 359.8L980.6 363.8L971.7 357.2z"/>
<path fill="#e70000" d="M1106.8 198.9L1099.3 200.7L1090.4 199.9z"/>
<path fill="#e40000" d="M1132.1 204.4L1123.3 197.4L1115.7 201.6z"/>
<path fill="#0025ff" d="M1013.4 362L1004.5 356.7L997 361.5z"/>
<path fill="#01fffe" d="M1034.9 225.9L1026 278.2L1027.3 285.4z"/>
<path fill="#001cff" d="M997 361.5L988.1 359.8L980.6 363.8z"/>
<path fill="#e40000" d="M1090.4 199.9L1082.8 202.6L1074 197.8z"/>
<path fill="#c00000" d="M1057.6 196.6L1048.8 189.6L1041.2 194.3z"/>
<path fill="#e40000" d="M1115.7 201.6L1106.8 198.9L1099.3 200.7z"/>
<path fill="#002eff" d="M971.7 357.2L964.1 362.3L955.3 356.1z"/>
<path fill="#01fffe" d="M1033.6 218.9L1034.9 225.9L1026 278.2z"/>
<path fill="#f70000" d="M1148.5 205.4L1140.9 206.2L1132.1 204.4z"/>
<path fill="#0026ff" d="M980.6 363.8L971.7 357.2L964.1 362.3z"/>
<path fill="#0038ff" d="M955.3 356.1L947.7 365.6L938.9 356.6z"/>
<path fill="#e40000" d="M1099.3 200.7L1090.4 199.9L1082.8 202.6z"/>
<path fill="#ff0100" d="M1157.3 213.8L1148.5 205.4L1140.9 206.2z"/>
<path fill="#d70000" d="M1074 197.8L1066.4 201L1057.6 196.6z"/>
<path fill="#ff9c00" d="M1032.3 212.4L1041.2 194.3L1042.4 202.1L1033.6 218.9z"/>
<path fill="#0026ff" d="M964.1 362.3L955.3 356.1L947.7 365.6z"/>
<path fill="#ee0000" d="M1132.1 204.4L1124.5 206.6L1115.7 201.6z"/>
<path fill="#01fffe" d="M1012.1 352.8L1021 328.6L1022.2 336.1L1013.4 362z"/>
<path fill="#da0000" d="M1082.8 202.6L1074 197.8L1066.4 201z"/>
<path fill="#0025ff" d="M1013.4 362L1005.8 364.5L997 361.5z"/>
<path fill="#ef0000" d="M1140.9 206.2L1132.1 204.4L1124.5 206.6z"/>
<path fill="#c50000" d="M1057.6 196.6L1050 198.5L1041.2 194.3z"/>
<path fill="#0025ff" d="M997 361.5L989.4 362.9L980.6 363.8z"/>
<path fill="#e40000" d="M1115.7 201.6L1108.1 206.9L1099.3 200.7z"/>
<path fill="#ff1f00" d="M1157.3 213.8L1149.8 221.6L1140.9 206.2z"/>
<path fill="#001aff" d="M980.6 363.8L973 369.1L964.1 362.3z"/>
<path fill="#d00000" d="M1066.4 201L1057.6 196.6L1050 198.5z"/>
<path fill="#ed0000" d="M1124.5 206.6L1115.7 201.6L1108.1 206.9z"/>
<path fill="#e40000" d="M1099.3 200.7L1091.7 206.8L1082.8 202.6z"/>
<path fill="#0026ff" d="M1005.8 364.5L997 361.5L989.4 362.9z"/>
<path fill="#0026ff" d="M964.1 362.3L956.6 363.9L947.7 365.6z"/>
<path fill="#001aff" d="M989.4 362.9L980.6 363.8L973 369.1z"/>
<path fill="#e90000" d="M1108.1 206.9L1099.3 200.7L1091.7 206.8z"/>
<path fill="#e40000" d="M1082.8 202.6L1075.3 206.4L1066.4 201z"/>
<path fill="#0026ff" d="M1013.4 362L1014.6 367.6L1005.8 364.5z"/>
<path fill="#0026ff" d="M973 369.1L964.1 362.3L956.6 363.9z"/>
<path fill="#e40000" d="M1091.7 206.8L1082.8 202.6L1075.3 206.4z"/>
<path fill="#ffb300" d="M1019.7 322.6L1028.5 292.2L1029.8 299.2L1021 328.6z"/>
<path fill="#f10000" d="M1149.8 221.6L1140.9 206.2L1133.4 210.3z"/>
<path fill="#ef0000" d="M1140.9 206.2L1133.4 210.3L1124.5 206.6z"/>
<path fill="#ffac00" d="M1050 198.5L1041.2 194.3L1042.4 202.1z"/>
<path fill="#d10000" d="M1066.4 201L1058.9 203.7L1050 198.5z"/>
<path fill="#ed0000" d="M1124.5 206.6L1116.9 208.7L1108.1 206.9z"/>
<path fill="#d70000" d="M1075.3 206.4L1066.4 201L1058.9 203.7z"/>
<path fill="#002bff" d="M1005.8 364.5L998.2 367.3L989.4 362.9z"/>
<path fill="#0023ff" d="M989.4 362.9L981.8 369.4L973 369.1z"/>
<path fill="#e90000" d="M1108.1 206.9L1100.5 208L1091.7 206.8z"/>
<path fill="#ee0000" d="M1133.4 210.3L1124.5 206.6L1116.9 208.7z"/>
<path fill="#0027ff" d="M1014.6 367.6L1005.8 364.5L998.2 367.3z"/>
<path fill="#fb0000" d="M1149.8 221.6L1142.2 215.2L1133.4 210.3z"/>
<path fill="#01fffe" d="M1036.1 232.3L1027.3 285.4L1028.5 292.2z"/>
<path fill="#c50000" d="M1058.9 203.7L1050 198.5L1042.4 202.1z"/>
<path fill="#002cff" d="M973 369.1L965.4 368.3L956.6 363.9z"/>
<path fill="#e40000" d="M1091.7 206.8L1084.1 209.2L1075.3 206.4z"/>
<path fill="#e50000" d="M1116.9 208.7L1108.1 206.9L1100.5 208z"/>
<path fill="#002bff" d="M998.2 367.3L989.4 362.9L981.8 369.4z"/>
<path fill="#01fffe" d="M1034.9 225.9L1036.1 232.3L1027.3 285.4z"/>
<path fill="#0023ff" d="M981.8 369.4L973 369.1L965.4 368.3z"/>
<path fill="#e10000" d="M1100.5 208L1091.7 206.8L1084.1 209.2z"/>
<path fill="#d60000" d="M1075.3 206.4L1067.7 207.8L1058.9 203.7z"/>
<path fill="#ff9c00" d="M1033.6 218.9L1042.4 202.1L1043.7 209L1034.9 225.9z"/>
<path fill="#01fffe" d="M1013.4 362L1022.2 336.1L1023.5 342.7L1014.6 367.6z"/>
<path fill="#ee0000" d="M1133.4 210.3L1125.8 213.4L1116.9 208.7z"/>
<path fill="#e10000" d="M1084.1 209.2L1075.3 206.4L1067.7 207.8z"/>
<path fill="#0027ff" d="M1014.6 367.6L1007.1 372.6L998.2 367.3z"/>
<path fill="#c90000" d="M1058.9 203.7L1051.3 206L1042.4 202.1z"/>
<path fill="#f10000" d="M1142.2 215.2L1133.4 210.3L1125.8 213.4z"/>
<path fill="#e50000" d="M1116.9 208.7L1109.4 214.3L1100.5 208z"/>
<path fill="#0023ff" d="M998.2 367.3L990.7 372.6L981.8 369.4z"/>
<path fill="#d10000" d="M1067.7 207.8L1058.9 203.7L1051.3 206z"/>
<path fill="#ee0000" d="M1125.8 213.4L1116.9 208.7L1109.4 214.3z"/>
<path fill="#e10000" d="M1100.5 208L1092.9 214.2L1084.1 209.2z"/>
<path fill="#0022ff" d="M1007.1 372.6L998.2 367.3L990.7 372.6z"/>
<path fill="#002cff" d="M981.8 369.4L974.2 370L965.4 368.3z"/>
<path fill="#fb0000" d="M1142.2 215.2L1134.6 227.3L1125.8 213.4z"/>
<path fill="#ec0000" d="M1109.4 214.3L1100.5 208L1092.9 214.2z"/>
<path fill="#0025ff" d="M1014.6 367.6L1015.9 374.8L1007.1 372.6z"/>
<path fill="#e10000" d="M1084.1 209.2L1076.5 213L1067.7 207.8z"/>
<path fill="#0023ff" d="M990.7 372.6L981.8 369.4L974.2 370z"/>
<path fill="#e20000" d="M1092.9 214.2L1084.1 209.2L1076.5 213z"/>
<path fill="#ffb300" d="M1021 328.6L1029.8 299.2L1031.1 306.3L1022.2 336.1z"/>
<path fill="#ffac00" d="M1051.3 206L1042.4 202.1L1043.7 209z"/>
<path fill="#cd0000" d="M1067.7 207.8L1060.1 210L1051.3 206z"/>
<path fill="#ee0000" d="M1125.8 213.4L1118.2 217.1L1109.4 214.3z"/>
<path fill="#ee0000" d="M1134.6 227.3L1125.8 213.4L1118.2 217.1z"/>
<path fill="#d60000" d="M1076.5 213L1067.7 207.8L1060.1 210z"/>
<path fill="#f00000" d="M1109.4 214.3L1101.8 219.4L1092.9 214.2z"/>
<path fill="#0022ff" d="M1007.1 372.6L999.5 370.5L990.7 372.6z"/>
<path fill="#f00000" d="M1118.2 217.1L1109.4 214.3L1101.8 219.4z"/>
<path fill="#0035ff" d="M990.7 372.6L983.1 372.5L974.2 370z"/>
<path fill="#0025ff" d="M1015.9 374.8L1007.1 372.6L999.5 370.5z"/>
<path fill="#01fffe" d="M1037.4 240.2L1028.5 292.2L1029.8 299.2z"/>
<path fill="#e40000" d="M1092.9 214.2L1085.4 216.6L1076.5 213z"/>
<path fill="#c90000" d="M1060.1 210L1051.3 206L1043.7 209z"/>
<path fill="#ff2c00" d="M1134.6 227.3L1127 231.4L1118.2 217.1z"/>
<path fill="#01fffe" d="M1036.1 232.3L1037.4 240.2L1028.5 292.2z"/>
<path fill="#ec0000" d="M1101.8 219.4L1092.9 214.2L1085.4 216.6z"/>
<path fill="#0038ff" d="M999.5 370.5L990.7 372.6L983.1 372.5z"/>
<path fill="#d90000" d="M1076.5 213L1069 215.2L1060.1 210z"/>
<path fill="#ff9c00" d="M1034.9 225.9L1043.7 209L1045 216.3L1036.1 232.3z"/>
<path fill="#e20000" d="M1085.4 216.6L1076.5 213L1069 215.2z"/>
<path fill="#00ffff" d="M1014.6 367.6L1023.5 342.7L1024.7 345L1015.9 374.8z"/>
<path fill="#ed0000" d="M1118.2 217.1L1110.6 220L1101.8 219.4z"/>
<path fill="#cd0000" d="M1060.1 210L1052.5 213.7L1043.7 209z"/>
<path fill="#0029ff" d="M1015.9 374.8L1008.3 377.9L999.5 370.5z"/>
<path fill="#ed0000" d="M1127 231.4L1118.2 217.1L1110.6 220z"/>
<path fill="#f70000" d="M1101.8 219.4L1094.2 226.3L1085.4 216.6z"/>
<path fill="#cd0000" d="M1069 215.2L1060.1 210L1052.5 213.7z"/>
<path fill="#f70000" d="M1110.6 220L1101.8 219.4L1094.2 226.3z"/>
<path fill="#003eff" d="M999.5 370.5L991.9 374.8L983.1 372.5z"/>
<path fill="#e40000" d="M1085.4 216.6L1077.8 221.8L1069 215.2z"/>
<path fill="#ec0000" d="M1094.2 226.3L1085.4 216.6L1077.8 221.8z"/>
<path fill="#003eff" d="M1008.3 377.9L999.5 370.5L991.9 374.8z"/>
<path fill="#ff1700" d="M1127 231.4L1119.5 231.2L1110.6 220z"/>
<path fill="#ffb400" d="M1022.2 336.1L1031.1 306.3L1032.3 312.1L1023.5 342.7z"/>
<path fill="#ffac00" d="M1052.5 213.7L1043.7 209L1045 216.3z"/>
<path fill="#0029ff" d="M1015.9 374.8L1017.2 370.8L1008.3 377.9z"/>
<path fill="#d90000" d="M1069 215.2L1061.4 218.9L1052.5 213.7z"/>
<path fill="#ff0a00" d="M1110.6 220L1103 229.9L1094.2 226.3z"/>
<path fill="#d90000" d="M1077.8 221.8L1069 215.2L1061.4 218.9z"/>
<path fill="#ff0d00" d="M1119.5 231.2L1110.6 220L1103 229.9z"/>
<path fill="#f80000" d="M1094.2 226.3L1086.6 227L1077.8 221.8z"/>
<path fill="#ff0a00" d="M1103 229.9L1094.2 226.3L1086.6 227z"/>
<path fill="#cd0000" d="M1061.4 218.9L1052.5 213.7L1045 216.3z"/>
<path fill="#01fffe" d="M1038.6 246.4L1029.8 299.2L1031.1 306.3z"/>
<path fill="#003eff" d="M1008.3 377.9L1000.8 370.2L991.9 374.8z"/>
<path fill="#01fffe" d="M1037.4 240.2L1038.6 246.4L1029.8 299.2z"/>
<path fill="#ec0000" d="M1077.8 221.8L1070.2 225.5L1061.4 218.9z"/>
<path fill="#ec0000" d="M1086.6 227L1077.8 221.8L1070.2 225.5z"/>
<path fill="#ff9c00" d="M1036.1 232.3L1045 216.3L1046.2 223.5L1037.4 240.2z"/>
<path fill="#ff0d00" d="M1119.5 231.2L1111.9 228.2L1103 229.9z"/>
<path fill="#0064ff" d="M1017.2 370.8L1008.3 377.9L1000.8 370.2z"/>
<path fill="#ce0000" d="M1061.4 218.9L1053.8 220.8L1045 216.3z"/>
<path fill="#f80000" d="M1103 229.9L1095.5 229L1086.6 227z"/>
<path fill="#d90000" d="M1070.2 225.5L1061.4 218.9L1053.8 220.8z"/>
<path fill="#f10000" d="M1111.9 228.2L1103 229.9L1095.5 229z"/>
<path fill="#f50000" d="M1086.6 227L1079 230.2L1070.2 225.5z"/>
<path fill="#00faff" d="M1015.9 374.8L1024.7 345L1026 330.5L1017.2 370.8z"/>
<path fill="#f50000" d="M1095.5 229L1086.6 227L1079 230.2z"/>
<path fill="#d80000" d="M1070.2 225.5L1062.6 225.8L1053.8 220.8z"/>
<path fill="#ffac00" d="M1053.8 220.8L1045 216.3L1046.2 223.5z"/>
<path fill="#ec0000" d="M1079 230.2L1070.2 225.5L1062.6 225.8z"/>
<path fill="#006bff" d="M1017.2 370.8L1009.6 363.2L1000.8 370.2z"/>
<path fill="#ffbb00" d="M1023.5 342.7L1032.3 312.1L1033.6 310.8L1024.7 345z"/>
<path fill="#f10000" d="M1111.9 228.2L1104.3 236.9L1095.5 229z"/>
<path fill="#f50000" d="M1095.5 229L1087.9 239.1L1079 230.2z"/>
<path fill="#ff0d00" d="M1104.3 236.9L1095.5 229L1087.9 239.1z"/>
<path fill="#ce0000" d="M1062.6 225.8L1053.8 220.8L1046.2 223.5z"/>
<path fill="#03fffc" d="M1039.9 253.7L1031.1 306.3L1032.3 312.1z"/>
<path fill="#ed0000" d="M1079 230.2L1071.5 232.6L1062.6 225.8z"/>
<path fill="#01fffe" d="M1038.6 246.4L1039.9 253.7L1031.1 306.3z"/>
<path fill="#f50000" d="M1087.9 239.1L1079 230.2L1071.5 232.6z"/>
<path fill="#ff9c00" d="M1037.4 240.2L1046.2 223.5L1047.5 231.3L1038.6 246.4z"/>
<path fill="#ff1700" d="M1104.3 236.9L1096.7 245.7L1087.9 239.1z"/>
<path fill="#d10000" d="M1062.6 225.8L1055.1 228.3L1046.2 223.5z"/>
<path fill="#d80000" d="M1071.5 232.6L1062.6 225.8L1055.1 228.3z"/>
<path fill="#00a5ff" d="M1017.2 370.8L1018.4 346.4L1009.6 363.2z"/>
<path fill="#ff0600" d="M1087.9 239.1L1080.3 239.9L1071.5 232.6z"/>
<path fill="#ff1700" d="M1096.7 245.7L1087.9 239.1L1080.3 239.9z"/>
<path fill="#eb0000" d="M1071.5 232.6L1063.9 235.9L1055.1 228.3z"/>
<path fill="#ed0000" d="M1080.3 239.9L1071.5 232.6L1063.9 235.9z"/>
<path fill="#ffac00" d="M1055.1 228.3L1046.2 223.5L1047.5 231.3z"/>
<path fill="#ff2300" d="M1096.7 245.7L1089.1 248.2L1080.3 239.9z"/>
<path fill="#d10000" d="M1063.9 235.9L1055.1 228.3L1047.5 231.3z"/>
<path fill="#ff0600" d="M1080.3 239.9L1072.7 245.5L1063.9 235.9z"/>
<path fill="#ff1100" d="M1089.1 248.2L1080.3 239.9L1072.7 245.5z"/>
<path fill="#03fffc" d="M1039.9 253.7L1041.2 261L1032.3 312.1z"/>
<path fill="#14ffeb" d="M1041.2 261L1032.3 312.1L1033.6 310.8z"/>
<path fill="#ff9c00" d="M1038.6 246.4L1047.5 231.3L1048.7 240.5L1039.9 253.7z"/>
<path fill="#ffda00" d="M1024.7 345L1033.6 310.8L1034.8 298L1026 330.5z"/>
<path fill="#eb0000" d="M1072.7 245.5L1063.9 235.9L1056.3 236.4z"/>
<path fill="#d80000" d="M1063.9 235.9L1056.3 236.4L1047.5 231.3z"/>
<path fill="#ff1100" d="M1089.1 248.2L1081.6 246.6L1072.7 245.5z"/>
<path fill="#18ffe7" d="M1017.2 370.8L1026 330.5L1027.3 303.9L1018.4 346.4z"/>
<path fill="#e10000" d="M1072.7 245.5L1065.2 241.2L1056.3 236.4z"/>
<path fill="#ffab00" d="M1056.3 236.4L1047.5 231.3L1048.7 240.5z"/>
<path fill="#ff0400" d="M1081.6 246.6L1072.7 245.5L1065.2 241.2z"/>
<path fill="#da0000" d="M1065.2 241.2L1056.3 236.4L1048.7 240.5z"/>
<path fill="#ff0400" d="M1081.6 246.6L1074 252.3L1065.2 241.2z"/>
<path fill="#ff9a00" d="M1039.9 253.7L1048.7 240.5L1050 249.3L1041.2 261z"/>
<path fill="#1cffe3" d="M1041.2 261L1042.4 267L1033.6 310.8z"/>
<path fill="#da0000" d="M1065.2 241.2L1057.6 243.1L1048.7 240.5z"/>
<path fill="#e10000" d="M1074 252.3L1065.2 241.2L1057.6 243.1z"/>
<path fill="#74ff8b" d="M1042.4 267L1033.6 310.8L1034.8 298z"/>
<path fill="#ff1000" d="M1074 252.3L1066.4 257.4L1057.6 243.1z"/>
<path fill="#ffa500" d="M1057.6 243.1L1048.7 240.5L1050 249.3z"/>
<path fill="#e40000" d="M1066.4 257.4L1057.6 243.1L1050 249.3z"/>
<path fill="#ffe000" d="M1026 330.5L1034.8 298L1036.1 292.1L1027.3 303.9z"/>
<path fill="#ff0400" d="M1066.4 257.4L1058.8 257.8L1050 249.3z"/>
<path fill="#ff8900" d="M1041.2 261L1050 249.3L1051.3 256.5L1042.4 267z"/>
<path fill="#95ff6a" d="M1042.4 267L1043.7 273.8L1034.8 298z"/>
<path fill="#ff8d00" d="M1058.8 257.8L1050 249.3L1051.3 256.5z"/>
<path fill="#ffc900" d="M1043.7 273.8L1034.8 298L1036.1 292.1z"/>
<path fill="#ff6200" d="M1051.3 256.5L1042.4 267L1043.7 273.8z"/>
</g>
<path d="M753.3 312.4L753.3 120.6" stroke="#262626" stroke-width="1.2" fill="none"/>
<path d="M753.3 312.4L1036.1 414.6" stroke="#262626" stroke-width="1.2" fill="none"/>
<path d="M1036.1 414.6L1278.6 294.8" stroke="#262626" stroke-width="1.2" fill="none"/>
<path d="M753.3 289.4L746.2 286.9" stroke="#262626" stroke-width="1.2" fill="none"/>
<path d="M753.3 222.7L746.2 220.1" stroke="#262626" stroke-width="1.2" fill="none"/>
<path d="M753.3 155.9L746.2 153.4" stroke="#262626" stroke-width="1.2" fill="none"/>
<path d="M1036.1 414.6L1029.3 418" stroke="#262626" stroke-width="1.2" fill="none"/>
<path d="M894.7 363.5L887.9 366.9" stroke="#262626" stroke-width="1.2" fill="none"/>
<path d="M753.3 312.4L746.5 315.8" stroke="#262626" stroke-width="1.2" fill="none"/>
<path d="M1278.6 294.8L1285.7 297.4" stroke="#262626" stroke-width="1.2" fill="none"/>
<path d="M1157.3 354.7L1164.5 357.3" stroke="#262626" stroke-width="1.2" fill="none"/>
<path d="M1036.1 414.6L1043.2 417.2" stroke="#262626" stroke-width="1.2" fill="none"/>
<g font-size="16" fill="#262626"><text x="739.3" y="292.1" text-anchor="end">1</text>
<text x="739.3" y="225.4" text-anchor="end">1.5</text>
<text x="739.3" y="158.6" text-anchor="end">2</text>
<text x="1022.1" y="437.1" text-anchor="end">0</text>
<text x="880.7" y="386" text-anchor="end">0.5</text>
<text x="739.3" y="334.9" text-anchor="end">1</text>
<text x="1291.6" y="316.3">0</text>
<text x="1170.3" y="376.2">0.5</text>
<text x="1049.1" y="436.1">1</text></g>
<g font-size="17.6" fill="#262626" text-anchor="middle">
<text x="156" y="434.5">x-coordinates</text>
<text x="516.5" y="429.5">y-coordinates</text>
<text transform="translate(12.3,228) rotate(-90)">Exact parameter</text>
<text x="844" y="434.5">x-coordinates</text>
<text x="1204" y="430.5">y-coordinates</text>
<text transform="translate(702.7,237.5) rotate(-90)">Numerically identified parameter</text>
</g>
<g font-family="'Liberation Serif',serif" font-size="40" fill="#000">
<text x="168.3" y="516" textLength="291" lengthAdjust="spacing">Exacte parameter</text>
<text x="824.4" y="516" font-style="italic" textLength="15" lengthAdjust="spacingAndGlyphs">δ</text>
<text x="854.7" y="516" textLength="27.9" lengthAdjust="spacingAndGlyphs">=</text>
<text x="893.8" y="516" textLength="47.8" lengthAdjust="spacingAndGlyphs">0%</text>
<text x="957.3" y="516" textLength="57" lengthAdjust="spacingAndGlyphs">and</text>
<text x="1030" y="516" font-style="italic" textLength="19.6" lengthAdjust="spacingAndGlyphs">β</text>
<text x="1064.5" y="516" textLength="27.9" lengthAdjust="spacingAndGlyphs">=</text>
<text x="1104" y="516" textLength="65.2" lengthAdjust="spacingAndGlyphs">0.01</text>
</g>
</svg>
</body></html>
